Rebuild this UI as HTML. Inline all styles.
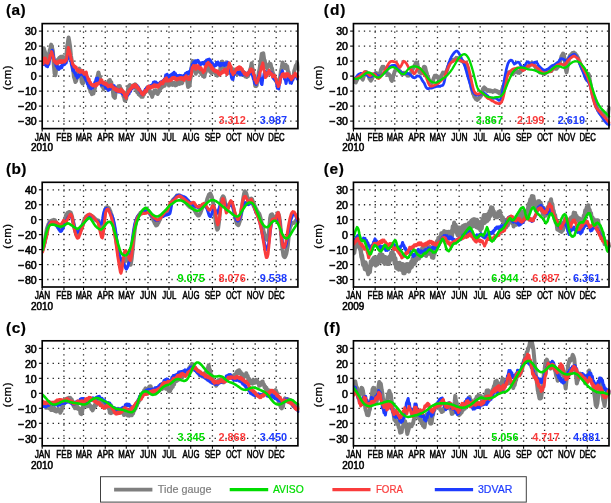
<!DOCTYPE html><html><head><meta charset="utf-8"><title>Sea level time series</title>
<style>html,body{margin:0;padding:0;background:#fff}svg{display:block}.t{font-family:"Liberation Sans",sans-serif;font-size:10.6px;fill:#000;stroke:#000;stroke-width:.55px}.p{font-family:"Liberation Sans",sans-serif;font-size:15.4px;font-weight:bold;fill:#000;stroke:#000;stroke-width:.2px}.u{font-family:"Liberation Sans",sans-serif;font-size:11.5px;fill:#000;stroke:#000;stroke-width:.25px;letter-spacing:.6px}.v{font-family:"Liberation Sans",sans-serif;font-size:11.3px;font-weight:bold}.l{font-family:"Liberation Sans",sans-serif;font-size:10.6px;stroke-width:.2px}.g{stroke:#222;stroke-width:1.3;stroke-dasharray:1.3 4.1;fill:none}.c{fill:none;stroke-linejoin:round;stroke-linecap:round}</style></head><body>
<svg width="611" height="503" viewBox="0 0 611 503">
<rect width="611" height="503" fill="#fff"/>
<g id="panel-a">
<text class="p" x="6.1" y="15.4" textLength="19.5" lengthAdjust="spacing">(a)</text>
<path class="g" d="M47.2 31.1H297.9"/>
<path class="g" d="M47.2 46.1H297.9"/>
<path class="g" d="M47.2 61.1H297.9"/>
<path class="g" d="M47.2 76.1H297.9"/>
<path class="g" d="M47.2 91.1H297.9"/>
<path class="g" d="M47.2 106.1H297.9"/>
<path class="g" d="M47.2 121.1H297.9"/>
<path class="g" d="M63.92 26.15V128.6"/>
<path class="g" d="M83.53 26.15V128.6"/>
<path class="g" d="M105.25 26.15V128.6"/>
<path class="g" d="M126.27 26.15V128.6"/>
<path class="g" d="M147.98 26.15V128.6"/>
<path class="g" d="M169 26.15V128.6"/>
<path class="g" d="M190.72 26.15V128.6"/>
<path class="g" d="M212.43 26.15V128.6"/>
<path class="g" d="M233.45 26.15V128.6"/>
<path class="g" d="M255.17 26.15V128.6"/>
<path class="g" d="M276.18 26.15V128.6"/>
<clipPath id="cp-a"><rect x="42.2" y="23.6" width="257.2" height="105"/></clipPath>
<g clip-path="url(#cp-a)">
<path class="c" stroke="#7f7f7f" stroke-width="4.0" d="M42.58 60.18 43.13 55.62 43.87 48.36 44.57 51.35 45.37 53.15 46.04 56.1 46.78 56.14 47.52 58.3 48.26 56.12 49 55.33 49.67 50.53 50.45 48.29 51.17 44.65 52.02 47.46 52.89 51.13 53.76 64.21 54.61 73.46 55.38 75.19 56.12 69.63 56.86 65.89 57.62 59.71 58.44 59.33 59.34 57.93 60.04 58.29 60.79 56.95 61.49 58.03 62.35 56.47 63.21 59.26 63.91 58.82 64.66 62.36 65.36 60.62 66.25 56.71 67.07 47.19 67.84 42.57 68.58 37.52 69.32 41.63 70.08 46.61 70.9 55.28 71.8 61.02 72.48 67.41 73.22 70.4 73.95 76.93 74.69 78.97 75.43 82.01 76.1 80.96 76.88 77.98 77.6 71.72 78.46 69.84 79.32 68.61 80.07 72.44 80.83 75.1 81.69 81.93 82.55 83.41 83.3 82.96 84.05 77.59 84.88 76.19 85.77 73.29 86.39 76 87.03 77.22 87.7 82.08 88.38 83.94 89.08 88.01 89.85 88.93 90.52 91.94 91.25 91.5 91.97 94.14 92.64 92.2 93.4 93.51 94.1 90.33 94.79 88.95 95.53 85.15 96.27 83.15 96.94 79.14 97.72 76.01 98.45 72.41 99.27 75.92 100.17 78.5 100.85 83.18 101.58 83.64 102.31 86.79 103.01 86.72 103.71 89.11 104.46 86.65 105.07 87.98 105.71 85.32 106.37 86.55 107.04 83.48 107.74 83.91 108.46 80.96 109.17 81.81 109.83 79.97 110.59 81.88 111.29 82.3 111.98 86.22 112.7 89.49 113.41 96.08 114.13 97.16 114.85 97.9 115.56 92.32 116.28 91.03 117 87.72 117.71 88.63 118.43 86.21 119.15 87.98 119.86 86.13 120.58 89.36 121.28 89.1 121.98 91.79 122.73 92.49 123.37 96 124.05 96.95 124.72 100.33 125.31 100.58 126.19 98.83 127.02 92.98 127.7 91.61 128.44 86.36 129.17 86.12 129.85 85.02 130.52 87.36 131.32 86.31 131.91 87.64 132.57 86.74 133.25 87.05 133.93 85.11 134.55 85.95 135.23 84.27 135.86 88.18 136.48 89.06 137.12 92.2 137.8 91.29 138.51 94.13 139.22 93.11 139.92 95.45 140.62 94.94 141.33 96.8 142.03 94.75 142.71 96.8 143.38 94.04 144.04 94.38 144.68 91.78 145.29 92.27 146.02 89.27 146.71 89.17 147.44 87.36 148.06 89.53 148.73 88.82 149.4 91.68 150.02 91.19 150.74 93.9 151.42 93.92 152.17 96.84 152.82 94.03 153.52 93.89 154.25 90.75 154.96 91.83 155.67 90.39 156.39 92.81 157.1 92.21 157.75 94.03 158.5 91.42 159.18 91.67 159.9 87.78 160.52 88.45 161.19 86.81 161.86 87.33 162.48 85.7 163.23 86.2 163.93 84.31 164.63 85.68 165.35 82.82 166.06 83.59 166.78 80.72 167.54 83.01 168.29 83.15 168.93 85.55 169.44 83.9 170 83.86 170.53 82.83 171.18 84.47 171.88 82.89 172.58 84.95 173.26 83.1 173.96 84.12 174.67 82.95 175.37 85.41 176.07 83.7 176.78 84.84 177.49 82.65 178.17 83.14 178.84 81.69 179.5 83.95 180.13 82.5 180.74 83.16 181.49 81.34 182.19 83.11 182.89 80.15 183.61 79.45 184.32 75.68 185.04 75.61 185.77 74.9 186.51 79.67 187.19 81.02 188.06 87.01 188.91 86.2 189.55 85.85 190.2 79.37 190.84 76.81 191.73 66.43 192.56 60.96 193.31 61.89 194.07 68.52 194.89 70.63 195.79 73.71 196.47 71.25 197.2 71.17 197.93 68.61 198.65 70.5 199.36 70.15 200.08 72.38 200.8 71.93 201.51 74.27 202.23 73.22 202.95 76.05 203.66 75.29 204.38 76.79 205.1 73.14 205.81 71.98 206.53 67.93 207.25 67.41 207.96 64.69 208.68 66.12 209.4 66.88 210.11 71.64 210.83 72.03 211.55 73.02 212.26 69.73 212.98 70.33 213.69 69.16 214.41 72.37 215.12 72.06 215.82 73.99 216.52 73.65 217.27 75.65 217.9 73.41 218.59 74.55 219.26 72.22 219.85 72.8 220.74 65.3 221.57 62.41 222.25 61.54 222.99 66.32 223.72 67.43 224.44 67.66 225.15 64.89 225.87 65.96 226.59 67.47 227.3 72.32 228.02 72.77 228.74 72.89 229.45 68.59 230.17 68.06 230.88 67.63 231.6 71.59 232.31 71.79 233.03 72.45 233.74 69.33 234.46 69.97 235.16 69.89 235.86 73.55 236.61 72.95 237.22 74.36 237.86 71.55 238.52 72.56 239.19 69.67 239.87 70.63 240.57 69.13 241.28 70.75 241.98 69.86 242.68 72.2 243.39 71.82 244.1 75.35 244.78 74.54 245.44 76.51 246.08 75.89 246.72 76.98 247.36 75.58 248.02 76.17 248.7 72.86 249.35 73.28 249.93 70.25 250.82 67.52 251.65 63.19 252.33 67.71 253.07 70.16 253.8 76.69 254.52 79.78 255.23 85.95 255.95 86.13 256.67 85.61 257.38 79.96 258.1 77.59 258.82 72.12 259.53 69.3 260.25 63.91 260.98 59.89 261.72 53.9 262.4 53.7 263.26 53.31 264.12 59.33 264.8 60.7 265.53 65.93 266.26 66.77 266.98 68.25 267.69 65.69 268.41 65.57 269.13 64.07 269.84 64.74 270.56 63.92 271.28 67.25 271.99 68.48 272.71 72.63 273.43 73.92 274.14 77.07 274.86 77.25 275.58 80.57 276.29 80.51 277.01 83.22 277.74 81.99 278.48 82.98 279.16 79.67 280.05 77.45 280.88 71.19 281.74 67.89 282.6 62.55 283.43 66.07 284.31 67.63 284.99 68.09 285.73 64.81 286.46 66.43 287.18 66.27 287.89 70.92 288.61 72.15 289.33 76.74 290.04 77.22 290.76 80.52 291.48 78.67 292.19 79.61 292.91 76.7 293.63 75.31 294.34 70.58 295.06 68.75 295.79 65.69 296.53 64.96 297.21 63.1 298.2 67.79 298.93 69.5"/>
<path class="c" stroke="#1e3cff" stroke-width="3.0" d="M42.58 62.87 43.1 64.51 43.84 62.6 44.65 64.48 45.37 63.46 46.13 66.02 46.83 64.55 47.52 66.72 48.22 64.36 48.92 64.29 49.67 59.26 50.3 58.14 50.99 53.27 51.66 53.2 52.25 50.15 53.14 55.26 53.97 58.2 54.66 62.12 55.39 62.03 56.12 66.09 56.83 65.58 57.55 68.33 58.26 67.64 58.98 69.35 59.69 66.91 60.41 68.17 61.1 65.94 61.8 67.62 62.56 64.25 63.23 65.34 63.96 63.19 64.69 64.46 65.36 61.91 66.16 62.96 66.89 59.37 67.5 59.4 68.05 54.17 68.58 52.76 69.17 51.92 69.85 56.32 70.51 57.24 71.36 64.38 72.23 66.55 72.91 70.76 73.65 69.85 74.38 72.48 75.1 72.63 75.81 75.65 76.53 74.82 77.25 77.92 77.96 75.98 78.68 76.61 79.4 73.75 80.11 74.85 80.83 72.09 81.55 73.87 82.26 71.95 82.98 75.14 83.69 74.54 84.41 77.46 85.12 77.88 85.82 80.39 86.52 80 87.27 83.77 87.88 82.49 88.52 85.94 89.18 84.76 89.85 87.96 90.55 87.05 91.27 88.64 91.98 87.03 92.64 87.87 93.4 84.87 94.1 85.56 94.79 82.38 95.51 81.93 96.22 78.58 96.94 79.95 97.66 78.17 98.37 81.66 99.09 80.63 99.81 83.58 100.52 83.14 101.24 85.13 101.96 83.54 102.67 85.03 103.39 82.72 104.08 84.89 104.78 84.46 105.54 87.9 106.2 86.5 106.91 88.84 107.63 88.2 108.33 90.37 108.99 88.02 109.63 89.64 110.27 86.58 110.91 88.1 111.57 86.13 112.23 88.06 112.88 85.62 113.49 87.61 114.24 85.75 114.94 89.2 115.64 87.8 116.33 91.2 117.03 90.32 117.79 91.71 118.44 90.17 119.15 92.08 119.87 89.59 120.58 92.13 121.29 90.52 122.01 93.53 122.72 91.88 123.37 94.54 124.13 93.41 124.83 96.37 125.52 95.56 126.24 96.71 126.95 94.55 127.67 95.2 128.35 92.87 129.04 93.94 129.82 90.33 130.52 91.39 131.28 88.43 132.07 88.74 132.83 86.01 133.56 87.8 134.28 85.87 134.97 86.52 135.62 85.63 136.37 86.58 137.05 85.39 137.77 88.18 138.38 86.96 139.02 90.01 139.68 89.1 140.35 92.48 141.05 91.71 141.77 94.48 142.48 92.17 143.14 94.17 143.89 91.66 144.57 92.46 145.29 89.2 145.9 90.35 146.54 87.95 147.2 88.9 147.87 87.21 148.55 87.97 149.25 86.28 149.96 87.42 150.66 85.59 151.36 86.86 152.07 84.67 152.77 85.26 153.45 82.19 154.12 84.29 154.78 81.85 155.42 83.39 156.03 82.19 156.76 84.65 157.45 83.41 158.18 85.68 158.79 83.87 159.43 84.66 160.09 82.32 160.76 84.04 161.44 81.82 162.14 83.5 162.85 80.79 163.55 81.96 164.26 79.34 164.99 79.25 165.7 74.92 166.35 75.94 167.14 74.19 167.86 77.63 168.5 76.31 169.22 78.27 170 75.32 170.58 76.47 171.25 74.47 171.94 75.26 172.58 73.54 173.33 74.34 174.03 72.29 174.73 74.43 175.42 73.46 176.12 76.43 176.88 75.36 177.55 77.52 178.27 75.62 179 76.68 179.67 75.31 180.43 77.09 181.13 75.56 181.82 78.42 182.54 76.17 183.25 77.23 183.97 75.18 184.66 76.37 185.36 73.59 186.12 75.29 186.79 72.52 187.51 73.72 188.24 72.06 188.91 73.74 189.67 71.33 190.37 70.54 191.06 67.82 191.76 67.68 192.46 64.25 193.21 64.32 193.84 62.02 194.5 62.93 195.17 60.7 195.79 63.12 196.54 60.89 197.23 61.67 197.93 60.23 198.65 62.56 199.36 62.33 200.08 65.06 200.8 63.75 201.51 64.24 202.23 62.43 202.95 63.49 203.66 62.52 204.38 64.37 205.1 61.9 205.81 62.12 206.53 59.93 207.25 61.49 207.96 59.58 208.68 61.07 209.4 59.04 210.11 62.46 210.83 60.75 211.55 64.07 212.26 62.79 212.98 65.27 213.69 64.47 214.41 66.24 215.12 64.88 215.84 65.49 216.55 62.58 217.27 63.7 217.99 61.96 218.7 65.07 219.42 63.62 220.14 65.85 220.85 63.35 221.57 65.26 222.27 63.5 222.97 64.62 223.72 63.61 224.34 65.5 225.01 63.05 225.68 64.65 226.3 63.48 227.05 64.72 227.75 62.11 228.45 65.39 229.18 65.48 229.92 70.85 230.6 71.31 231.46 77.56 232.31 79.22 232.99 79.36 233.73 75.15 234.46 74.57 235.18 71.18 235.89 72.27 236.61 70.36 237.33 72.59 238.04 71.69 238.76 73.54 239.44 72.59 240.11 75.09 240.91 72.49 241.49 74.81 242.12 73.5 242.79 74.82 243.47 72.96 244.13 73.63 244.78 72.62 245.42 74.72 246.07 73.13 246.71 75.5 247.36 73.92 248.02 74.28 248.7 72.66 249.37 73.92 250 71.3 250.58 73.21 251.36 72.61 252.02 75.25 252.73 76.05 253.35 78.95 254.01 79.14 254.67 83.15 255.31 82.52 256.12 84.4 256.91 81.02 257.67 80.25 258.43 76.35 259.16 75.17 259.82 72.34 260.57 80.62 261.32 83.69 261.99 84.51 262.73 78.67 263.47 77.51 264.19 73.31 264.9 74.43 265.62 71.61 266.31 73.07 267.01 71.74 267.77 73.96 268.43 71.73 269.14 73.43 269.86 71.73 270.56 73.93 271.22 72.33 271.86 75.28 272.5 74.28 273.14 78.33 273.79 77.63 274.44 79.56 275.09 78.23 275.72 81 276.54 82.32 277.33 88.24 278.08 88.08 278.77 88.8 279.41 84.13 280.02 82.82 280.87 75.08 281.74 72.7 282.42 70.67 283.15 74.38 283.88 74.53 284.6 79.15 285.31 79.76 286.03 83.42 286.73 79.99 287.43 79.74 288.18 76.82 288.8 79.63 289.47 79.22 290.14 82.89 290.76 82.52 291.51 83.29 292.21 79.85 292.91 80.01 293.63 76.49 294.34 76.72 295.06 74.17 295.86 76.77 296.65 75.66 297.21 78.95"/>
<path class="c" stroke="#fa3c3c" stroke-width="3.0" d="M42.58 62.56 43.22 63.9 43.91 58.21 44.73 57.98 45.55 58.13 46.45 63.02 47.14 61.82 47.87 63.24 48.6 60.65 49.33 60.13 50.06 55.24 50.74 54.84 51.64 51.58 52.46 54.73 53.19 56.46 53.97 61.34 54.64 60.59 55.38 62.9 56.12 61.7 56.79 63.85 57.47 61.93 58.26 63.06 58.84 61.01 59.47 62.53 60.15 60.52 60.83 62.52 61.49 60.73 62.15 62.59 62.83 60.77 63.5 61.97 64.13 60.62 64.71 62.06 65.53 59.93 66.23 60.42 66.86 57.2 67.64 52.76 68.36 47.6 69.21 50.34 70.08 53.64 70.95 58.45 71.8 60.49 72.53 64.23 73.31 64.44 73.98 66.97 74.71 65.98 75.45 67.9 76.17 67.09 76.88 70.31 77.6 69.25 78.32 71.37 79.03 70.15 79.75 72.48 80.47 70.83 81.18 71.86 81.9 70.37 82.62 72.4 83.33 71.73 84.05 74.32 84.79 72.75 85.53 73.94 86.2 71.96 86.95 75.88 87.7 77.43 88.37 80.5 89.11 79.15 89.85 82.86 90.54 82.33 91.24 84.91 92 84.52 92.67 85.91 93.39 84.62 94.12 85.9 94.79 84.44 95.55 86.13 96.25 83.59 96.94 85.25 97.66 83.31 98.37 83.8 99.09 82.58 99.81 82.74 100.52 79.77 101.24 81.08 101.96 80 102.67 83.2 103.39 82.25 104.07 84.02 104.74 82.93 105.54 84.56 106.12 83.19 106.75 85.42 107.42 84.8 108.1 86.87 108.76 85.36 109.42 86.26 110.1 85.46 110.77 86.72 111.4 84.64 111.98 86.65 112.78 86.45 113.45 88.94 114.13 87.5 114.85 89.5 115.56 88.44 116.28 90.81 116.96 89.08 117.63 91.35 118.43 89.7 119.02 91.57 119.69 90.02 120.39 91.58 121.06 88.97 121.65 91.66 122.46 90.22 123.15 92.9 123.8 91.6 124.66 96.07 125.52 96.66 126.2 98.19 126.94 94.13 127.67 94.05 128.37 91.03 129.07 91.93 129.82 89.19 130.42 89.74 131.04 87.9 131.7 88.14 132.4 85.64 133.02 87.38 133.69 84.92 134.38 86.87 135.03 84.49 135.62 86.9 136.42 85.1 137.09 87.97 137.77 86.92 138.46 89.69 139.16 88.46 139.92 91.07 140.58 91.09 141.29 93.71 142.01 92.6 142.71 94.98 143.38 92.65 144.04 93.93 144.68 90.81 145.29 92.39 146.02 89.69 146.71 91.16 147.44 87.33 148.05 88.68 148.69 86.05 149.35 87.47 150.02 86.67 150.72 88.21 151.44 86.42 152.15 87.29 152.81 85.83 153.55 87.12 154.22 84.76 154.96 86.54 155.62 84.95 156.33 86.75 157.05 85.29 157.75 87.3 158.41 84.92 159.05 86.42 159.69 83.88 160.33 84.4 160.97 82.04 161.61 83.93 162.25 82.13 162.91 83.75 163.61 80.35 164.33 81.66 165.04 78.82 165.7 79.17 166.46 77.75 167.16 81.07 167.85 79.76 168.57 81.05 169.28 79.83 170 80.57 170.72 79.1 171.43 80.22 172.15 77.71 172.87 78.63 173.58 77.3 174.3 78.94 175 77.65 175.7 79.58 176.45 78.65 177.06 79.98 177.69 78.33 178.35 79.25 179.02 77.97 179.72 79 180.45 77.5 181.16 79.13 181.82 77.56 182.58 79.44 183.28 78.33 183.97 80.33 184.69 77.39 185.4 78.58 186.12 75.71 186.83 78.32 187.55 77.06 188.26 79.54 188.99 77.96 189.72 79.55 190.41 76.62 191.28 74.45 192.13 67.52 192.77 68.13 193.43 65.56 194.07 65.78 194.94 65.68 195.79 69.3 196.62 65.58 197.5 66.39 198.18 65.66 198.92 68.64 199.65 67.38 200.37 69.69 201.08 67.63 201.8 70.19 202.52 69.87 203.23 72.7 203.95 71.02 204.67 71.05 205.38 66.31 206.1 66.78 206.82 63.55 207.53 64.46 208.25 62.39 208.97 64.73 209.68 63.92 210.4 66.26 211.1 65.27 211.8 68.84 212.55 67.61 213.16 70.09 213.81 69.54 214.47 71.28 215.12 70.64 215.77 71.91 216.44 70.51 217.09 71.91 217.7 71.06 218.42 73.89 219.1 72.94 219.85 75.14 220.52 72.78 221.25 73.58 221.97 71.79 222.64 72.72 223.4 70.22 224.1 71.22 224.79 69.4 225.53 72.63 226.27 72.38 226.94 74.46 227.72 69.3 228.45 66.97 229.27 62.87 230.17 65.08 230.85 66.38 231.58 72.07 232.31 72.22 233.01 74.69 233.71 72.33 234.46 73.19 235.07 71.18 235.71 70.61 236.37 68.62 237.04 69.3 237.74 67.46 238.46 69.35 239.17 66.79 239.83 68.56 240.59 67.31 241.29 69.21 241.98 68.67 242.67 71.56 243.37 71.54 244.13 73.87 244.79 72.74 245.5 74.69 246.23 73.2 246.93 75.63 247.59 73.36 248.23 74.38 248.86 71.89 249.5 72.48 250.15 69.49 250.82 70.89 251.47 68.91 252.08 71.43 252.83 70.01 253.53 74.39 254.23 74.99 254.95 79.99 255.66 80.35 256.38 83.17 257.1 81.26 257.81 81.06 258.53 77.63 259.25 76.46 259.96 72.06 260.68 70.59 261.41 66.45 262.15 65.92 262.83 62.86 263.72 69.11 264.55 72.24 265.38 77.52 266.26 76.26 266.94 76.02 267.68 72.04 268.41 72 269.11 70.17 269.81 73.85 270.56 72.45 271.18 74.61 271.85 73.78 272.52 76.83 273.14 74.93 273.89 76.5 274.59 75.3 275.29 78.54 276.02 78.68 276.76 82.84 277.44 82.48 278.34 86.59 279.16 85.01 279.88 82.7 280.66 77.36 281.33 77.32 282.07 74.26 282.81 74.7 283.53 73.46 284.24 77.06 284.96 75.86 285.68 76.88 286.39 73.64 287.11 74.4 287.83 73.64 288.54 76.29 289.26 74.86 289.97 77.55 290.69 76.72 291.4 79.7 292.12 76.6 292.83 77.92 293.55 75.29 294.27 76.05 294.98 73.26 295.7 75.49 296.5 74.03 297.29 76.97 297.85 76.56"/>
</g>
<rect x="42.2" y="23.6" width="255.7" height="105" fill="none" stroke="#000" stroke-width="1.65"/>
<path d="M38.9 31.1H42.2" stroke="#000" stroke-width="1.1"/>
<text class="t" x="36.7" y="35.4" text-anchor="end">30</text>
<path d="M38.9 46.1H42.2" stroke="#000" stroke-width="1.1"/>
<text class="t" x="36.7" y="50.4" text-anchor="end">20</text>
<path d="M38.9 61.1H42.2" stroke="#000" stroke-width="1.1"/>
<text class="t" x="36.7" y="65.4" text-anchor="end">10</text>
<path d="M38.9 76.1H42.2" stroke="#000" stroke-width="1.1"/>
<text class="t" x="36.7" y="80.4" text-anchor="end">0</text>
<path d="M38.9 91.1H42.2" stroke="#000" stroke-width="1.1"/>
<text class="t" x="36.7" y="95.4" text-anchor="end">−<tspan dx="0.9">10</tspan></text>
<path d="M38.9 106.1H42.2" stroke="#000" stroke-width="1.1"/>
<text class="t" x="36.7" y="110.4" text-anchor="end">−<tspan dx="0.9">20</tspan></text>
<path d="M38.9 121.1H42.2" stroke="#000" stroke-width="1.1"/>
<text class="t" x="36.7" y="125.4" text-anchor="end">−<tspan dx="0.9">30</tspan></text>
<path d="M42.2 128.6V131.6" stroke="#000" stroke-width="1.1"/>
<text class="t" x="42.5" y="141" text-anchor="middle" textLength="15.6" lengthAdjust="spacingAndGlyphs">JAN</text>
<path d="M63.92 128.6V131.6" stroke="#000" stroke-width="1.1"/>
<text class="t" x="64.22" y="141" text-anchor="middle" textLength="15.7" lengthAdjust="spacingAndGlyphs">FEB</text>
<path d="M83.53 128.6V131.6" stroke="#000" stroke-width="1.1"/>
<text class="t" x="83.83" y="141" text-anchor="middle" textLength="16.4" lengthAdjust="spacingAndGlyphs">MAR</text>
<path d="M105.25 128.6V131.6" stroke="#000" stroke-width="1.1"/>
<text class="t" x="105.55" y="141" text-anchor="middle" textLength="16.4" lengthAdjust="spacingAndGlyphs">APR</text>
<path d="M126.27 128.6V131.6" stroke="#000" stroke-width="1.1"/>
<text class="t" x="126.57" y="141" text-anchor="middle" textLength="16.4" lengthAdjust="spacingAndGlyphs">MAY</text>
<path d="M147.98 128.6V131.6" stroke="#000" stroke-width="1.1"/>
<text class="t" x="148.28" y="141" text-anchor="middle" textLength="16.4" lengthAdjust="spacingAndGlyphs">JUN</text>
<path d="M169 128.6V131.6" stroke="#000" stroke-width="1.1"/>
<text class="t" x="169.3" y="141" text-anchor="middle" textLength="13.9" lengthAdjust="spacingAndGlyphs">JUL</text>
<path d="M190.72 128.6V131.6" stroke="#000" stroke-width="1.1"/>
<text class="t" x="191.02" y="141" text-anchor="middle" textLength="16.9" lengthAdjust="spacingAndGlyphs">AUG</text>
<path d="M212.43 128.6V131.6" stroke="#000" stroke-width="1.1"/>
<text class="t" x="212.73" y="141" text-anchor="middle" textLength="16" lengthAdjust="spacingAndGlyphs">SEP</text>
<path d="M233.45 128.6V131.6" stroke="#000" stroke-width="1.1"/>
<text class="t" x="233.75" y="141" text-anchor="middle" textLength="15.5" lengthAdjust="spacingAndGlyphs">OCT</text>
<path d="M255.17 128.6V131.6" stroke="#000" stroke-width="1.1"/>
<text class="t" x="255.47" y="141" text-anchor="middle" textLength="17.2" lengthAdjust="spacingAndGlyphs">NOV</text>
<path d="M276.18 128.6V131.6" stroke="#000" stroke-width="1.1"/>
<text class="t" x="276.48" y="141" text-anchor="middle" textLength="16.4" lengthAdjust="spacingAndGlyphs">DEC</text>
<text class="t" x="42" y="151.3" text-anchor="middle" textLength="22.1" lengthAdjust="spacingAndGlyphs">2010</text>
<text class="u" transform="translate(11.2 77.4) rotate(-90)" text-anchor="middle">(cm)</text>
<text class="v" x="232.1" y="123.9" text-anchor="middle" fill="#fa3c3c" textLength="27.4" lengthAdjust="spacingAndGlyphs">3.312</text>
<text class="v" x="273.4" y="123.9" text-anchor="middle" fill="#1e3cff" textLength="27.4" lengthAdjust="spacingAndGlyphs">3.987</text>
</g>
<g id="panel-b">
<text class="p" x="6.1" y="174.1" textLength="20.4" lengthAdjust="spacing">(b)</text>
<path class="g" d="M47.2 189.78H297.9"/>
<path class="g" d="M47.2 204.74H297.9"/>
<path class="g" d="M47.2 219.69H297.9"/>
<path class="g" d="M47.2 234.65H297.9"/>
<path class="g" d="M47.2 249.61H297.9"/>
<path class="g" d="M47.2 264.56H297.9"/>
<path class="g" d="M47.2 279.52H297.9"/>
<path class="g" d="M63.92 184.85V287"/>
<path class="g" d="M83.53 184.85V287"/>
<path class="g" d="M105.25 184.85V287"/>
<path class="g" d="M126.27 184.85V287"/>
<path class="g" d="M147.98 184.85V287"/>
<path class="g" d="M169 184.85V287"/>
<path class="g" d="M190.72 184.85V287"/>
<path class="g" d="M212.43 184.85V287"/>
<path class="g" d="M233.45 184.85V287"/>
<path class="g" d="M255.17 184.85V287"/>
<path class="g" d="M276.18 184.85V287"/>
<clipPath id="cp-b"><rect x="42.2" y="182.3" width="257.2" height="104.7"/></clipPath>
<g clip-path="url(#cp-b)">
<path class="c" stroke="#7f7f7f" stroke-width="4.0" d="M42.58 249.34 43.14 247.65 43.93 244.54 44.73 241.85 45.42 237.35 46.12 233.09 46.88 228.9 47.53 226.91 48.23 224.74 48.96 223.28 49.67 221.6 50.37 221.27 51.08 220.77 51.78 220.98 52.46 220.15 53.13 220.35 53.79 219.9 54.43 220.49 55.04 220.34 55.77 221.67 56.46 222.95 57.19 224.66 57.81 224.94 58.48 226.18 59.15 226.46 59.77 227.28 60.52 227.24 61.22 227.67 61.92 226.81 62.64 225.93 63.35 223.76 64.07 221.87 64.78 219.16 65.5 217.07 66.21 214.7 66.92 213.97 67.63 212.76 68.36 212.47 69.15 211.93 69.96 212.31 70.73 212.66 71.4 214.68 72.02 216.7 72.66 219.79 73.36 222.7 74.09 226.91 74.81 229.45 75.53 232.13 76.24 233.6 76.96 234.86 77.68 234.57 78.39 234.33 79.11 233.17 79.83 232.3 80.54 230.5 81.26 229.16 81.97 226.95 82.69 225.12 83.4 222.57 84.09 220.72 84.78 218.49 85.55 217.42 86.2 216.45 86.91 216.42 87.64 215.59 88.35 215.47 89.05 214.97 89.76 215.37 90.46 215.18 91.14 215.88 91.8 215.86 92.44 216.78 93.08 216.79 93.72 217.88 94.38 217.98 95.04 218.91 95.69 219.29 96.3 220.14 97.06 220.19 97.78 220.4 98.45 220.43 99.34 223.84 100.17 227.03 101.03 230.3 101.88 230.72 102.73 227.13 103.6 221.13 104.2 217.24 104.82 212.31 105.54 209.14 106.18 207.53 106.9 207.48 107.63 207.2 108.33 207.92 108.99 208.25 109.63 209.95 110.27 211.12 110.91 213.19 111.57 215 112.23 217.77 112.88 220.48 113.49 223.96 114.24 227.91 114.94 232.65 115.64 236.68 116.36 241.44 117.07 245.42 117.79 249.75 118.5 253.23 119.22 257.48 119.93 260.12 120.65 262.86 121.36 263.82 122.08 264.87 122.8 263.97 123.51 263.14 124.23 261.7 124.95 260.75 125.66 258.78 126.38 258.2 127.1 258.68 127.81 260.73 128.53 262.05 129.26 263.88 130 264.85 130.68 264.79 131.57 259.49 132.4 252.2 133.26 243.09 134.12 234.93 134.95 227.86 135.83 223.07 136.5 220.04 137.22 218.42 137.98 216.47 138.59 215.84 139.24 214.6 139.9 213.98 140.56 212.8 141.2 212.66 141.85 211.9 142.5 211.78 143.14 210.94 143.78 210.99 144.42 210.55 145.06 211.05 145.72 211.02 146.41 211.32 147.12 210.93 147.82 211.32 148.51 211.32 149.17 212.5 149.83 213.12 150.47 214.69 151.09 215.37 151.88 217.3 152.66 218.41 153.45 220.69 154.08 221.6 154.73 223.23 155.38 224.11 156.03 225.54 156.67 225.18 157.31 224.63 157.95 223.2 158.61 222.36 159.29 220.7 159.99 219.2 160.7 217.22 161.4 216.37 162.1 214.76 162.81 214.41 163.52 213.45 164.2 213.37 164.85 212.72 165.46 212.46 166.1 211.36 166.78 211.07 167.4 210.19 168.07 210.01 168.76 208.87 169.41 208.15 170 206.23 170.78 204.73 171.44 202.5 172.15 201.32 172.76 200.12 173.4 199.61 174.06 198.84 174.73 198.53 175.41 197.37 176.11 196.83 176.82 195.65 177.52 195.86 178.22 195.46 178.93 195.86 179.63 195.54 180.31 196.29 180.97 196.58 181.61 197.75 182.25 198.28 182.89 199.49 183.53 199.72 184.17 200.95 184.81 201.27 185.47 202.4 186.15 202.78 186.85 203.96 187.56 204.55 188.26 205.66 188.96 206.1 189.67 206.93 190.38 206.86 191.06 207.76 191.72 207.58 192.36 208.2 193 208.21 193.64 209.06 194.29 209.72 194.95 211.24 195.6 212.02 196.21 213.52 196.96 214.05 197.66 215.36 198.36 215.62 199.08 215.35 199.79 213.91 200.51 212.69 201.23 210.55 201.94 208.79 202.66 206.79 203.39 206.09 204.13 205.32 204.81 205.16 205.7 203.52 206.53 201.97 207.36 198.69 208.25 196.47 208.93 194.71 209.67 193.98 210.4 193.61 211.12 195.23 211.83 197 212.55 200.13 213.28 203.68 214.01 209.03 214.69 213.38 215.58 221.01 216.41 226.42 217.27 229.64 218.13 228.34 218.99 221.88 219.85 212.78 220.68 205.43 221.57 199.1 222.27 197.6 223.02 196.33 223.72 196.96 224.61 199.84 225.44 204.73 226.27 207.56 227.16 209.43 227.83 208.06 228.55 206.25 229.31 204.15 229.93 204.25 230.6 203.64 231.26 204.39 231.88 204.43 232.63 206.1 233.33 207.88 234.03 210.92 234.75 214.19 235.46 218.52 236.18 221.51 236.9 223.99 237.61 224.78 238.33 225.13 239.05 223.39 239.76 221.32 240.48 217.43 241.2 213.34 241.91 207.62 242.63 202.74 243.35 197.66 244.06 193.87 244.78 191.29 245.5 191.92 246.21 193.3 246.93 195.9 247.64 198.03 248.36 201.14 249.07 202.18 249.79 201.71 250.5 199.12 251.22 198.46 251.94 198.87 252.65 201.03 253.37 202.45 254.09 204.54 254.8 206.06 255.52 207.95 256.24 209.05 256.95 210.64 257.67 211.59 258.39 213.16 259.1 213.55 259.82 215.44 260.54 217.99 261.25 221.48 261.97 224.27 262.69 227.64 263.4 230.1 264.12 233.17 264.83 235.39 265.55 238.1 266.26 238.99 266.99 239.58 267.72 238.58 268.41 236.86 269.28 227.31 270.13 218.19 270.75 215.13 271.4 214.65 272.07 214.32 272.77 215.56 273.49 216.77 274.21 218.33 274.94 218.05 275.67 218.2 276.36 216.99 277.23 214.73 278.08 212.87 278.72 214.6 279.38 217.44 280.02 222.08 280.89 231.21 281.74 241.63 282.57 249.47 283.45 255.64 284.13 256.88 284.87 257.18 285.6 255.72 286.33 253.55 287.07 249.6 287.75 245.69 288.61 237.33 289.47 230.39 290.15 226.98 290.89 225.4 291.62 223.57 292.34 223.24 293.05 222.88 293.77 223.04 294.48 222.15 295.19 221.75 295.92 220.48 296.78 220.38 297.66 219.59 298.28 219.84"/>
<path class="c" stroke="#1e3cff" stroke-width="3.0" d="M42.58 250.61 43.14 249.09 43.93 246.13 44.73 243.27 45.45 239.72 46.16 236.45 46.88 232.65 47.59 229.48 48.31 225.98 49.02 223.88 49.71 222.69 50.4 222.7 51.17 222.46 51.82 222.92 52.53 223.14 53.26 223.95 53.97 223.95 54.68 224.63 55.41 224.76 56.11 225.59 56.76 226.06 57.53 227.47 58.23 228.33 58.91 229.61 59.56 230.29 60.19 231.37 60.84 231.43 61.54 231.04 62.27 229.6 62.99 228.39 63.7 226.33 64.41 224.76 65.14 222.81 65.9 221.57 66.69 219.84 67.5 218.58 68.14 217.28 68.8 216.55 69.46 215.67 70.08 215.75 70.83 215.95 71.53 217.15 72.23 218.4 72.95 221.01 73.66 223.5 74.38 226.16 75.1 228.19 75.81 230.42 76.53 231.68 77.25 232.29 77.96 231.64 78.68 231.29 79.4 230.41 80.11 229.54 80.83 228.13 81.53 226.99 82.23 225.09 82.98 223.92 83.59 222.8 84.22 222.18 84.88 221.24 85.55 220.82 86.23 219.93 86.94 219.34 87.65 218.23 88.35 217.8 89.05 217.03 89.76 216.8 90.46 216.23 91.14 216.39 91.8 216.4 92.44 217.25 93.08 217.51 93.72 218.62 94.38 219.19 95.04 220.1 95.69 220.34 96.3 220.84 97.06 220.73 97.78 221.42 98.45 221.81 99.34 223.41 100.17 223.96 101.04 224.09 101.88 222.48 102.63 218.76 103.39 214.19 104.18 211.26 105.11 208.91 105.69 208.81 106.33 208.38 107.01 208.79 107.69 208.71 108.38 209.75 109.08 210.65 109.79 212.25 110.48 213.35 111.15 214.55 111.81 215.4 112.45 216.82 113.06 218.41 113.81 221.48 114.51 224.52 115.21 228.56 115.93 232.97 116.64 238.51 117.36 243.14 118.07 247.6 118.79 251.3 119.5 255.1 120.2 257.28 120.9 259.19 121.65 260.34 122.27 261.57 122.94 262.35 123.61 263.61 124.23 264.38 124.98 266.43 125.68 268.05 126.38 269.06 127.1 268.01 127.81 266.3 128.53 263.67 129.26 261.35 130 257.77 130.68 254.1 131.54 246.44 132.4 238.99 133.07 233.92 133.79 229.33 134.55 224.98 135.16 222.73 135.79 220.37 136.45 219.03 137.12 217.2 137.8 216.38 138.51 215.32 139.22 215 139.92 214.19 140.61 213.71 141.3 212.96 142 212.79 142.71 212.13 143.45 212 144.22 211.37 144.98 211.45 145.72 211.02 146.43 211.4 147.13 211.22 147.82 211.88 148.51 212.15 149.2 213.05 149.9 213.49 150.6 214.68 151.31 215.14 152.05 216.19 152.81 216.74 153.57 217.91 154.31 218.51 155.02 219.63 155.72 219.98 156.42 220.59 157.11 220.47 157.81 220.48 158.52 219.64 159.22 219.12 159.9 218.2 160.56 217.98 161.2 217.03 161.84 216.87 162.48 216.45 163.12 216.51 163.76 215.96 164.4 215.76 165.06 215.12 165.76 215.18 166.48 214.74 167.19 214.91 167.85 214.26 168.61 214.47 169.31 214.16 170 213.31 170.7 209.94 171.4 205.88 172.15 202.17 172.76 200.88 173.4 199.56 174.06 199.12 174.73 198.17 175.41 197.73 176.11 196.58 176.82 196.08 177.52 195.23 178.22 195.31 178.93 195.04 179.63 195.29 180.31 195.36 180.97 195.94 181.61 195.99 182.25 196.39 182.89 196.33 183.53 196.82 184.17 196.7 184.81 197.27 185.47 197.43 186.15 198.32 186.85 198.8 187.56 199.71 188.26 200.2 188.96 201.36 189.67 201.88 190.38 202.91 191.06 203.47 191.72 204.22 192.36 204.66 193 205.29 193.64 205.57 194.28 206.11 194.91 206.19 195.55 206.65 196.21 206.64 196.89 207.16 197.6 207.23 198.31 207.8 199.01 207.95 199.71 208.14 200.42 207.5 201.12 207.18 201.8 206.49 202.46 206.4 203.1 205.86 203.74 205.86 204.38 205.59 205.04 206.1 205.7 206.6 206.35 207.72 206.96 208.64 207.72 210.98 208.44 213.22 209.11 215.38 210 216.38 210.83 216.44 211.66 213.91 212.55 211.3 213.23 209.8 213.96 209.19 214.69 208.79 215.41 210.33 216.12 211.96 216.84 213.36 217.56 212.32 218.27 210.72 218.99 208.45 219.71 206.68 220.42 203.95 221.14 202.52 221.86 201.32 222.57 201.4 223.29 201.47 224.01 202.32 224.72 203.19 225.44 204.73 226.14 205.62 226.84 207.13 227.59 207.53 228.2 207.44 228.85 206.23 229.52 205.62 230.17 204.8 230.82 205.1 231.48 205.2 232.13 205.88 232.74 206.54 233.49 209.24 234.19 212.23 234.89 215.57 235.61 217.7 236.32 219.83 237.04 220.57 237.76 221.11 238.47 220.5 239.19 219.82 239.91 217.87 240.62 215.95 241.34 213.24 242.06 210.52 242.77 207.17 243.49 204.97 244.18 203.32 244.88 202.83 245.64 202.52 246.29 203.05 247 203.61 247.72 204.61 248.43 204.71 249.13 204.46 249.84 203.33 250.54 202.84 251.22 202.47 251.89 203.4 252.55 204.24 253.19 205.84 253.8 206.97 254.55 208.94 255.25 210.63 255.95 212.47 256.67 213.65 257.38 215.26 258.1 216.57 258.82 219.03 259.53 221.19 260.25 224.33 260.97 227.46 261.68 231.45 262.4 234.55 263.12 237.93 263.83 240.48 264.55 243.46 265.28 245.99 266.01 248.61 266.69 249.44 267.58 248.73 268.41 245.18 269.27 239.55 270.13 232.48 270.96 226.64 271.85 221.71 272.53 220.44 273.27 219.65 274 219.64 274.73 219.69 275.47 220.69 276.15 220.64 277.04 219.34 277.87 217.54 278.73 217.86 279.59 219.86 280.45 226.92 281.31 234.4 282.17 240.77 283.02 245.01 283.88 247.27 284.74 247.2 285.6 246.16 286.46 243.23 287.29 238.56 288.18 232.41 288.86 228.83 289.6 224.78 290.33 221.87 291.05 219.1 291.76 217.33 292.48 215.47 293.2 214.42 293.91 213.41 294.63 213.65 295.37 214.61 296.11 217.01 296.78 218.74 297.66 220.99 298.28 222"/>
<path class="c" stroke="#fa3c3c" stroke-width="3.0" d="M42.58 252.05 43.31 249.55 44.3 245.6 44.98 243.16 45.72 239.99 46.45 237.2 47.17 233.73 47.88 230.31 48.6 227.04 49.3 225.19 49.99 223.61 50.74 222.79 51.35 222.08 51.99 222.04 52.65 222.02 53.32 222.29 54 222.01 54.71 222.17 55.42 222.09 56.12 222.51 56.82 222.4 57.53 223.02 58.23 223.38 58.91 224.14 59.58 224.2 60.24 224.56 60.88 224.13 61.49 223.91 62.24 222.63 62.94 221.5 63.64 220.31 64.36 220.93 65.07 221.56 65.79 222.12 66.49 221.11 67.18 220.14 67.93 218.42 68.56 217.53 69.25 215.85 69.92 214.81 70.51 214.14 71.42 215.13 72.23 217.44 73.06 222.19 73.95 226.96 74.64 230.42 75.38 233.2 76.1 235.88 76.75 237.13 77.38 238.17 78.03 238.07 78.73 237.5 79.46 235.51 80.18 233.83 80.9 231.52 81.61 229.47 82.33 227.2 83.05 225.21 83.76 222.65 84.48 220.78 85.17 218.51 85.87 217.23 86.63 215.8 87.29 215.39 88 214.61 88.72 214.37 89.42 213.95 90.09 214.29 90.75 214.58 91.39 215.34 92 215.43 92.75 216.38 93.45 217.27 94.15 218.64 94.87 219.16 95.58 220.01 96.3 220.52 97.02 221.58 97.73 222.32 98.45 224.16 99.18 226.94 99.92 230.75 100.6 233.69 101.5 237.24 102.31 237.95 103.06 235.14 103.82 229.23 104.64 221.05 105.54 213.08 106.23 210.75 106.96 209.32 107.69 209.02 108.4 209.4 109.12 211.34 109.83 212.92 110.55 215.01 111.26 216.87 111.98 219.68 112.7 222.83 113.41 226.74 114.13 230.44 114.85 235.31 115.56 240.12 116.28 245.62 116.98 250.63 117.68 256.01 118.43 260.54 119.06 264.61 119.75 268.49 120.42 272.12 121.01 273.24 121.92 269.72 122.73 262.65 123.6 256.96 124.45 252.15 125.17 250.77 125.95 250.68 126.62 251.81 127.36 253.23 128.1 255.31 128.83 257.35 129.57 259.93 130.25 260.54 131.15 257.8 131.97 251.89 132.69 244.77 133.47 236.64 134.14 232.22 134.88 227.62 135.62 224.08 136.31 221.09 137.01 219.3 137.77 217.29 138.43 216.55 139.14 215.34 139.86 214.88 140.56 214.15 141.22 214.16 141.86 213.58 142.5 213.69 143.14 213.27 143.78 213.48 144.42 213.26 145.06 213.47 145.72 213.14 146.41 213.2 147.12 212.56 147.82 212.66 148.51 212.22 149.16 212.54 149.8 212.7 150.44 213.63 151.09 214.12 151.76 215.07 152.44 215.78 153.15 216.98 153.88 217.49 154.5 218.13 155.16 218.23 155.83 218.9 156.49 219.17 157.11 219.92 157.84 219.77 158.55 219.74 159.23 219.08 159.9 218.8 160.56 217.89 161.2 217.21 161.84 216.02 162.48 215.5 163.12 214.49 163.76 213.91 164.4 212.75 165.06 212.12 165.76 211.21 166.48 211.13 167.19 210.46 167.85 209.82 168.61 207.65 169.31 205.38 170 203.14 170.7 202.4 171.4 201.8 172.15 201.51 172.76 200.81 173.4 200.6 174.06 199.9 174.73 199.59 175.41 198.61 176.11 197.99 176.82 197.07 177.52 196.79 178.22 196.21 178.93 196.35 179.63 195.89 180.31 196.34 180.97 196.44 181.61 197.2 182.25 197.62 182.89 198.3 183.53 198.5 184.17 199.34 184.81 199.48 185.47 200.33 186.15 200.57 186.85 201.34 187.56 201.73 188.26 202.44 188.96 202.63 189.67 203.23 190.38 203.2 191.06 203.48 191.72 203.03 192.36 202.89 193 202.22 193.64 202.51 194.28 202.74 194.91 204.04 195.55 204.81 196.21 205.98 196.89 206.27 197.6 206.91 198.31 206.82 199.01 207.14 199.71 206.52 200.42 206.16 201.12 205.2 201.8 204.76 202.46 203.92 203.1 203.83 203.74 203.36 204.38 203.88 205.04 204.03 205.7 205.25 206.35 206.1 206.96 207.13 207.71 208.21 208.41 209.6 209.11 210.16 209.84 210.09 210.58 208.93 211.26 208.18 212.15 206.3 212.98 205.66 213.85 206.41 214.69 208.8 215.46 212.58 216.2 217.37 216.94 221.9 217.7 224.88 218.55 222.78 219.42 218.64 220.28 211.35 221.14 204.73 221.99 200.21 222.86 198.53 223.5 199.31 224.17 201.91 224.79 204.27 225.56 209.62 226.3 213.04 227.12 212.11 228.02 208.84 228.71 206.53 229.44 203.47 230.17 201.66 230.9 200.71 231.63 201.47 232.31 202.38 233.17 205.58 234.03 208.97 234.71 211.7 235.45 213.97 236.18 216.36 236.9 217.93 237.61 219.64 238.33 219.53 239.05 218.46 239.76 215.78 240.48 213.03 241.2 209.13 241.91 205.17 242.63 201.32 243.35 199 244.06 197.02 244.78 196.35 245.5 196.54 246.21 197.96 246.93 199.07 247.64 200.77 248.36 201.99 249.07 202.9 249.79 201.7 250.5 200.26 251.22 199.31 251.94 200.78 252.65 202.55 253.37 204.95 254.09 206.78 254.8 209.3 255.52 211.17 256.24 213.17 256.95 214.55 257.67 216.51 258.39 218.28 259.1 220.74 259.82 222.83 260.54 226 261.25 229.01 261.97 233 262.69 236.74 263.4 241.37 264.12 245.55 264.85 250.35 265.58 254.38 266.26 257.51 267.15 257.46 267.98 254.41 268.84 246.31 269.7 237.19 270.53 228.51 271.42 222.08 272.1 219.75 272.84 219.21 273.57 218.83 274.3 219.33 275.04 219.89 275.72 219.96 276.61 216.45 277.44 213.36 278.3 212.53 279.16 215.33 280.02 223.02 280.88 232.48 281.74 239.64 282.6 245.34 283.45 247.35 284.31 247.56 285.17 245.03 286.03 241.23 286.86 236.05 287.75 230.55 288.43 226.22 289.17 222.32 289.9 218.7 290.62 216.17 291.33 213.77 292.05 212.47 292.77 211.63 293.48 211.87 294.2 211.95 294.92 213.19 295.65 214.73 296.35 216.69 297.08 217.79 297.79 219.17 298.28 219.61"/>
<path class="c" stroke="#00dc00" stroke-width="2.6" d="M42.58 250.19 43.31 246.82 44.3 242.24 44.97 239.02 45.69 235.62 46.45 232.57 47.06 230.62 47.69 228.83 48.35 227.31 49.02 226.12 49.69 225.35 50.38 224.94 51.09 224.74 51.82 224.62 52.44 224.57 53.08 224.62 53.73 224.74 54.39 224.89 55.04 225.05 55.68 225.23 56.33 225.46 56.97 225.71 57.62 225.94 58.26 226.12 58.91 226.28 59.55 226.43 60.2 226.55 60.84 226.6 61.49 226.55 62.13 226.38 62.78 226.1 63.42 225.76 64.07 225.39 64.71 225.05 65.35 224.67 66 224.21 66.64 223.78 67.29 223.46 67.93 223.33 68.58 223.45 69.22 223.75 69.87 224.17 70.51 224.62 71.16 225.05 71.8 225.46 72.45 225.91 73.09 226.37 73.74 226.8 74.38 227.2 75.02 227.61 75.67 228.04 76.31 228.42 76.96 228.67 77.6 228.7 78.25 228.46 78.89 227.99 79.54 227.39 80.18 226.74 80.83 226.12 81.48 225.52 82.14 224.88 82.79 224.22 83.43 223.55 84.05 222.9 84.78 222.06 85.48 221.2 86.17 220.38 86.84 219.68 87.5 219.04 88.14 218.44 88.78 218.04 89.42 217.96 90.06 218.31 90.7 218.98 91.34 219.84 92 220.75 92.67 221.74 93.35 222.87 94.06 224.02 94.79 225.05 95.41 225.8 96.05 226.52 96.71 227.19 97.37 227.78 98.02 228.27 98.66 228.69 99.31 229.06 99.95 229.33 100.6 229.44 101.24 229.35 101.89 228.98 102.56 228.37 103.22 227.62 103.86 226.83 104.46 226.12 105.15 225.26 105.78 224.38 106.4 223.55 107.04 222.9 107.73 222.38 108.43 221.96 109.14 221.75 109.83 221.83 110.5 222.26 111.16 222.97 111.8 223.92 112.41 225.05 113.16 226.92 113.86 229.15 114.56 231.5 115.28 233.93 115.99 236.47 116.71 239.02 117.42 241.57 118.13 244.11 118.86 246.54 119.62 248.93 120.41 251.19 121.22 252.98 121.85 253.87 122.5 254.46 123.15 254.84 123.8 255.13 124.44 255.38 125.08 255.53 125.72 255.48 126.38 255.13 127.08 254.41 127.8 253.38 128.51 252.16 129.17 250.83 129.93 248.96 130.63 246.86 131.32 244.39 132.04 241.37 132.75 237.98 133.47 234.72 134.19 231.69 134.9 228.79 135.62 226.12 136.34 223.77 137.05 221.67 137.77 219.68 138.46 217.77 139.16 215.98 139.92 214.31 140.57 213.11 141.26 211.96 141.98 210.91 142.71 210.01 143.45 209.22 144.22 208.53 144.98 208.04 145.72 207.86 146.43 208.07 147.13 208.6 147.82 209.3 148.51 210.01 149.21 210.76 149.92 211.62 150.63 212.48 151.31 213.23 151.95 213.87 152.57 214.44 153.2 214.94 153.88 215.38 154.49 215.7 155.15 215.99 155.82 216.23 156.48 216.39 157.11 216.45 157.84 216.36 158.55 216.12 159.23 215.77 159.9 215.38 160.54 214.94 161.16 214.44 161.79 213.87 162.48 213.23 163.08 212.66 163.72 212.04 164.38 211.38 165.05 210.7 165.7 210.01 166.38 209.27 167.09 208.47 167.79 207.67 168.42 206.95 168.93 206.36 169.51 205.58 170 205.07 170.53 204.72 171.18 204.37 171.88 203.99 172.58 203.56 173.25 203.04 173.93 202.46 174.64 201.89 175.37 201.41 175.99 201.1 176.63 200.83 177.29 200.61 177.95 200.44 178.6 200.34 179.24 200.31 179.89 200.34 180.53 200.43 181.18 200.58 181.82 200.77 182.46 201.02 183.11 201.32 183.75 201.68 184.4 202.07 185.04 202.49 185.68 202.95 186.33 203.45 186.97 203.98 187.62 204.53 188.26 205.07 188.91 205.62 189.55 206.2 190.2 206.78 190.84 207.34 191.49 207.86 192.13 208.36 192.78 208.84 193.42 209.29 194.07 209.69 194.71 210.01 195.35 210.27 196 210.49 196.64 210.64 197.29 210.7 197.93 210.65 198.58 210.48 199.22 210.2 199.87 209.84 200.51 209.41 201.16 208.93 201.8 208.38 202.45 207.75 203.09 207.07 203.74 206.38 204.38 205.71 205.02 205.05 205.67 204.37 206.31 203.7 206.96 203.07 207.6 202.49 208.25 201.96 208.89 201.45 209.54 200.99 210.18 200.62 210.83 200.34 211.47 200.17 212.12 200.1 212.76 200.11 213.41 200.2 214.05 200.34 214.69 200.56 215.34 200.86 215.98 201.23 216.63 201.63 217.27 202.06 217.92 202.52 218.56 203.03 219.21 203.57 219.85 204.11 220.5 204.64 221.14 205.15 221.79 205.66 222.43 206.17 223.08 206.68 223.72 207.21 224.36 207.77 225.01 208.34 225.65 208.93 226.3 209.49 226.94 210.01 227.59 210.47 228.23 210.89 228.88 211.29 229.52 211.7 230.17 212.16 230.81 212.7 231.46 213.29 232.1 213.9 232.75 214.46 233.39 214.95 234.04 215.37 234.71 215.77 235.37 216.1 236.01 216.34 236.61 216.45 237.3 216.44 237.93 216.28 238.55 215.93 239.19 215.38 239.87 214.53 240.57 213.43 241.28 212.23 241.98 211.08 242.68 209.98 243.39 208.87 244.1 207.79 244.78 206.79 245.44 205.86 246.08 204.97 246.72 204.19 247.36 203.56 248 203.09 248.63 202.76 249.27 202.56 249.93 202.49 250.62 202.53 251.33 202.69 252.04 203.02 252.73 203.56 253.39 204.36 254.02 205.37 254.66 206.56 255.31 207.86 256 209.32 256.7 210.95 257.41 212.65 258.1 214.31 258.75 215.97 259.39 217.66 260.03 219.29 260.68 220.75 261.36 222.03 262.06 223.17 262.77 224.18 263.47 225.05 264.17 225.81 264.88 226.46 265.58 226.94 266.26 227.2 266.92 227.21 267.56 227 268.2 226.62 268.84 226.12 269.48 225.44 270.12 224.58 270.76 223.68 271.42 222.9 272.11 222.21 272.81 221.56 273.52 221.04 274.21 220.75 274.86 220.69 275.5 220.82 276.13 221.18 276.79 221.83 277.48 222.85 278.19 224.18 278.9 225.68 279.59 227.2 280.25 228.78 280.88 230.49 281.52 232.16 282.17 233.64 282.85 234.97 283.55 236.19 284.26 237.22 284.96 237.94 285.66 238.32 286.37 238.41 287.07 238.27 287.75 237.94 288.41 237.39 289.05 236.6 289.69 235.68 290.33 234.72 290.97 233.72 291.61 232.64 292.25 231.52 292.91 230.42 293.6 229.33 294.31 228.24 295.01 227.16 295.7 226.12 296.42 225.03 297.16 223.92 297.82 222.94 298.28 222.26"/>
</g>
<rect x="42.2" y="182.3" width="255.7" height="104.7" fill="none" stroke="#000" stroke-width="1.65"/>
<path d="M38.9 189.78H42.2" stroke="#000" stroke-width="1.1"/>
<text class="t" x="36.7" y="194.08" text-anchor="end">40</text>
<path d="M38.9 204.74H42.2" stroke="#000" stroke-width="1.1"/>
<text class="t" x="36.7" y="209.04" text-anchor="end">20</text>
<path d="M38.9 219.69H42.2" stroke="#000" stroke-width="1.1"/>
<text class="t" x="36.7" y="223.99" text-anchor="end">0</text>
<path d="M38.9 234.65H42.2" stroke="#000" stroke-width="1.1"/>
<text class="t" x="36.7" y="238.95" text-anchor="end">−<tspan dx="0.9">20</tspan></text>
<path d="M38.9 249.61H42.2" stroke="#000" stroke-width="1.1"/>
<text class="t" x="36.7" y="253.91" text-anchor="end">−<tspan dx="0.9">40</tspan></text>
<path d="M38.9 264.56H42.2" stroke="#000" stroke-width="1.1"/>
<text class="t" x="36.7" y="268.86" text-anchor="end">−<tspan dx="0.9">60</tspan></text>
<path d="M38.9 279.52H42.2" stroke="#000" stroke-width="1.1"/>
<text class="t" x="36.7" y="283.82" text-anchor="end">−<tspan dx="0.9">80</tspan></text>
<path d="M42.2 287V290" stroke="#000" stroke-width="1.1"/>
<text class="t" x="42.5" y="299.4" text-anchor="middle" textLength="15.6" lengthAdjust="spacingAndGlyphs">JAN</text>
<path d="M63.92 287V290" stroke="#000" stroke-width="1.1"/>
<text class="t" x="64.22" y="299.4" text-anchor="middle" textLength="15.7" lengthAdjust="spacingAndGlyphs">FEB</text>
<path d="M83.53 287V290" stroke="#000" stroke-width="1.1"/>
<text class="t" x="83.83" y="299.4" text-anchor="middle" textLength="16.4" lengthAdjust="spacingAndGlyphs">MAR</text>
<path d="M105.25 287V290" stroke="#000" stroke-width="1.1"/>
<text class="t" x="105.55" y="299.4" text-anchor="middle" textLength="16.4" lengthAdjust="spacingAndGlyphs">APR</text>
<path d="M126.27 287V290" stroke="#000" stroke-width="1.1"/>
<text class="t" x="126.57" y="299.4" text-anchor="middle" textLength="16.4" lengthAdjust="spacingAndGlyphs">MAY</text>
<path d="M147.98 287V290" stroke="#000" stroke-width="1.1"/>
<text class="t" x="148.28" y="299.4" text-anchor="middle" textLength="16.4" lengthAdjust="spacingAndGlyphs">JUN</text>
<path d="M169 287V290" stroke="#000" stroke-width="1.1"/>
<text class="t" x="169.3" y="299.4" text-anchor="middle" textLength="13.9" lengthAdjust="spacingAndGlyphs">JUL</text>
<path d="M190.72 287V290" stroke="#000" stroke-width="1.1"/>
<text class="t" x="191.02" y="299.4" text-anchor="middle" textLength="16.9" lengthAdjust="spacingAndGlyphs">AUG</text>
<path d="M212.43 287V290" stroke="#000" stroke-width="1.1"/>
<text class="t" x="212.73" y="299.4" text-anchor="middle" textLength="16" lengthAdjust="spacingAndGlyphs">SEP</text>
<path d="M233.45 287V290" stroke="#000" stroke-width="1.1"/>
<text class="t" x="233.75" y="299.4" text-anchor="middle" textLength="15.5" lengthAdjust="spacingAndGlyphs">OCT</text>
<path d="M255.17 287V290" stroke="#000" stroke-width="1.1"/>
<text class="t" x="255.47" y="299.4" text-anchor="middle" textLength="17.2" lengthAdjust="spacingAndGlyphs">NOV</text>
<path d="M276.18 287V290" stroke="#000" stroke-width="1.1"/>
<text class="t" x="276.48" y="299.4" text-anchor="middle" textLength="16.4" lengthAdjust="spacingAndGlyphs">DEC</text>
<text class="t" x="42" y="309.7" text-anchor="middle" textLength="22.1" lengthAdjust="spacingAndGlyphs">2010</text>
<text class="u" transform="translate(11.2 235.95) rotate(-90)" text-anchor="middle">(cm)</text>
<text class="v" x="191.1" y="282.32" text-anchor="middle" fill="#00dc00" textLength="27.4" lengthAdjust="spacingAndGlyphs">9.075</text>
<text class="v" x="232.1" y="282.32" text-anchor="middle" fill="#fa3c3c" textLength="27.4" lengthAdjust="spacingAndGlyphs">8.076</text>
<text class="v" x="273.4" y="282.32" text-anchor="middle" fill="#1e3cff" textLength="27.4" lengthAdjust="spacingAndGlyphs">9.538</text>
</g>
<g id="panel-c">
<text class="p" x="6.1" y="332.6" textLength="19.9" lengthAdjust="spacing">(c)</text>
<path class="g" d="M47.2 348.3H297.9"/>
<path class="g" d="M47.2 363.3H297.9"/>
<path class="g" d="M47.2 378.3H297.9"/>
<path class="g" d="M47.2 393.3H297.9"/>
<path class="g" d="M47.2 408.3H297.9"/>
<path class="g" d="M47.2 423.3H297.9"/>
<path class="g" d="M47.2 438.3H297.9"/>
<path class="g" d="M63.92 343.35V445.8"/>
<path class="g" d="M83.53 343.35V445.8"/>
<path class="g" d="M105.25 343.35V445.8"/>
<path class="g" d="M126.27 343.35V445.8"/>
<path class="g" d="M147.98 343.35V445.8"/>
<path class="g" d="M169 343.35V445.8"/>
<path class="g" d="M190.72 343.35V445.8"/>
<path class="g" d="M212.43 343.35V445.8"/>
<path class="g" d="M233.45 343.35V445.8"/>
<path class="g" d="M255.17 343.35V445.8"/>
<path class="g" d="M276.18 343.35V445.8"/>
<clipPath id="cp-c"><rect x="42.2" y="340.8" width="257.2" height="105"/></clipPath>
<g clip-path="url(#cp-c)">
<path class="c" stroke="#7f7f7f" stroke-width="4.0" d="M42.58 401.41 43.07 403.82 43.77 402.92 44.58 405.73 45.37 404.99 45.99 407.8 46.63 406.52 47.29 407.65 47.95 405.77 48.6 407.86 49.24 405.92 49.89 408.48 50.53 408 51.18 410.02 51.82 407.71 52.46 409.97 53.11 408.27 53.75 410.16 54.4 408.09 55.04 411.06 55.68 409.72 56.33 411.51 56.97 409.59 57.62 410.43 58.26 408.82 58.92 410.75 59.6 409.76 60.28 412.8 60.91 411.27 61.49 410.77 62.29 406.72 62.96 406.61 63.64 402.82 64.32 403.17 64.99 400.26 65.79 400.87 66.37 398.81 67.02 400.74 67.7 398.29 68.38 399.48 69.01 397.92 69.74 399.33 70.45 397.92 71.13 400.06 71.8 399.5 72.44 403.23 73.06 402.95 73.69 406.31 74.38 406.64 75 408.25 75.67 406.32 76.36 407.27 77.01 405.9 77.6 408.67 78.42 407.89 79.12 409.48 79.75 408.59 80.53 413.61 81.26 414.08 82.01 412.72 82.98 406.07 83.53 407.64 84.16 403.77 84.84 405.47 85.53 404.22 86.2 405.67 86.84 405.23 87.49 406.27 88.13 404.32 88.78 405.92 89.42 404.57 90.08 406.69 90.76 405.9 91.43 409.06 92.06 408.25 92.64 410.35 93.4 408.32 94.03 407.9 94.79 404.84 95.37 406.21 96 403.56 96.68 404.68 97.36 401.79 98.02 402.84 98.66 400.64 99.31 403.26 99.95 401.39 100.6 403.66 101.24 401.03 101.88 403.06 102.53 401.07 103.17 402.79 103.82 402.26 104.46 403.74 105.11 403.2 105.77 405.04 106.43 403.26 107.07 405.21 107.69 404.23 108.42 408.17 109.13 407.88 109.81 412.66 110.48 411.22 111.12 413.11 111.74 410.84 112.37 411.73 113.06 409.71 113.66 412.23 114.3 409.89 114.96 411.74 115.63 409.82 116.28 411.09 116.92 409.4 117.57 410.28 118.21 408.79 118.86 410.9 119.5 410.36 120.15 412.74 120.79 411.16 121.44 412.39 122.08 411.23 122.73 413.01 123.37 411.6 124.02 415.03 124.66 412.46 125.31 413.95 125.95 412.52 126.59 414.77 127.24 412.95 127.88 415.42 128.53 413.64 129.17 415.72 129.82 413.41 130.46 415 131.11 413.02 131.75 415.29 132.4 411.64 133.04 413.6 133.69 410.65 134.33 410.48 134.98 408.13 135.62 408.35 136.26 404.58 136.91 405.7 137.55 401.68 138.2 402.8 138.84 399.96 139.49 400.62 140.15 396.61 140.81 397.5 141.45 394.37 142.07 395.3 142.8 392.54 143.51 393.4 144.19 390.23 144.86 391.01 145.52 388.34 146.16 391.29 146.8 389.46 147.44 390.86 148.08 388.85 148.72 389.76 149.36 386.56 150.02 388.2 150.7 386.4 151.4 389.58 152.11 389.03 152.81 392.22 153.51 391.46 154.22 393.26 154.92 391.05 155.6 393.56 156.24 391.13 156.86 392.25 157.49 389.96 158.18 391.4 158.78 389.63 159.42 390.6 160.08 387.98 160.75 388.83 161.4 386.85 162.05 389 162.69 387.13 163.34 387.96 163.98 386.51 164.63 387.33 165.29 386 165.97 388.8 166.64 386.33 167.27 388.78 167.85 387.37 168.65 390.89 169.32 389.76 170 391.28 170.7 388.43 171.4 388.47 172.15 385.29 172.76 386.85 173.4 383.27 174.06 384.54 174.73 380.9 175.4 380.75 176.09 379.02 176.79 380.88 177.52 378.72 178.14 380.04 178.78 378.35 179.43 379.3 180.09 376.49 180.74 377.67 181.39 375.61 182.03 376.57 182.68 374.14 183.32 376.03 183.97 373.78 184.62 375.22 185.29 372.93 185.95 374.37 186.59 372.08 187.19 373.06 187.88 370.43 188.51 371.58 189.13 368.11 189.77 368.83 190.45 365.92 191.15 366.88 191.86 363.87 192.56 366.62 193.25 365.91 193.95 368.86 194.65 367.31 195.36 369.86 196.1 369.1 196.86 371.71 197.62 370.65 198.36 372.77 199.07 372.36 199.77 375.14 200.47 373.7 201.16 375.3 201.86 373.7 202.57 376.58 203.27 374.13 203.95 375.98 204.62 373.32 205.28 374.43 205.92 371.86 206.53 372.56 207.28 368.68 207.98 367.57 208.68 365.36 209.4 369.44 210.11 370.04 210.83 374.45 211.51 375.56 212.18 379.04 212.98 379.32 213.56 381.74 214.19 381.29 214.86 384.07 215.54 383.97 216.2 385.69 216.84 383.29 217.49 383.73 218.13 380.17 218.78 381.69 219.42 379.94 220.06 381.96 220.71 379.28 221.35 381.17 222 380 222.64 382.19 223.29 380.25 223.93 382.34 224.58 380.32 225.22 380.81 225.87 378.45 226.51 380.06 227.16 376.85 227.8 378.25 228.45 375.71 229.09 377.64 229.75 376.47 230.43 377.7 231.1 375.94 231.73 377.81 232.31 376.3 233.11 377.95 233.78 375.32 234.46 376.76 235.16 374.44 235.86 374.62 236.61 372.14 237.22 373.31 237.86 370.79 238.52 372.4 239.19 370.21 239.89 373.17 240.61 372.01 241.32 374.73 241.98 373.61 242.74 376.49 243.44 375.81 244.13 377.14 244.85 375.26 245.56 375.67 246.28 373.18 246.97 375.76 247.67 375.94 248.43 379.97 249.09 378.69 249.8 382.15 250.52 380.39 251.22 383.14 251.88 381.89 252.52 383.64 253.16 380.62 253.8 383.13 254.44 381.31 255.08 382.6 255.72 379.79 256.38 381.48 257.06 380.16 257.76 383.02 258.47 383.09 259.17 385.71 259.87 383.3 260.58 385.1 261.29 382.38 261.97 383.55 262.62 381.48 263.23 384.27 263.87 384.24 264.55 387.23 265.15 386.41 265.79 389.37 266.45 387.8 267.12 391.29 267.77 390.28 268.42 392.11 269.09 390.46 269.75 394.06 270.39 392.68 270.99 394.36 271.68 392.47 272.31 393.95 272.93 392.14 273.57 393.89 274.27 390.78 274.99 392.26 275.7 390.13 276.36 391.67 277.08 393.34 277.74 398.52 278.51 400.11 279.1 403.16 279.76 403.09 280.44 406.28 281.12 404.83 281.74 408.39 282.42 405.97 283.05 406.27 283.67 401.15 284.31 400.97 284.98 398.37 285.67 400.83 286.38 399.51 287.11 400.85 287.73 399.18 288.37 401.53 289.02 399.65 289.68 401.84 290.33 400.12 290.97 402.81 291.62 401.94 292.26 404.43 292.91 404.13 293.55 405.98 294.22 404.76 294.92 407.32 295.61 405.37 296.24 407.24 296.78 406.35 297.73 409 298.28 407.18"/>
<path class="c" stroke="#1e3cff" stroke-width="3.0" d="M42.58 404.22 43.07 406.46 43.77 404.75 44.58 406.51 45.37 405.83 45.99 407.04 46.63 405.01 47.29 405.77 47.95 404.05 48.6 405.52 49.24 403.38 49.89 404.19 50.53 402.26 51.18 404.07 51.82 402.93 52.46 404.37 53.11 403.35 53.75 404.59 54.4 403.37 55.04 404.92 55.68 403.43 56.33 404.4 56.97 403.82 57.62 405.6 58.26 403.61 58.91 405.14 59.55 403.46 60.2 404.9 60.84 402.85 61.49 403.24 62.13 402.11 62.78 403.47 63.42 401.67 64.07 403.19 64.71 401.8 65.35 403.07 66 401.52 66.64 402.53 67.29 400.28 67.93 401.98 68.58 400.07 69.22 402.49 69.87 400.71 70.51 402.97 71.16 401.74 71.8 403.87 72.45 402.37 73.09 404.03 73.74 403.54 74.38 404.14 75.02 402.05 75.67 403.42 76.31 402.11 76.96 402.54 77.6 401.14 78.25 402.53 78.89 400.99 79.54 401.76 80.18 399.39 80.83 400.28 81.47 398.62 82.12 400.25 82.76 398.48 83.41 400.24 84.05 398.57 84.69 400.88 85.34 399.69 85.98 401.77 86.63 400.38 87.27 401.33 87.92 399.99 88.56 401.64 89.21 399.86 89.85 400.73 90.5 398.98 91.14 400.66 91.79 399.1 92.43 399.79 93.08 397.84 93.72 399.33 94.36 398.48 95.01 399.36 95.65 397.9 96.3 398.76 96.94 396.99 97.59 398.59 98.23 396.44 98.88 397.98 99.52 396.39 100.17 398.64 100.81 397.99 101.46 399.25 102.1 398.42 102.75 400.71 103.39 399.75 104.03 401.36 104.68 400.5 105.32 402.83 105.97 401.94 106.61 403.66 107.25 402.8 107.9 403.99 108.54 402.54 109.19 404.61 109.83 403.22 110.48 404.74 111.12 404.73 111.77 406.74 112.41 407.06 113.06 408.81 113.7 407.51 114.35 408.82 114.99 407.94 115.64 409.96 116.28 409.61 116.92 411.13 117.57 409.06 118.21 410.18 118.86 408.91 119.5 410.78 120.15 409.95 120.79 410.66 121.44 408.18 122.08 409.52 122.73 407.38 123.37 408.27 124.02 407.14 124.66 407.07 125.31 404.85 125.95 405.57 126.59 404.25 127.24 405.56 127.88 404.07 128.53 405.38 129.17 404.3 129.82 406.08 130.46 406.02 131.11 408.21 131.75 406.95 132.4 408.48 133.04 407.44 133.69 408.05 134.33 406.23 134.98 407 135.62 404.29 136.26 405.08 136.91 402.16 137.55 402.82 138.2 399.43 138.84 399.46 139.49 396.42 140.13 397.22 140.78 395.33 141.42 396.15 142.07 394.01 142.71 394.76 143.36 393.29 144 393.82 144.65 391.88 145.29 392.88 145.93 390.57 146.58 392.19 147.22 389.96 147.87 391.27 148.51 389.39 149.16 391.25 149.8 389.43 150.45 390.94 151.09 389.31 151.74 390.57 152.38 389.02 153.03 390.63 153.67 389.17 154.32 389.73 154.96 387.82 155.6 389.5 156.25 387.55 156.89 389.09 157.54 387.17 158.18 387.57 158.82 385.7 159.47 386.5 160.11 384.61 160.76 385.56 161.4 383.78 162.05 384.65 162.69 382.93 163.34 383.01 163.98 380.52 164.63 380.77 165.29 379.63 165.97 380.14 166.64 379.04 167.27 380.84 167.85 379.2 168.63 381.83 169.29 380.29 170 381.64 170.61 380.21 171.25 380.47 171.91 377.19 172.58 377.33 173.25 375.51 173.93 376.78 174.64 375.31 175.37 376.63 175.99 374.69 176.63 375.86 177.29 374.06 177.95 374.42 178.6 372.14 179.24 373.6 179.89 371.77 180.53 373.19 181.18 371.68 181.82 372.98 182.46 371.28 183.11 372.22 183.75 370.76 184.4 371.06 185.04 369.83 185.68 372.01 186.33 370.5 186.97 372.16 187.62 369.58 188.26 370.41 188.91 368.55 189.55 369.62 190.2 367.24 190.84 368.24 191.49 367.16 192.13 368.13 192.78 367.4 193.42 369.06 194.07 368.38 194.71 370.52 195.35 368.96 196 371.4 196.64 370.26 197.29 372.93 197.93 371.94 198.58 374.15 199.22 373.18 199.87 375.44 200.51 374.43 201.16 375.92 201.8 374.86 202.45 376.1 203.09 375.14 203.74 377.15 204.38 375.9 205.02 378.34 205.67 376.79 206.31 379.18 206.96 378.08 207.6 380.26 208.25 378.77 208.89 381.05 209.54 380.12 210.18 381.9 210.83 380.94 211.47 382.89 212.12 381.2 212.76 383.42 213.41 381.8 214.05 383.3 214.69 382.41 215.34 384.5 215.98 383.08 216.63 384.07 217.27 383.18 217.92 384.32 218.56 382.58 219.21 383.14 219.85 381.29 220.5 382.73 221.15 381.49 221.82 382 222.48 380.59 223.12 382.33 223.72 380.32 224.41 380.52 225.04 378.48 225.66 378.82 226.3 376.03 226.97 377.05 227.65 375.28 228.36 375.67 229.09 374.64 229.71 375.5 230.35 374.53 231 376.46 231.66 376.35 232.31 378.89 232.96 378.19 233.6 380.01 234.25 378.37 234.89 380.23 235.54 379.42 236.18 380.46 236.83 378.74 237.47 380.23 238.12 379.56 238.76 380.83 239.4 379.98 240.05 381.54 240.69 380.44 241.34 382.31 241.98 381.62 242.63 383.98 243.27 382.97 243.92 385.05 244.56 384.85 245.21 386.52 245.85 385.72 246.5 388.37 247.14 388.04 247.79 389.53 248.43 389.13 249.07 390.95 249.72 390.98 250.36 393.23 251.01 392 251.65 393.98 252.3 393.52 252.94 394.69 253.59 393.72 254.23 395.44 254.88 394.28 255.52 395.82 256.17 393.84 256.81 395.24 257.46 394 258.1 394.84 258.74 393.91 259.39 394.86 260.03 394.3 260.68 395.68 261.32 394.65 261.97 395.86 262.61 393.97 263.26 394.59 263.9 392.85 264.55 394.37 265.19 393.74 265.84 394.86 266.48 394.07 267.13 396 267.77 394.2 268.41 396.57 269.06 395.41 269.7 397.03 270.35 395.48 270.99 396.25 271.63 394.96 272.28 396.9 272.92 395.85 273.57 397.71 274.21 396.18 274.86 398.67 275.5 397.85 276.15 398.97 276.79 398.22 277.44 399.9 278.08 399.13 278.73 400.69 279.37 399.21 280.02 400.88 280.66 400.73 281.3 402.72 281.95 400.98 282.59 402.27 283.24 401.14 283.88 401.81 284.53 400.53 285.17 401.72 285.82 399.1 286.46 400.37 287.11 398.82 287.75 400.31 288.4 400.18 289.04 402.72 289.69 400.97 290.33 402.48 290.97 401.89 291.62 403.91 292.26 403.7 292.91 406.25 293.55 405.36 294.22 407.18 294.92 406.46 295.61 408.45 296.24 407.86 296.78 409.94 297.73 410.01 298.28 411.5"/>
<path class="c" stroke="#fa3c3c" stroke-width="3.0" d="M42.58 402.83 43.07 403.68 43.77 402.17 44.58 403.56 45.37 401.99 45.99 403.75 46.63 402.07 47.29 403.06 47.95 401.54 48.6 402.98 49.24 401.38 49.89 403.8 50.53 402.4 51.18 403.62 51.82 402.33 52.46 403.31 53.11 402.09 53.75 403.41 54.4 402.49 55.04 403.48 55.68 400.91 56.33 402.11 56.97 400.05 57.62 401.44 58.26 399.7 58.91 401.41 59.55 399.42 60.2 400.61 60.84 399.5 61.49 401.27 62.13 399.93 62.78 401.43 63.42 400.19 64.07 400.96 64.71 399.99 65.35 400.48 66 399.36 66.64 400.86 67.29 398.48 67.93 400.26 68.58 399.5 69.22 401.58 69.87 400.7 70.51 402.17 71.16 400.97 71.8 402.66 72.45 401.26 73.09 403.7 73.74 402.64 74.38 403.88 75.02 402.48 75.67 403.36 76.31 401.97 76.96 402.89 77.6 401 78.25 402.5 78.89 401.38 79.54 402.62 80.18 401.06 80.83 402.06 81.47 400.71 82.12 402.04 82.76 401.13 83.41 402.6 84.05 401.2 84.69 401.64 85.34 399.14 85.98 400.31 86.63 398.67 87.27 400.4 87.92 398.36 88.56 399.19 89.21 397.33 89.85 399.23 90.5 397.47 91.14 399.17 91.79 398.66 92.43 400.11 93.08 399.21 93.72 401.16 94.36 399.89 95.01 401.6 95.65 400.5 96.3 402.74 96.94 402.5 97.59 403.63 98.23 402.24 98.88 403.9 99.52 402.93 100.17 405.57 100.81 404.68 101.46 406.29 102.1 405.33 102.75 407.48 103.39 406.65 104.03 408.42 104.68 407.02 105.32 407.51 105.97 406.02 106.61 407.11 107.25 405.1 107.9 406.44 108.54 405.2 109.19 406.41 109.83 405.19 110.48 406.79 111.12 405.77 111.77 407.95 112.41 407.81 113.06 410.12 113.7 410.17 114.35 412.53 114.99 412.16 115.64 413.85 116.28 413 116.92 414.07 117.57 412.29 118.21 413.65 118.86 412.08 119.5 413.4 120.15 411.64 120.79 412.68 121.44 410.85 122.08 411.98 122.73 409.69 123.37 410.19 124.02 408.08 124.66 409.56 125.31 407.74 125.95 409.35 126.59 408.54 127.24 410.26 127.88 409.68 128.53 410.66 129.17 409.89 129.82 411.25 130.46 409.16 131.11 409.73 131.75 407.5 132.4 408.66 133.04 406.66 133.69 407.39 134.33 405.12 134.98 405.59 135.62 403.18 136.26 403.91 136.91 401.99 137.55 402.74 138.2 400.27 138.84 400.5 139.49 398.27 140.13 399.04 140.78 398.08 141.42 399.12 142.07 396.78 142.71 397.01 143.36 394.33 144 394.98 144.65 393.78 145.29 394.42 145.93 393.42 146.58 394.33 147.22 392.84 147.87 394.17 148.51 392.04 149.16 393.18 149.8 391.5 150.45 392.94 151.09 391.29 151.74 392.73 152.38 390.73 153.03 391.8 153.67 390.23 154.32 392.31 154.96 390.34 155.6 391.99 156.25 390.1 156.89 390.84 157.54 389.18 158.18 389.81 158.82 388.21 159.47 389.26 160.11 387.42 160.76 388.12 161.4 385.44 162.05 385.87 162.69 383.5 163.34 384.84 163.98 382.53 164.63 384.36 165.29 382.47 165.97 383.77 166.64 382.37 167.27 382.89 167.85 381.21 168.63 382.02 169.29 381.44 170 383.34 170.61 381.6 171.25 381.98 171.91 380.06 172.58 380.43 173.25 378.28 173.93 380.26 174.64 378.45 175.37 379.1 175.99 377.22 176.63 377.96 177.29 375.57 177.95 376.99 178.6 375.36 179.24 376.34 179.89 374.71 180.53 376.57 181.18 373.73 181.82 374.68 182.46 373.25 183.11 375.05 183.75 374.09 184.4 375.84 185.04 375.05 185.68 376.44 186.33 374.68 186.97 374.8 187.62 372.6 188.26 373.55 188.92 371.51 189.58 372.59 190.24 370.67 190.89 371.53 191.49 369 192.18 369.4 192.81 367.69 193.43 368.46 194.07 366.69 194.74 368.28 195.43 367.05 196.13 369.6 196.86 368.93 197.48 371.01 198.12 370.52 198.77 371.8 199.43 370.87 200.08 372.53 200.73 371.87 201.37 374.05 202.02 373.3 202.66 374.41 203.31 373.35 203.95 375.17 204.6 374.65 205.24 377.02 205.89 375.72 206.53 376.99 207.17 375.57 207.82 377.66 208.46 375.74 209.11 377.86 209.75 376.84 210.4 378.84 211.04 378.18 211.69 379.54 212.33 379.46 212.98 381.76 213.62 381.79 214.27 383.22 214.91 381.02 215.56 382.88 216.2 381.75 216.84 382.7 217.49 381.35 218.13 383.08 218.78 381.55 219.42 382.34 220.07 380.64 220.73 381.72 221.38 379.55 222.02 381.14 222.64 380.34 223.37 382.09 224.08 381.14 224.77 382.14 225.44 380.5 226.09 381.26 226.7 379.35 227.34 379.46 228.02 377.32 228.62 379.09 229.26 376.94 229.92 378.48 230.59 376.71 231.24 378.17 231.88 376.77 232.53 377.77 233.17 377.3 233.82 378.23 234.46 377.76 235.11 378.48 235.75 377.1 236.4 378.02 237.04 376.3 237.69 377.52 238.33 376.91 238.98 378.39 239.62 377.28 240.27 378.42 240.91 377.45 241.55 379.63 242.2 378.32 242.84 380.54 243.49 379.47 244.13 381.56 244.78 380.98 245.42 382.34 246.07 381.13 246.71 383.05 247.36 382.82 248 384.59 248.65 384.48 249.29 387.24 249.94 387.14 250.58 390 251.22 389.28 251.87 390.44 252.51 389.82 253.16 391.99 253.8 390.89 254.44 392.88 255.09 391.99 255.73 394.48 256.38 394.11 257.02 395.67 257.68 394.84 258.34 396.6 259 396.01 259.65 397.6 260.25 396.82 260.94 397.6 261.57 395.28 262.19 395.96 262.83 394.79 263.51 396.16 264.21 394.14 264.92 394.72 265.62 392.4 266.32 393.86 267.03 392.83 267.73 394.18 268.41 392.94 269.07 394.23 269.71 391.43 270.35 392.29 270.99 390.29 271.63 391.39 272.27 390.36 272.91 391.6 273.57 391.13 274.24 393.06 274.92 392.04 275.63 394.13 276.36 393.74 276.98 396.03 277.62 394.74 278.28 396.9 278.94 396.34 279.59 398.13 280.23 397.22 280.88 399.57 281.52 399.49 282.17 401.73 282.81 400.72 283.45 401.67 284.1 399.81 284.74 400.89 285.39 400.43 286.03 401.43 286.68 400.14 287.32 401.95 287.97 401.49 288.61 402.53 289.26 400.91 289.9 403 290.55 401.77 291.19 403.93 291.84 402.38 292.48 404.79 293.13 404.63 293.8 406.34 294.46 406.06 295.1 408.7 295.7 407.85 296.45 409.81 297.19 407.84 297.83 409.67 298.28 408.88"/>
<path class="c" stroke="#00dc00" stroke-width="2.6" d="M42.58 394.79 43.07 395.27 43.77 395.96 44.58 396.76 45.37 397.59 45.99 398.28 46.63 399.03 47.29 399.8 47.95 400.55 48.6 401.24 49.24 401.89 49.89 402.53 50.53 403.13 51.18 403.64 51.82 404.03 52.46 404.29 53.11 404.44 53.75 404.51 54.4 404.51 55.04 404.46 55.68 404.35 56.33 404.16 56.97 403.92 57.62 403.66 58.26 403.39 58.91 403.11 59.55 402.8 60.2 402.47 60.84 402.16 61.49 401.88 62.13 401.61 62.78 401.35 63.42 401.11 64.07 400.92 64.71 400.81 65.35 400.79 66 400.84 66.64 400.95 67.29 401.09 67.93 401.24 68.58 401.42 69.22 401.64 69.87 401.88 70.51 402.11 71.16 402.31 71.8 402.47 72.45 402.61 73.09 402.74 73.74 402.85 74.38 402.96 75.02 403.06 75.67 403.14 76.31 403.21 76.96 403.29 77.6 403.39 78.25 403.51 78.89 403.64 79.54 403.78 80.18 403.91 80.83 404.03 81.47 404.15 82.12 404.29 82.76 404.41 83.41 404.47 84.05 404.46 84.69 404.37 85.34 404.21 85.98 404 86.63 403.72 87.27 403.39 87.92 402.96 88.56 402.45 89.21 401.88 89.85 401.32 90.5 400.81 91.14 400.33 91.79 399.85 92.43 399.39 93.08 398.99 93.72 398.66 94.36 398.41 95.01 398.21 95.65 398.08 96.3 398.01 96.94 398.02 97.59 398.11 98.23 398.29 98.88 398.53 99.52 398.81 100.17 399.09 100.81 399.4 101.46 399.74 102.1 400.11 102.75 400.47 103.39 400.81 104.03 401.11 104.68 401.39 105.32 401.67 105.97 401.97 106.61 402.31 107.25 402.69 107.9 403.1 108.54 403.54 109.19 403.99 109.83 404.46 110.48 404.96 111.12 405.5 111.77 406.05 112.41 406.57 113.06 407.04 113.7 407.46 114.35 407.84 114.99 408.19 115.64 408.5 116.28 408.76 116.92 408.96 117.57 409.1 118.21 409.21 118.86 409.3 119.5 409.4 120.15 409.49 120.79 409.56 121.44 409.62 122.08 409.71 122.73 409.83 123.37 410 124.02 410.22 124.66 410.45 125.31 410.68 125.95 410.91 126.59 411.14 127.24 411.39 127.88 411.63 128.53 411.83 129.17 411.98 129.83 412.09 130.49 412.19 131.15 412.23 131.8 412.18 132.4 411.98 133.1 411.52 133.76 410.88 134.38 410.09 134.98 409.19 135.73 407.82 136.42 406.24 137.12 404.46 137.84 402.36 138.55 400.07 139.27 398.02 139.96 396.35 140.66 394.91 141.42 393.72 142.07 392.98 142.77 392.38 143.5 391.91 144.21 391.57 144.91 391.38 145.62 391.33 146.33 391.4 147.01 391.57 147.67 391.88 148.31 392.34 148.95 392.84 149.59 393.29 150.23 393.73 150.87 394.17 151.51 394.56 152.17 394.79 152.85 394.85 153.55 394.78 154.26 394.6 154.96 394.36 155.66 394.05 156.37 393.65 157.07 393.18 157.75 392.64 158.41 392.01 159.05 391.3 159.69 390.56 160.33 389.85 160.97 389.17 161.61 388.49 162.25 387.85 162.91 387.27 163.59 386.76 164.29 386.3 165 385.9 165.7 385.55 166.43 385.27 167.18 385.05 167.89 384.87 168.5 384.69 169.26 384.45 170 384.05 170.56 383.62 171.21 383.07 171.89 382.47 172.58 381.9 173.25 381.33 173.93 380.73 174.64 380.18 175.37 379.75 175.99 379.49 176.63 379.29 177.29 379.15 177.95 379.09 178.6 379.11 179.24 379.26 179.89 379.53 180.53 379.85 181.18 380.17 181.82 380.4 182.47 380.58 183.14 380.76 183.8 380.89 184.44 380.92 185.04 380.83 185.73 380.55 186.36 380.12 186.98 379.5 187.62 378.68 188.3 377.59 189 376.26 189.71 374.8 190.41 373.31 191.11 371.71 191.82 369.98 192.53 368.3 193.21 366.86 193.87 365.68 194.51 364.67 195.15 363.85 195.79 363.21 196.43 362.77 197.06 362.52 197.7 362.46 198.36 362.56 199.04 362.88 199.75 363.39 200.46 364.03 201.16 364.71 201.86 365.44 202.57 366.25 203.27 367.1 203.95 367.93 204.59 368.75 205.21 369.57 205.84 370.38 206.53 371.16 207.13 371.76 207.77 372.34 208.43 372.9 209.1 373.44 209.75 373.95 210.4 374.45 211.04 374.94 211.69 375.39 212.33 375.79 212.98 376.1 213.62 376.31 214.27 376.44 214.91 376.5 215.56 376.53 216.2 376.53 216.84 376.48 217.49 376.36 218.13 376.22 218.78 376.12 219.42 376.1 220.06 376.16 220.71 376.26 221.35 376.42 222 376.64 222.64 376.96 223.29 377.4 223.93 377.97 224.58 378.59 225.22 379.2 225.87 379.75 226.51 380.24 227.16 380.71 227.8 381.15 228.45 381.55 229.09 381.9 229.73 382.17 230.38 382.38 231.02 382.55 231.67 382.74 232.31 382.98 232.96 383.27 233.6 383.6 234.25 383.94 234.89 384.31 235.54 384.69 236.18 385.09 236.83 385.52 237.47 385.96 238.12 386.4 238.76 386.84 239.4 387.29 240.05 387.76 240.69 388.22 241.34 388.64 241.98 388.99 242.63 389.27 243.27 389.51 243.92 389.69 244.56 389.81 245.21 389.85 245.85 389.79 246.5 389.65 247.14 389.45 247.79 389.22 248.43 388.99 249.07 388.74 249.72 388.44 250.36 388.14 251.01 387.88 251.65 387.7 252.3 387.6 252.94 387.55 253.59 387.55 254.23 387.6 254.88 387.7 255.52 387.87 256.17 388.11 256.81 388.4 257.46 388.7 258.1 388.99 258.74 389.28 259.39 389.58 260.03 389.89 260.68 390.2 261.32 390.5 261.97 390.78 262.61 391.04 263.26 391.31 263.9 391.62 264.55 392 265.19 392.45 265.84 392.95 266.48 393.5 267.13 394.11 267.77 394.79 268.41 395.56 269.06 396.43 269.7 397.34 270.35 398.25 270.99 399.09 271.63 399.89 272.28 400.69 272.92 401.45 273.57 402.14 274.21 402.74 274.86 403.24 275.5 403.67 276.15 404.02 276.79 404.28 277.44 404.46 278.08 404.53 278.73 404.5 279.37 404.4 280.02 404.23 280.66 404.03 281.3 403.77 281.95 403.43 282.59 403.06 283.24 402.67 283.88 402.31 284.53 401.95 285.19 401.58 285.85 401.22 286.49 400.89 287.11 400.6 287.84 400.3 288.55 400.04 289.23 399.84 289.9 399.74 290.56 399.72 291.2 399.77 291.84 399.91 292.48 400.17 293.11 400.58 293.73 401.13 294.37 401.73 295.06 402.31 295.71 402.77 296.46 403.27 297.19 403.75 297.83 404.17 298.28 404.46"/>
</g>
<rect x="42.2" y="340.8" width="255.7" height="105" fill="none" stroke="#000" stroke-width="1.65"/>
<path d="M38.9 348.3H42.2" stroke="#000" stroke-width="1.1"/>
<text class="t" x="36.7" y="352.6" text-anchor="end">30</text>
<path d="M38.9 363.3H42.2" stroke="#000" stroke-width="1.1"/>
<text class="t" x="36.7" y="367.6" text-anchor="end">20</text>
<path d="M38.9 378.3H42.2" stroke="#000" stroke-width="1.1"/>
<text class="t" x="36.7" y="382.6" text-anchor="end">10</text>
<path d="M38.9 393.3H42.2" stroke="#000" stroke-width="1.1"/>
<text class="t" x="36.7" y="397.6" text-anchor="end">0</text>
<path d="M38.9 408.3H42.2" stroke="#000" stroke-width="1.1"/>
<text class="t" x="36.7" y="412.6" text-anchor="end">−<tspan dx="0.9">10</tspan></text>
<path d="M38.9 423.3H42.2" stroke="#000" stroke-width="1.1"/>
<text class="t" x="36.7" y="427.6" text-anchor="end">−<tspan dx="0.9">20</tspan></text>
<path d="M38.9 438.3H42.2" stroke="#000" stroke-width="1.1"/>
<text class="t" x="36.7" y="442.6" text-anchor="end">−<tspan dx="0.9">30</tspan></text>
<path d="M42.2 445.8V448.8" stroke="#000" stroke-width="1.1"/>
<text class="t" x="42.5" y="458.2" text-anchor="middle" textLength="15.6" lengthAdjust="spacingAndGlyphs">JAN</text>
<path d="M63.92 445.8V448.8" stroke="#000" stroke-width="1.1"/>
<text class="t" x="64.22" y="458.2" text-anchor="middle" textLength="15.7" lengthAdjust="spacingAndGlyphs">FEB</text>
<path d="M83.53 445.8V448.8" stroke="#000" stroke-width="1.1"/>
<text class="t" x="83.83" y="458.2" text-anchor="middle" textLength="16.4" lengthAdjust="spacingAndGlyphs">MAR</text>
<path d="M105.25 445.8V448.8" stroke="#000" stroke-width="1.1"/>
<text class="t" x="105.55" y="458.2" text-anchor="middle" textLength="16.4" lengthAdjust="spacingAndGlyphs">APR</text>
<path d="M126.27 445.8V448.8" stroke="#000" stroke-width="1.1"/>
<text class="t" x="126.57" y="458.2" text-anchor="middle" textLength="16.4" lengthAdjust="spacingAndGlyphs">MAY</text>
<path d="M147.98 445.8V448.8" stroke="#000" stroke-width="1.1"/>
<text class="t" x="148.28" y="458.2" text-anchor="middle" textLength="16.4" lengthAdjust="spacingAndGlyphs">JUN</text>
<path d="M169 445.8V448.8" stroke="#000" stroke-width="1.1"/>
<text class="t" x="169.3" y="458.2" text-anchor="middle" textLength="13.9" lengthAdjust="spacingAndGlyphs">JUL</text>
<path d="M190.72 445.8V448.8" stroke="#000" stroke-width="1.1"/>
<text class="t" x="191.02" y="458.2" text-anchor="middle" textLength="16.9" lengthAdjust="spacingAndGlyphs">AUG</text>
<path d="M212.43 445.8V448.8" stroke="#000" stroke-width="1.1"/>
<text class="t" x="212.73" y="458.2" text-anchor="middle" textLength="16" lengthAdjust="spacingAndGlyphs">SEP</text>
<path d="M233.45 445.8V448.8" stroke="#000" stroke-width="1.1"/>
<text class="t" x="233.75" y="458.2" text-anchor="middle" textLength="15.5" lengthAdjust="spacingAndGlyphs">OCT</text>
<path d="M255.17 445.8V448.8" stroke="#000" stroke-width="1.1"/>
<text class="t" x="255.47" y="458.2" text-anchor="middle" textLength="17.2" lengthAdjust="spacingAndGlyphs">NOV</text>
<path d="M276.18 445.8V448.8" stroke="#000" stroke-width="1.1"/>
<text class="t" x="276.48" y="458.2" text-anchor="middle" textLength="16.4" lengthAdjust="spacingAndGlyphs">DEC</text>
<text class="t" x="42" y="468.5" text-anchor="middle" textLength="22.1" lengthAdjust="spacingAndGlyphs">2010</text>
<text class="u" transform="translate(11.2 394.6) rotate(-90)" text-anchor="middle">(cm)</text>
<text class="v" x="191.1" y="441.1" text-anchor="middle" fill="#00dc00" textLength="27.4" lengthAdjust="spacingAndGlyphs">3.345</text>
<text class="v" x="232.1" y="441.1" text-anchor="middle" fill="#fa3c3c" textLength="27.4" lengthAdjust="spacingAndGlyphs">2.868</text>
<text class="v" x="273.4" y="441.1" text-anchor="middle" fill="#1e3cff" textLength="27.4" lengthAdjust="spacingAndGlyphs">3.450</text>
</g>
<g id="panel-d">
<text class="p" x="323.85" y="15.4" textLength="21.5" lengthAdjust="spacing">(d)</text>
<path class="g" d="M358.45 31.1H609"/>
<path class="g" d="M358.45 46.1H609"/>
<path class="g" d="M358.45 61.1H609"/>
<path class="g" d="M358.45 76.1H609"/>
<path class="g" d="M358.45 91.1H609"/>
<path class="g" d="M358.45 106.1H609"/>
<path class="g" d="M358.45 121.1H609"/>
<path class="g" d="M375.15 26.15V128.6"/>
<path class="g" d="M394.76 26.15V128.6"/>
<path class="g" d="M416.46 26.15V128.6"/>
<path class="g" d="M437.47 26.15V128.6"/>
<path class="g" d="M459.17 26.15V128.6"/>
<path class="g" d="M480.17 26.15V128.6"/>
<path class="g" d="M501.88 26.15V128.6"/>
<path class="g" d="M523.58 26.15V128.6"/>
<path class="g" d="M544.59 26.15V128.6"/>
<path class="g" d="M566.29 26.15V128.6"/>
<path class="g" d="M587.3 26.15V128.6"/>
<clipPath id="cp-d"><rect x="353.45" y="23.6" width="257.05" height="105"/></clipPath>
<g clip-path="url(#cp-d)">
<path class="c" stroke="#7f7f7f" stroke-width="4.0" d="M353.58 78.97 354.14 80.69 354.93 81.6 355.73 82.48 356.42 80.86 357.12 79.71 357.88 77.6 358.55 77.16 359.27 75.51 360 75.54 360.67 75.36 361.41 77.2 362.08 78.6 362.82 79.58 363.48 77.15 364.19 74.99 364.91 72.22 365.61 71.92 366.27 71.92 366.91 73.65 367.55 73.95 368.19 75.54 368.83 76.46 369.47 78.69 370.11 79.37 370.77 80.63 371.45 79.54 372.15 78.6 372.86 76.3 373.56 75.48 374.26 74.35 374.97 74.04 375.68 72.95 376.36 73.24 377.01 73.45 377.64 75.22 378.28 75.15 378.93 75.87 379.62 74.37 380.33 72.63 381.04 69.49 381.73 68.33 382.39 66.89 383.02 67.2 383.66 66.91 384.31 68.07 385 68.61 385.7 70.6 386.41 71.76 387.1 73.64 387.77 74.09 388.43 74.98 389.07 74.49 389.68 75.4 390.43 76.73 391.13 79.88 391.83 80.79 392.53 79.86 393.23 76.09 393.98 73.95 394.59 71.78 395.22 70.6 395.88 68.87 396.55 68.69 397.23 68.01 397.94 69.45 398.65 69.95 399.35 71.27 400.05 71.18 400.76 72.37 401.46 72.92 402.14 74.45 402.8 73.86 403.44 73.98 404.08 72.73 404.72 73.11 405.36 72.8 406 74.13 406.64 74.43 407.3 75.6 407.97 75.06 408.65 75.52 409.36 74.27 410.09 74.16 410.71 72.89 411.35 72.02 412 69.92 412.66 69.4 413.31 67.7 413.96 67.29 414.62 65.24 415.28 64.22 415.92 62.51 416.54 62.65 417.27 63.45 417.98 67.34 418.66 69.79 419.33 72.07 419.99 72.19 420.63 73.05 421.27 72.64 421.91 73.36 422.57 71.42 423.23 69.65 423.88 66.89 424.49 66.71 425.21 67.47 425.89 70.66 426.64 72.8 427.29 75.32 428 76.74 428.72 79.36 429.43 80.53 430.13 82.51 430.84 82.6 431.54 83.05 432.22 81.94 432.88 81.08 433.52 78.83 434.16 77.47 434.8 75.84 435.44 76.08 436.08 75.59 436.72 76.77 437.38 76.57 438.06 78.14 438.76 78.34 439.47 79.47 440.17 78.29 440.87 77.61 441.58 75.13 442.29 74.09 442.97 72.55 443.63 72.87 444.27 72.66 444.91 73.79 445.55 73 446.19 72.9 446.82 70.68 447.46 68.92 448.12 66.57 448.8 65.62 449.51 63.23 450.22 62.74 450.92 60.65 451.62 60.89 452.33 60.01 453.03 60.68 453.71 59.74 454.37 59.86 455.01 59.09 455.65 59.03 456.29 57.96 456.93 58.39 457.57 58.03 458.21 59.38 458.87 59.21 459.55 60.17 460.25 59.9 460.96 60.73 461.66 60.44 462.36 61.49 463.07 61.61 463.77 62.85 464.45 63.08 465.11 64.82 465.75 65.32 466.39 67.28 467.03 68.4 467.67 70.61 468.31 72.36 468.95 75.21 469.61 77.59 470.29 81.49 470.99 84.51 471.7 88.57 472.4 90.81 473.1 93.66 473.81 94.84 474.52 97.12 475.2 97.72 475.85 99.09 476.46 99.14 477.1 99.88 477.78 98.74 478.39 98.84 479.05 97.8 479.73 97.72 480.39 96.36 481 95.86 481.69 93.54 482.32 91.9 482.94 88.91 483.58 88.26 484.25 87.44 484.93 88.44 485.64 88.67 486.37 89.98 486.99 90.13 487.63 90.91 488.29 90.17 488.95 90.62 489.6 90.33 490.24 91.24 490.89 90.69 491.53 91.29 492.18 90.96 492.82 91.85 493.46 91.12 494.11 91.2 494.75 90.39 495.4 91.2 496.04 90.82 496.69 91.57 497.36 91.26 498.02 92.45 498.66 92.36 499.26 93.18 499.95 92.5 500.6 93.16 501.22 91.63 501.84 90.6 502.65 88 503.44 86.61 504.21 84.17 504.93 82.25 505.62 78.29 506.36 75.94 506.96 73.98 507.58 73.83 508.23 72.68 508.93 72.99 509.53 72.2 510.17 72.86 510.84 72.21 511.5 73.52 512.16 73.46 512.8 74.24 513.45 72.89 514.09 72.69 514.74 71.31 515.38 71.69 516.02 70.76 516.67 71.63 517.31 71.36 517.96 72.74 518.6 72.31 519.25 72.77 519.89 71.81 520.54 71.99 521.18 70.56 521.83 70.24 522.47 68.98 523.12 69.21 523.76 68.8 524.41 69.06 525.05 68.06 525.69 67.98 526.34 66.96 526.98 67.18 527.63 66.29 528.27 66.82 528.92 65.52 529.56 65.74 530.21 64.74 530.85 64.65 531.5 63.13 532.14 63.58 532.79 63.53 533.43 64.75 534.08 64.62 534.72 66.09 535.36 66.54 536.01 68.49 536.65 68.53 537.3 69.58 537.94 69.34 538.59 71.12 539.23 71.43 539.88 72.51 540.52 71.94 541.17 72.66 541.81 72.15 542.46 73.1 543.1 72.97 543.75 73.61 544.39 72.91 545.03 73.41 545.68 72.18 546.32 72.35 546.97 70.86 547.61 71.04 548.25 70.43 548.9 70.63 549.54 69.9 550.19 70.78 550.83 70.22 551.48 70.98 552.12 69.7 552.77 68.99 553.41 67.84 554.06 68.2 554.72 68.16 555.4 68.75 556.07 68.14 556.7 68.6 557.28 67.41 558.08 66.97 558.75 64.66 559.43 63.68 560.15 60.84 560.86 58.96 561.58 56.03 562.32 54.96 563.06 53.48 563.73 54.44 564.53 58.72 565.23 64.7 565.83 69.49 566.52 72.31 567.16 69.01 567.89 64.16 568.67 59.06 569.28 57.41 569.93 55.54 570.59 55.4 571.25 54.32 571.89 54.39 572.53 52.94 573.17 53 573.83 52.5 574.51 53.43 575.21 53.47 575.92 55 576.62 55.24 577.32 56.78 578.03 57.82 578.73 60.12 579.41 61.27 580.07 63.61 580.71 64.65 581.35 66.75 581.99 67.99 582.65 69.68 583.31 70.19 583.96 72.05 584.57 72.86 585.33 76.3 586.05 78.23 586.72 79.78 587.58 75.81 588.44 73.92 589.11 75.61 589.83 80.66 590.59 84.34 591.2 87.97 591.84 90.46 592.5 94.13 593.17 96.37 593.85 99.32 594.55 100.99 595.26 103.91 595.96 105.08 596.65 107.48 597.34 108.09 598.04 110.02 598.75 110.36 599.49 111.31 600.25 111.19 601.02 112.16 601.76 111.71 602.47 112.95 603.17 113.18 603.86 114.48 604.55 114.45 605.27 115.98 606 115.89 606.71 116.83 607.35 115.6 608.13 113.72 608.81 109.91 609.28 108.15"/>
<path class="c" stroke="#1e3cff" stroke-width="2.7" d="M353.58 79.11 354.07 78.94 354.77 78.11 355.58 77.72 356.37 76.79 356.99 76.15 357.63 75.08 358.29 74.62 358.95 74.08 359.6 73.95 360.24 73.44 360.89 73.55 361.53 73.34 362.18 73.71 362.82 73.75 363.46 74.03 364.11 73.9 364.75 74.4 365.4 74.27 366.04 74.79 366.68 74.7 367.33 75.29 367.97 75.69 368.62 76.57 369.26 76.6 369.92 76.89 370.58 76.63 371.24 76.68 371.89 76.16 372.49 76 373.18 75.14 373.81 74.74 374.43 73.89 375.07 73.94 375.75 73.95 376.45 74.83 377.16 75.24 377.86 75.86 378.56 75.83 379.27 76.15 379.97 75.82 380.65 75.85 381.29 75.2 381.91 74.95 382.54 74.25 383.23 73.98 383.83 73.06 384.47 72.7 385.13 71.8 385.8 71.41 386.45 70.54 387.1 70.06 387.74 69.04 388.39 68.32 389.03 67.33 389.68 67.02 390.33 66.23 390.99 66.12 391.64 65.57 392.28 65.7 392.9 65.39 393.63 65.54 394.33 65.25 395.02 65.58 395.69 65.81 396.33 66.9 396.95 67.56 397.58 68.65 398.27 69.41 398.87 70.4 399.52 70.73 400.18 71.55 400.84 71.76 401.5 72.55 402.14 72.99 402.79 73.51 403.43 73.33 404.08 73.48 404.72 73.35 405.36 73.6 406.01 73.37 406.65 73.59 407.3 73.29 407.94 73.56 408.59 73.56 409.23 74.1 409.88 74.39 410.52 75.18 411.17 75.54 411.81 76.38 412.46 76.92 413.1 77.53 413.75 77.52 414.39 77.86 415.03 77.49 415.68 77.38 416.32 76.52 416.97 76.28 417.61 75.82 418.25 76.14 418.9 76.03 419.54 76.45 420.19 76.7 420.83 77.85 421.48 78.83 422.12 80.26 422.77 80.98 423.41 82.13 424.06 82.73 424.7 84.37 425.35 85.69 425.99 87.24 426.64 87.96 427.28 88.73 427.92 88.77 428.57 88.89 429.21 88.25 429.86 88.18 430.5 87.84 431.15 88.23 431.79 87.99 432.44 88.02 433.08 87.47 433.73 87.45 434.37 87 435.02 87.01 435.66 86.64 436.31 86.63 436.95 86.04 437.59 86.28 438.24 86.08 438.88 86.52 439.53 86.39 440.17 86.42 440.83 85.85 441.51 85.76 442.19 85.36 442.82 85.31 443.4 84.36 444.18 82.27 444.84 79.1 445.55 76.16 446.16 73.2 446.79 70.71 447.45 67.59 448.12 65.35 448.8 63 449.51 61.22 450.22 59.2 450.92 57.84 451.62 56.29 452.33 55.42 453.03 54.24 453.71 53.5 454.37 52.46 455.01 52.03 455.65 51.27 456.29 51.16 456.93 50.87 457.57 51.5 458.21 52.06 458.87 53.28 459.55 54.26 460.25 55.89 460.96 57.09 461.66 58.81 462.36 60.03 463.07 61.65 463.77 62.97 464.45 65.01 465.11 66.89 465.75 69.34 466.39 71.38 467.03 73.95 467.67 75.98 468.31 78.31 468.95 80.23 469.61 82.61 470.29 84.48 470.99 87.05 471.7 88.91 472.4 90.96 473.1 92.12 473.81 93.21 474.52 93.57 475.2 94.45 475.85 94.79 476.46 95.22 477.1 94.85 477.78 95.07 478.39 94.66 479.05 94.7 479.73 94.08 480.39 94.26 481 93.92 481.69 94.07 482.32 93.23 482.94 92.99 483.58 92.62 484.25 93.17 484.93 93.41 485.64 94.32 486.37 94.67 486.99 95.47 487.63 95.72 488.29 96.54 488.95 96.86 489.6 97.62 490.24 97.56 490.89 97.88 491.53 97.83 492.18 98.29 492.82 98.2 493.46 98.38 494.11 98.15 494.75 98.15 495.4 97.89 496.04 98.31 496.7 98.39 497.38 99.26 498.05 99.68 498.68 100.37 499.26 100.29 500.06 100.25 500.73 98.92 501.41 97.31 502.13 93.52 502.84 89.24 503.56 84.5 504.28 80.43 504.99 75.95 505.71 72.42 506.43 68.95 507.14 66.49 507.86 63.84 508.58 62.35 509.29 61.1 510.01 60.55 510.73 60.07 511.44 60.38 512.16 60.58 512.88 61.91 513.59 63.09 514.31 64.1 515 63.65 515.69 63.28 516.45 62.51 517.11 62.5 517.82 62.02 518.55 62.38 519.25 62.58 519.9 63.88 520.51 65.18 521.15 66.53 521.83 66.85 522.44 67.1 523.09 66.59 523.76 66.65 524.42 65.78 525.05 65.37 525.78 63.85 526.48 62.95 527.17 61.92 527.84 61.83 528.48 61.79 529.1 62.94 529.73 63.7 530.42 64.49 531.03 64.03 531.68 63.73 532.35 62.87 533.01 62.96 533.64 62.71 534.37 62.71 535.08 62 535.77 61.98 536.44 61.9 537.09 62.92 537.7 63.77 538.34 65.43 539.02 66.08 539.62 66.74 540.26 67.14 540.92 68.12 541.59 68.4 542.24 69.09 542.88 69.39 543.53 70.08 544.17 70.16 544.82 70.34 545.46 69.99 546.11 69.8 546.75 69.43 547.4 69.38 548.04 68.79 548.69 68.59 549.33 67.74 549.98 67.49 550.62 66.68 551.27 66.26 551.91 65.54 552.55 65.58 553.2 65.26 553.84 65.28 554.49 64.54 555.13 64.34 555.79 63.58 556.45 63.46 557.12 62.7 557.76 62.62 558.36 61.85 559.04 61.26 559.67 59.91 560.29 59.35 560.93 58.53 561.61 58.65 562.32 58.72 563.03 59.17 563.73 59.28 564.43 60.03 565.14 60.26 565.84 60.92 566.52 60.71 567.18 60.63 567.82 59.54 568.46 58.6 569.1 57.34 569.74 56.9 570.38 56.18 571.02 56.14 571.68 55.41 572.36 55.22 573.06 54.48 573.77 54.47 574.47 54.26 575.17 55 575.88 55.53 576.58 56.74 577.26 57.46 577.92 59.01 578.56 60.48 579.2 62.69 579.84 64.13 580.48 65.88 581.12 67.01 581.76 68.69 582.42 70.23 583.09 72.14 583.77 73.87 584.48 76.11 585.21 77.47 585.84 78.68 586.5 79.34 587.17 80.77 587.83 81.45 588.44 82.53 589.13 83.5 589.76 85.17 590.38 86.61 591.02 88.73 591.7 90.81 592.4 94.05 593.11 96.9 593.81 99.79 594.51 101.95 595.22 104.5 595.92 106.25 596.6 108.22 597.26 109.44 597.9 111.09 598.54 112.04 599.18 113.31 599.82 113.95 600.46 115.07 601.1 115.67 601.76 116.83 602.44 117.64 603.14 119.02 603.85 119.93 604.55 121.17 605.27 121.7 606 122.65 606.71 123.29 607.35 124.08 608.13 124.32 608.81 124.97 609.28 124.72"/>
<path class="c" stroke="#fa3c3c" stroke-width="2.7" d="M353.58 79.04 354.07 79.11 354.77 78.62 355.58 78.6 356.37 78.04 356.99 77.88 357.63 77.13 358.29 76.93 358.95 76.25 359.6 75.92 360.26 75.33 360.94 75 361.61 74.34 362.24 74.17 362.82 73.33 363.59 72.76 364.25 71.76 364.97 71.83 365.63 71.75 366.34 72.66 367.06 73.13 367.76 74.06 368.43 74.25 369.09 75.04 369.73 75.39 370.34 75.87 371.07 75.18 371.76 74.51 372.49 73.72 373.1 73.9 373.74 73.79 374.4 74.35 375.07 74.32 375.75 75.3 376.45 76.38 377.16 77.96 377.86 78.32 378.56 78.64 379.27 78.05 379.97 77.67 380.65 76.72 381.31 76.09 381.95 74.81 382.59 74.32 383.23 73.45 383.87 72.7 384.51 71.22 385.15 70.28 385.81 68.8 386.49 67.68 387.19 66.08 387.9 65.04 388.6 63.7 389.3 62.87 390.01 61.76 390.72 61.64 391.4 61.24 392.06 61.34 392.7 61.2 393.34 61.57 393.98 61.53 394.62 61.92 395.25 61.89 395.89 62.33 396.55 62.62 397.25 63.68 397.98 64.83 398.69 66.41 399.35 67.1 400.12 67.33 400.81 66.21 401.5 65.22 402.19 63.65 402.88 62.3 403.64 61.11 404.3 61.42 405.01 61.67 405.74 62.77 406.44 63.4 407.1 64.75 407.74 65.82 408.38 67.32 409.02 68.1 409.66 68.94 410.3 69.27 410.94 69.91 411.6 70.06 412.28 71.09 412.98 72.19 413.69 73.61 414.39 73.67 415.09 73.24 415.8 71.68 416.5 70.38 417.18 69.16 417.82 68.8 418.44 68.14 419.07 68.28 419.76 68.07 420.36 68.89 421 69.49 421.66 70.76 422.33 71.58 422.98 72.85 423.64 73.68 424.3 74.96 424.96 75.6 425.61 76.63 426.21 77.36 426.9 79.26 427.53 80.86 428.15 82.77 428.79 83.91 429.46 85.29 430.14 85.81 430.85 86.29 431.58 86.1 432.2 86.25 432.84 85.9 433.49 85.79 434.15 85.28 434.8 85.2 435.45 84.59 436.11 84.42 436.76 83.95 437.4 84.07 438.02 83.51 438.74 83.05 439.43 82.24 440.12 81.73 440.82 80.81 441.56 80.51 442.33 79.52 443.09 79.12 443.83 77.98 444.54 77.05 445.24 74.97 445.93 73.17 446.62 71.15 447.31 69.65 448 67.61 448.7 66.17 449.41 64.54 450.15 63.7 450.91 62.57 451.68 62.32 452.42 61.6 453.13 61.47 453.83 60.82 454.52 60.57 455.21 59.89 455.91 59.92 456.62 59.38 457.33 59.37 458.01 58.99 458.66 59.56 459.27 59.72 459.91 60.5 460.59 60.47 461.2 60.89 461.85 60.96 462.52 61.68 463.18 61.73 463.81 62.03 464.55 61.87 465.27 62.22 465.96 62.12 466.6 62.82 467.36 63.83 468.06 66.08 468.75 68.2 469.47 71.56 470.18 74.61 470.9 78.18 471.62 81.22 472.33 84.91 473.05 87.72 473.75 90.24 474.45 91.71 475.2 93.01 475.8 93.16 476.42 93.82 477.08 93.9 477.78 94.22 478.39 93.8 479.05 93.83 479.73 93.29 480.39 93.13 481 92.67 481.69 92.92 482.32 93.04 482.94 93.87 483.58 94.19 484.25 94.94 484.93 95.43 485.64 96.41 486.37 96.9 486.99 97.82 487.63 98.14 488.29 98.67 488.95 98.64 489.6 99.05 490.24 99.4 490.89 100.12 491.53 100.3 492.18 100.91 492.82 100.98 493.46 101.47 494.11 101.74 494.75 102.49 495.4 102.64 496.04 103.06 496.7 102.83 497.38 103.3 498.05 103.29 498.68 103.68 499.26 103.4 500.06 103.67 500.73 102.97 501.41 102.31 502.13 100.62 502.84 98.97 503.56 96.2 504.28 92.73 504.99 88.17 505.71 84.42 506.4 80.65 507.1 77.49 507.86 74.64 508.52 73.41 509.23 72.15 509.95 71.63 510.65 70.7 511.29 70.3 511.91 69.52 512.54 69.41 513.23 68.97 513.83 68.99 514.47 68.5 515.13 68.69 515.8 68.31 516.45 68.33 517.1 67.84 517.74 67.95 518.39 67.8 519.03 68.31 519.68 68.35 520.33 68.8 520.99 68.83 521.64 69.4 522.28 69.89 522.9 70.71 523.63 70.38 524.34 70.04 525.02 69 525.69 68.58 526.33 67.57 526.95 66.92 527.58 65.97 528.27 66.06 528.87 65.86 529.52 65.94 530.18 65.32 530.84 65.13 531.5 64.63 532.14 65.01 532.79 64.85 533.43 65.35 534.08 65.3 534.72 65.89 535.36 65.9 536.01 66.67 536.65 67.22 537.3 68.1 537.94 68.24 538.59 68.84 539.23 69.18 539.88 70.37 540.52 70.84 541.17 71.75 541.81 72 542.46 72.52 543.1 72.57 543.75 73.04 544.39 72.86 545.03 73.19 545.68 72.72 546.32 72.64 546.97 72.25 547.61 72.29 548.25 71.92 548.9 72.08 549.54 71.8 550.19 71.95 550.83 71.49 551.48 71.15 552.12 70.12 552.77 69.55 553.41 68.68 554.06 68.47 554.7 67.65 555.35 67.18 555.99 66.03 556.64 65.68 557.28 64.91 557.92 64.94 558.57 64.48 559.21 64.39 559.86 63.97 560.5 64.05 561.15 63.87 561.79 64.34 562.44 64.3 563.08 65.05 563.73 65.02 564.37 65.02 565.02 64.24 565.66 63.69 566.31 62.68 566.95 61.98 567.59 60.72 568.24 60.14 568.88 59.33 569.53 59.16 570.17 58.4 570.82 58.04 571.46 57.34 572.11 57.13 572.75 56.41 573.4 56.31 574.05 55.95 574.71 56.45 575.36 56.62 576 57.25 576.62 57.44 577.35 58.18 578.05 58.63 578.74 59.9 579.41 60.72 580.07 62.32 580.71 63.21 581.35 64.57 581.99 65.53 582.63 67.27 583.27 68.55 583.91 70.27 584.57 71.37 585.25 72.84 585.95 73.6 586.66 75.17 587.36 76.41 588.06 78.8 588.77 80.92 589.48 83.75 590.16 86.21 590.82 89.11 591.46 91.76 592.1 94.79 592.74 97.2 593.38 99.68 594.01 101.74 594.65 104.08 595.31 105.61 595.99 107.22 596.7 108.15 597.41 109.33 598.11 109.98 598.8 111.1 599.49 111.46 600.19 112.27 600.9 113.03 601.64 114.26 602.4 114.91 603.17 115.88 603.91 116.43 604.63 117.45 605.33 118.05 606.02 119.04 606.7 119.45 607.42 120.64 608.16 121.21 608.82 122.19 609.28 122.69"/>
<path class="c" stroke="#00dc00" stroke-width="2.3000000000000003" d="M353.58 78.3 354.07 78.46 354.77 78.69 355.58 78.89 356.37 78.94 356.99 78.85 357.63 78.69 358.29 78.46 358.95 78.18 359.6 77.87 360.24 77.52 360.89 77.11 361.53 76.66 362.18 76.19 362.82 75.72 363.46 75.2 364.11 74.63 364.75 74.05 365.4 73.54 366.04 73.14 366.68 72.85 367.33 72.63 367.97 72.49 368.62 72.45 369.26 72.5 369.91 72.68 370.55 72.97 371.2 73.35 371.84 73.77 372.49 74.21 373.13 74.7 373.78 75.27 374.42 75.86 375.07 76.38 375.71 76.79 376.35 77.09 377 77.32 377.64 77.47 378.29 77.52 378.93 77.44 379.58 77.21 380.22 76.84 380.87 76.38 381.51 75.85 382.16 75.29 382.8 74.68 383.45 73.99 384.09 73.26 384.74 72.53 385.38 71.85 386.02 71.2 386.67 70.55 387.31 69.93 387.96 69.35 388.6 68.84 389.25 68.38 389.89 67.95 390.54 67.58 391.18 67.29 391.83 67.12 392.47 67.07 393.12 67.12 393.76 67.26 394.41 67.48 395.05 67.77 395.69 68.15 396.34 68.63 396.98 69.18 397.63 69.76 398.27 70.35 398.92 71 399.56 71.75 400.21 72.48 400.85 73.12 401.5 73.57 402.15 73.83 402.82 73.96 403.48 73.96 404.12 73.83 404.72 73.57 405.41 72.98 406.04 72.13 406.66 71.2 407.3 70.35 407.97 69.58 408.65 68.82 409.36 68.12 410.09 67.55 410.71 67.2 411.35 66.94 412 66.73 412.66 66.58 413.31 66.48 413.96 66.42 414.6 66.41 415.25 66.45 415.89 66.54 416.54 66.69 417.18 66.88 417.83 67.12 418.47 67.41 419.12 67.77 419.76 68.2 420.4 68.72 421.05 69.31 421.69 69.97 422.34 70.68 422.98 71.42 423.63 72.21 424.27 73.06 424.92 73.95 425.56 74.84 426.21 75.72 426.85 76.61 427.5 77.54 428.14 78.45 428.79 79.3 429.43 80.02 430.07 80.62 430.72 81.12 431.36 81.54 432.01 81.88 432.65 82.17 433.3 82.4 433.94 82.56 434.59 82.65 435.23 82.67 435.88 82.6 436.52 82.43 437.17 82.17 437.81 81.83 438.46 81.46 439.1 81.09 439.74 80.7 440.39 80.28 441.03 79.83 441.68 79.38 442.32 78.94 442.97 78.53 443.61 78.13 444.26 77.73 444.9 77.29 445.55 76.79 446.19 76.23 446.84 75.63 447.48 74.99 448.13 74.3 448.77 73.57 449.41 72.8 450.06 71.98 450.7 71.12 451.35 70.22 451.99 69.27 452.63 68.26 453.28 67.2 453.92 66.1 454.57 64.99 455.21 63.9 455.86 62.79 456.5 61.65 457.15 60.52 457.79 59.47 458.44 58.53 459.09 57.71 459.75 56.98 460.4 56.34 461.04 55.78 461.66 55.31 462.39 54.82 463.09 54.46 463.78 54.25 464.45 54.23 465.11 54.39 465.75 54.73 466.39 55.24 467.03 55.95 467.67 56.83 468.31 57.89 468.95 59.16 469.61 60.68 470.29 62.51 470.99 64.6 471.7 66.88 472.4 69.27 473.1 71.86 473.81 74.65 474.52 77.43 475.2 80.02 475.85 82.45 476.46 84.79 477.1 86.89 477.78 88.61 478.39 89.61 479.05 90.34 479.73 90.88 480.39 91.34 481 91.83 481.69 92.44 482.32 92.97 482.94 93.47 483.58 93.98 484.25 94.54 484.93 95.12 485.64 95.67 486.37 96.13 486.99 96.42 487.63 96.67 488.29 96.88 488.95 97.05 489.6 97.21 490.24 97.35 490.89 97.47 491.53 97.56 492.18 97.62 492.82 97.64 493.46 97.61 494.11 97.53 494.75 97.42 495.4 97.31 496.04 97.21 496.69 97.14 497.35 97.1 498 97.04 498.64 96.95 499.26 96.78 499.99 96.5 500.7 96.16 501.39 95.7 502.06 95.06 502.72 94.22 503.36 93.21 504 92.05 504.64 90.76 505.28 89.3 505.91 87.67 506.55 85.97 507.21 84.31 507.89 82.67 508.6 81.02 509.31 79.4 510.01 77.87 510.7 76.4 511.39 74.98 512.09 73.67 512.8 72.5 513.54 71.5 514.31 70.64 515.07 69.91 515.81 69.27 516.51 68.74 517.19 68.33 517.88 68.01 518.6 67.77 519.22 67.63 519.86 67.55 520.52 67.51 521.18 67.52 521.83 67.55 522.47 67.62 523.12 67.73 523.76 67.87 524.41 68.03 525.05 68.2 525.69 68.4 526.34 68.63 526.98 68.87 527.63 69.09 528.27 69.27 528.92 69.39 529.56 69.48 530.21 69.54 530.85 69.61 531.5 69.7 532.14 69.8 532.79 69.9 533.43 70.02 534.08 70.16 534.72 70.35 535.36 70.6 536.01 70.9 536.65 71.22 537.3 71.55 537.94 71.85 538.59 72.14 539.23 72.42 539.88 72.7 540.52 72.94 541.17 73.14 541.81 73.31 542.46 73.45 543.1 73.55 543.75 73.59 544.39 73.57 545.03 73.47 545.68 73.3 546.32 73.08 546.97 72.81 547.61 72.5 548.25 72.15 548.9 71.75 549.54 71.31 550.19 70.84 550.83 70.35 551.48 69.81 552.12 69.21 552.77 68.61 553.41 68.04 554.06 67.55 554.7 67.13 555.35 66.75 555.99 66.43 556.64 66.19 557.28 66.05 557.92 66.03 558.57 66.13 559.21 66.3 559.86 66.5 560.5 66.69 561.15 66.91 561.79 67.19 562.44 67.47 563.08 67.69 563.73 67.77 564.37 67.72 565.02 67.58 565.66 67.35 566.31 67.05 566.95 66.69 567.59 66.23 568.24 65.67 568.88 65.05 569.53 64.44 570.17 63.9 570.82 63.4 571.46 62.91 572.11 62.46 572.75 62.06 573.4 61.75 574.05 61.53 574.71 61.38 575.36 61.3 576 61.28 576.62 61.32 577.35 61.45 578.05 61.67 578.74 61.99 579.41 62.4 580.07 62.92 580.71 63.56 581.35 64.25 581.99 64.98 582.63 65.69 583.27 66.42 583.91 67.23 584.57 68.2 585.25 69.34 585.95 70.62 586.66 72.03 587.36 73.57 588.06 75.27 588.77 77.13 589.48 79.08 590.16 81.09 590.82 83.19 591.46 85.39 592.1 87.59 592.74 89.69 593.38 91.67 594.01 93.59 594.65 95.43 595.31 97.21 595.99 98.95 596.7 100.63 597.41 102.22 598.11 103.65 598.8 104.9 599.49 106 600.19 107 600.9 107.95 601.64 108.84 602.4 109.65 603.17 110.42 603.91 111.17 604.63 111.9 605.33 112.61 606.02 113.3 606.7 113.97 607.42 114.69 608.16 115.44 608.82 116.09 609.28 116.55"/>
</g>
<rect x="353.45" y="23.6" width="255.55" height="105" fill="none" stroke="#000" stroke-width="1.65"/>
<path d="M350.15 31.1H353.45" stroke="#000" stroke-width="1.1"/>
<text class="t" x="347.95" y="35.4" text-anchor="end">30</text>
<path d="M350.15 46.1H353.45" stroke="#000" stroke-width="1.1"/>
<text class="t" x="347.95" y="50.4" text-anchor="end">20</text>
<path d="M350.15 61.1H353.45" stroke="#000" stroke-width="1.1"/>
<text class="t" x="347.95" y="65.4" text-anchor="end">10</text>
<path d="M350.15 76.1H353.45" stroke="#000" stroke-width="1.1"/>
<text class="t" x="347.95" y="80.4" text-anchor="end">0</text>
<path d="M350.15 91.1H353.45" stroke="#000" stroke-width="1.1"/>
<text class="t" x="347.95" y="95.4" text-anchor="end">−<tspan dx="0.9">10</tspan></text>
<path d="M350.15 106.1H353.45" stroke="#000" stroke-width="1.1"/>
<text class="t" x="347.95" y="110.4" text-anchor="end">−<tspan dx="0.9">20</tspan></text>
<path d="M350.15 121.1H353.45" stroke="#000" stroke-width="1.1"/>
<text class="t" x="347.95" y="125.4" text-anchor="end">−<tspan dx="0.9">30</tspan></text>
<path d="M353.45 128.6V131.6" stroke="#000" stroke-width="1.1"/>
<text class="t" x="353.75" y="141" text-anchor="middle" textLength="15.6" lengthAdjust="spacingAndGlyphs">JAN</text>
<path d="M375.15 128.6V131.6" stroke="#000" stroke-width="1.1"/>
<text class="t" x="375.45" y="141" text-anchor="middle" textLength="15.7" lengthAdjust="spacingAndGlyphs">FEB</text>
<path d="M394.76 128.6V131.6" stroke="#000" stroke-width="1.1"/>
<text class="t" x="395.06" y="141" text-anchor="middle" textLength="16.4" lengthAdjust="spacingAndGlyphs">MAR</text>
<path d="M416.46 128.6V131.6" stroke="#000" stroke-width="1.1"/>
<text class="t" x="416.76" y="141" text-anchor="middle" textLength="16.4" lengthAdjust="spacingAndGlyphs">APR</text>
<path d="M437.47 128.6V131.6" stroke="#000" stroke-width="1.1"/>
<text class="t" x="437.77" y="141" text-anchor="middle" textLength="16.4" lengthAdjust="spacingAndGlyphs">MAY</text>
<path d="M459.17 128.6V131.6" stroke="#000" stroke-width="1.1"/>
<text class="t" x="459.47" y="141" text-anchor="middle" textLength="16.4" lengthAdjust="spacingAndGlyphs">JUN</text>
<path d="M480.17 128.6V131.6" stroke="#000" stroke-width="1.1"/>
<text class="t" x="480.47" y="141" text-anchor="middle" textLength="13.9" lengthAdjust="spacingAndGlyphs">JUL</text>
<path d="M501.88 128.6V131.6" stroke="#000" stroke-width="1.1"/>
<text class="t" x="502.18" y="141" text-anchor="middle" textLength="16.9" lengthAdjust="spacingAndGlyphs">AUG</text>
<path d="M523.58 128.6V131.6" stroke="#000" stroke-width="1.1"/>
<text class="t" x="523.88" y="141" text-anchor="middle" textLength="16" lengthAdjust="spacingAndGlyphs">SEP</text>
<path d="M544.59 128.6V131.6" stroke="#000" stroke-width="1.1"/>
<text class="t" x="544.89" y="141" text-anchor="middle" textLength="15.5" lengthAdjust="spacingAndGlyphs">OCT</text>
<path d="M566.29 128.6V131.6" stroke="#000" stroke-width="1.1"/>
<text class="t" x="566.59" y="141" text-anchor="middle" textLength="17.2" lengthAdjust="spacingAndGlyphs">NOV</text>
<path d="M587.3 128.6V131.6" stroke="#000" stroke-width="1.1"/>
<text class="t" x="587.6" y="141" text-anchor="middle" textLength="16.4" lengthAdjust="spacingAndGlyphs">DEC</text>
<text class="t" x="353.25" y="151.3" text-anchor="middle" textLength="22.1" lengthAdjust="spacingAndGlyphs">2010</text>
<text class="u" transform="translate(322.45 77.4) rotate(-90)" text-anchor="middle">(cm)</text>
<text class="v" x="489.35" y="123.9" text-anchor="middle" fill="#00dc00" textLength="27.4" lengthAdjust="spacingAndGlyphs">3.867</text>
<text class="v" x="530.65" y="123.9" text-anchor="middle" fill="#fa3c3c" textLength="27.4" lengthAdjust="spacingAndGlyphs">2.199</text>
<text class="v" x="571.35" y="123.9" text-anchor="middle" fill="#1e3cff" textLength="27.4" lengthAdjust="spacingAndGlyphs">2.619</text>
</g>
<g id="panel-e">
<text class="p" x="323.85" y="174.1" textLength="20" lengthAdjust="spacing">(e)</text>
<path class="g" d="M358.45 189.78H609"/>
<path class="g" d="M358.45 204.74H609"/>
<path class="g" d="M358.45 219.69H609"/>
<path class="g" d="M358.45 234.65H609"/>
<path class="g" d="M358.45 249.61H609"/>
<path class="g" d="M358.45 264.56H609"/>
<path class="g" d="M358.45 279.52H609"/>
<path class="g" d="M375.15 184.85V287"/>
<path class="g" d="M394.76 184.85V287"/>
<path class="g" d="M416.46 184.85V287"/>
<path class="g" d="M437.47 184.85V287"/>
<path class="g" d="M459.17 184.85V287"/>
<path class="g" d="M480.17 184.85V287"/>
<path class="g" d="M501.88 184.85V287"/>
<path class="g" d="M523.58 184.85V287"/>
<path class="g" d="M544.59 184.85V287"/>
<path class="g" d="M566.29 184.85V287"/>
<path class="g" d="M587.3 184.85V287"/>
<clipPath id="cp-e"><rect x="353.45" y="182.3" width="257.05" height="104.7"/></clipPath>
<g clip-path="url(#cp-e)">
<path class="c" stroke="#7f7f7f" stroke-width="4.0" d="M357.02 237.18 357.88 239.99 358.74 238.81 359.59 244.54 360.45 246.58 361.31 253.41 362.17 255.7 363.03 261.53 363.89 261.61 364.75 265.64 365.61 262.45 366.47 266.48 367.33 267.02 368.19 270.73 369.05 268.39 369.91 268.66 370.77 261.16 371.6 261.82 372.49 259.2 373.17 260.59 373.91 257.46 374.64 260.54 375.36 257.48 376.07 261.93 376.79 258.4 377.5 260.82 378.22 256.42 378.93 259.46 379.65 254.15 380.36 257.52 381.08 253.96 381.8 257.87 382.51 254.69 383.23 258.67 383.95 256.71 384.66 260.41 385.38 256.93 386.1 259.28 386.81 257.63 387.53 260.38 388.25 257.91 388.96 260.58 389.68 256.17 390.4 256.8 391.11 252.89 391.83 254.1 392.55 251.28 393.26 255.66 393.98 254.64 394.69 260.15 395.41 258.21 396.12 264.54 396.84 262.59 397.55 265.22 398.27 263.18 398.99 266.16 399.7 262.8 400.42 265.8 401.14 263.86 401.85 266.82 402.57 263.93 403.29 269.64 404 266.83 404.72 269.84 405.44 264.57 406.15 267.7 406.87 264 407.59 267.41 408.3 264.23 409.02 268.13 409.74 264.03 410.45 264.67 411.17 261.64 411.88 263.38 412.6 258.09 413.31 261.1 414.03 257.47 414.74 260.3 415.46 255 416.18 257.18 416.89 251.4 417.61 255.46 418.33 252.26 419.04 255.11 419.76 251.35 420.48 253.19 421.19 249.37 421.91 251.02 422.63 247.45 423.34 251.48 424.06 246.44 424.78 251.42 425.49 247.51 426.21 252.47 426.93 248.11 427.64 250.53 428.36 247.25 429.07 248.89 429.79 246.96 430.5 250.52 431.22 248.72 431.93 253.93 432.65 251.95 433.37 254.41 434.08 249.45 434.8 249.84 435.52 244.43 436.23 246.34 436.95 241.1 437.67 243.09 438.38 237.65 439.1 240.61 439.82 236.75 440.53 238.28 441.25 233.27 441.97 236.89 442.68 232.66 443.4 236.01 444.12 231.05 444.83 235.05 445.55 231.9 446.26 235.51 446.98 231.85 447.69 235.01 448.41 231.71 449.12 235.06 449.84 233.09 450.56 234.59 451.27 231.01 451.99 233.06 452.71 226.25 453.42 228.11 454.14 222.55 454.86 227.13 455.57 224.57 456.29 228.98 457.01 226.81 457.72 231.99 458.44 227.77 459.16 231.29 459.87 227.57 460.59 229.97 461.31 227.66 462.02 230.36 462.74 226.07 463.45 228.38 464.17 225.37 464.88 227.85 465.6 224.87 466.31 228.13 467.03 225.19 467.75 228.06 468.46 223.29 469.18 225.86 469.9 222.25 470.61 224.38 471.33 220.47 472.05 223.38 472.76 219.6 473.48 222.25 474.2 219.12 474.91 222.67 475.63 219.59 476.31 223.63 476.98 219.73 477.78 224.28 478.37 221.9 479.04 224.99 479.74 222.1 480.41 226.91 481 223.82 481.8 224.71 482.47 219.1 483.15 218.5 483.87 215.01 484.58 219.43 485.3 214.93 486.02 218.25 486.73 215.27 487.45 217.37 488.17 213.68 488.88 215.77 489.6 211 490.31 212.57 491.03 207.31 491.74 210.32 492.46 207.69 493.17 210.81"/>
<path class="c" stroke="#7f7f7f" stroke-width="4.0" d="M503.56 224.67 504.28 222.74 504.99 226.52 505.71 223.48 506.43 227.27 507.14 222.64 507.86 225.36 508.58 220.8 509.29 222.11 510.01 220.03 510.73 221.71 511.44 220.1 512.16 223.25 512.88 220.88 513.59 226.54 514.31 222.58 515.02 224.79 515.74 222.02 516.45 224.83 517.17 219.89 517.88 222.13 518.6 217.93 519.32 220.24 520.03 215.43 520.75 218.47 521.47 214.52 522.18 217.22 522.9 214.28 523.62 217.44 524.33 215.56 525.05 218.47 525.77 215.88 526.48 217.67 527.2 213.9 527.93 212.68 528.67 206.76 529.35 207.53 530.25 202.39 531.07 204.86 531.82 198.92 532.57 200.31 533.39 199.35 534.29 205.88 534.97 205.27 535.71 210.8 536.44 206.78 537.16 209.22 537.87 204.22 538.59 207.61 539.31 204.15 540.02 208.28 540.74 205.63 541.45 210.45 542.17 210.08 542.88 214.31 543.6 211.32 544.31 215.19 545.03 213.75 545.75 215.67 546.46 213.28 547.18 214.38 547.91 209.87 548.65 210.02 549.33 205.46 550.2 206.33 551.05 202.23 551.67 206.81 552.31 206.99 552.98 212.85 553.68 213.57 554.41 218.18 555.13 218 555.85 222.99 556.56 223.63 557.28 229.47 558 227.4 558.71 230.1 559.43 227.11 560.15 231.18 560.86 228.79 561.58 231.88 562.3 227.07 563.01 230.18 563.73 225.62 564.45 226.38 565.16 221.32 565.88 224.33 566.59 221.57 567.31 226.13 568.02 222.88 568.74 226.76"/>
<path class="c" stroke="#7f7f7f" stroke-width="4.0" d="M353.58 253.45 354.33 252.89 355.3 245.74 356.16 246.88 357.02 240.68 357.88 243.49 358.74 242.31 359.59 248.04 360.45 250.08 361.31 256.91 362.17 259.2 363.03 265.03 363.89 265.11 364.75 269.14 365.61 265.95 366.47 269.98 367.33 270.52 368.19 274.23 369.05 271.89 369.91 272.16 370.77 264.66 371.6 265.32 372.49 262.7 373.17 264.09 373.91 260.96 374.64 264.04 375.36 260.98 376.07 265.43 376.79 261.9 377.5 264.32 378.22 259.92 378.93 262.96 379.65 257.65 380.36 261.02 381.08 257.46 381.8 261.37 382.51 258.19 383.23 262.17 383.95 260.21 384.66 263.91 385.38 260.43 386.1 262.78 386.81 261.13 387.53 263.88 388.25 261.41 388.96 264.08 389.68 259.67 390.4 260.3 391.11 256.39 391.83 257.6 392.55 254.78 393.26 259.16 393.98 258.14 394.69 263.65 395.41 261.71 396.12 268.04 396.84 266.09 397.55 268.72 398.27 266.68 398.99 269.66 399.7 266.3 400.42 269.3 401.14 267.36 401.85 270.32 402.57 267.43 403.29 273.14 404 270.33 404.72 273.34 405.44 268.07 406.15 271.2 406.87 267.5 407.59 270.91 408.3 267.73 409.02 271.63 409.74 267.53 410.45 268.17 411.17 265.14 411.88 266.88 412.6 261.59 413.31 264.6 414.03 260.97 414.74 263.8 415.46 258.5 416.18 260.68 416.89 254.9 417.61 258.96 418.33 255.76 419.04 258.61 419.76 254.85 420.48 256.69 421.19 252.87 421.91 254.52 422.63 250.95 423.34 254.98 424.06 249.94 424.78 254.92 425.49 251.01 426.21 255.97 426.93 251.61 427.64 254.03 428.36 250.75 429.07 252.39 429.79 250.46 430.5 254.02 431.22 252.22 431.93 257.43 432.65 255.45 433.37 257.91 434.08 252.95 434.8 253.34 435.52 247.93 436.23 249.84 436.95 244.6 437.67 246.59 438.38 241.15 439.1 244.11 439.82 240.25 440.53 241.78 441.25 236.77 441.97 240.39 442.68 236.16 443.4 239.51 444.12 234.55 444.83 238.55 445.55 235.4 446.26 239.01 446.98 235.35 447.69 238.51 448.41 235.21 449.12 238.56 449.84 236.59 450.56 238.09 451.27 234.51 451.99 236.56 452.71 229.75 453.42 231.61 454.14 226.05 454.86 230.63 455.57 228.07 456.29 232.48 457.01 230.31 457.72 235.49 458.44 231.27 459.16 234.79 459.87 231.07 460.59 233.47 461.31 231.16 462.02 233.86 462.74 229.57 463.45 231.88 464.17 228.87 464.88 231.35 465.6 228.37 466.31 231.63 467.03 228.69 467.75 231.56 468.46 226.79 469.18 229.36 469.9 225.75 470.61 227.88 471.33 223.97 472.05 226.88 472.76 223.1 473.48 225.75 474.2 222.62 474.91 226.17 475.63 223.09 476.31 227.13 476.98 223.23 477.78 227.78 478.37 225.4 479.04 228.49 479.74 225.6 480.41 230.41 481 227.32 481.8 228.21 482.47 222.6 483.15 222 483.87 218.51 484.58 222.93 485.3 218.43 486.02 221.75 486.73 218.77 487.45 220.87 488.17 217.18 488.88 219.27 489.6 214.5 490.31 216.07 491.03 210.81 491.74 213.82 492.46 211.19 493.17 214.31 493.89 211.52 494.61 216.77 495.32 213.67 496.04 217.39 496.77 214.59 497.51 217.12 498.19 211.95 499.09 215.59 499.91 211.05 500.63 216.1 501.41 215.76 502.08 220.62 502.82 217.4 503.56 221.67 504.28 219.74 504.99 223.52 505.71 220.48 506.43 224.27 507.14 219.64 507.86 222.36 508.58 217.8 509.29 219.11 510.01 217.03 510.73 218.71 511.44 217.1 512.16 220.25 512.88 217.88 513.59 223.54 514.31 219.58 515.02 221.79 515.74 219.02 516.45 221.83 517.17 216.89 517.88 219.13 518.6 214.93 519.32 217.24 520.03 212.43 520.75 215.47 521.47 211.52 522.18 214.22 522.9 211.28 523.62 214.44 524.33 212.56 525.05 215.47 525.77 212.88 526.48 214.67 527.2 210.9 527.93 209.68 528.67 203.76 529.35 204.53 530.25 199.39 531.07 201.86 531.82 195.92 532.57 197.31 533.39 196.35 534.29 202.88 534.97 202.27 535.71 207.8 536.44 203.78 537.16 206.22 537.87 201.22 538.59 204.61 539.31 201.15 540.02 205.28 540.74 202.63 541.45 207.45 542.17 207.08 542.88 211.31 543.6 208.32 544.31 212.19 545.03 210.75 545.75 212.67 546.46 210.28 547.18 211.38 547.91 206.87 548.65 207.02 549.33 202.46 550.2 203.33 551.05 199.23 551.67 203.81 552.31 203.99 552.98 209.85 553.68 210.57 554.41 215.18 555.13 215 555.85 219.99 556.56 220.63 557.28 226.47 558 224.4 558.71 227.1 559.43 224.11 560.15 228.18 560.86 225.79 561.58 228.88 562.3 224.07 563.01 227.18 563.73 222.62 564.45 223.38 565.16 218.32 565.88 221.33 566.59 218.57 567.31 223.13 568.02 219.88 568.74 223.76 569.45 219.5 570.17 221.24 570.89 217.51 571.6 219.26 572.32 216.63 573.04 217 573.75 212.61 574.47 214.02 575.19 212.99 575.9 217.62 576.62 215.79 577.34 219.98 578.05 217.95 578.77 221.46 579.49 218.34 580.2 224.47 580.92 221.41 581.64 222.72 582.35 219.1 583.07 220.78 583.78 215.51 584.5 215.56 585.21 210.2 585.94 212.13 586.67 207.34 587.36 208.55 588.23 205.18 589.08 209.77 589.7 209.67 590.35 214.89 591.02 213.11 591.72 218.25 592.45 217.3 593.17 221.71 593.88 219.23 594.6 223.91 595.31 220.81 596.03 223.3 596.74 220.31 597.46 221.7 598.18 220.47 598.89 225.42 599.61 225.76 600.33 230.67 601.04 229.7 601.76 234.62 602.48 232.8 603.19 238.49 603.91 237.81 604.59 244.25 605.26 241.26 606.06 244.66 606.69 241.42 607.43 246.7 608.17 243.21 608.82 246.42 609.28 244.03"/>
<path class="c" stroke="#1e3cff" stroke-width="3.0" d="M353.58 241.37 354.14 242.29 354.93 239.16 355.73 239.5 356.45 236.94 357.16 237.57 357.88 235.32 358.59 237.43 359.31 237.04 360.02 240.16 360.74 239.06 361.45 240.46 362.17 239.19 362.89 240.56 363.6 238.08 364.32 239.25 365.04 238.44 365.75 241.16 366.47 240.4 367.19 243.01 367.9 242.84 368.62 245.88 369.34 245.64 370.05 248.69 370.77 247.2 371.49 247.92 372.2 245.05 372.92 245.27 373.64 241.93 374.35 241.05 375.07 238.81 375.78 241.44 376.5 240.78 377.21 243.8 377.93 243.69 378.64 245.97 379.36 245.19 380.08 247.54 380.79 246.43 381.51 248.78 382.23 246.66 382.94 247.67 383.66 246.15 384.38 248.69 385.09 248.41 385.81 250.43 386.53 248.94 387.24 250.39 387.96 248.99 388.68 249.59 389.39 246.07 390.11 246.62 390.83 244.55 391.54 245.91 392.26 244.08 392.97 246.01 393.69 244.3 394.4 246.57 395.12 245.32 395.83 247.01 396.55 245.97 397.27 248.53 397.98 247.01 398.7 249.25 399.43 247.01 400.17 248.33 400.85 245.96 401.71 245.96 402.57 242.42 403.25 244.75 403.99 245.35 404.72 248.79 405.44 247.83 406.15 251.04 406.87 250.91 407.59 252.51 408.3 250.04 409.02 251.28 409.74 250.48 410.45 252.61 411.17 251.84 411.88 254.52 412.6 254.31 413.31 256.48 414.03 255.06 414.74 255.47 415.46 253.67 416.18 254 416.89 250.99 417.61 251.9 418.33 249.4 419.04 251.38 419.76 251.01 420.48 252.58 421.19 250.89 421.91 252.3 422.63 251.74 423.34 252.75 424.06 250.81 424.78 250.97 425.49 249.66 426.21 250.53 426.93 249.49 427.64 250.52 428.36 247.93 429.07 249.67 429.79 248.72 430.5 250.01 431.22 248.46 431.93 249.57 432.65 246.81 433.37 247.85 434.08 246.93 434.8 248.76 435.52 247.29 436.23 247.61 436.95 245.81 437.67 246.6 438.38 243.64 439.1 244.65 439.82 242.02 440.53 241.42 441.25 238.79 441.97 239.35 442.68 237.01 443.4 237.08 444.12 235.6 444.83 236.77 445.55 235.48 446.26 236.75 446.98 235.8 447.69 238.63 448.41 238.03 449.12 238.96 449.84 236.77 450.56 238.17 451.27 237.15 451.99 239.33 452.71 238.54 453.42 240.99 454.14 239.4 454.86 240.73 455.57 240.04 456.29 241.36 457.01 239.89 457.72 241.48 458.44 238.98 459.16 240.06 459.87 238.02 460.59 239.69 461.31 237.66 462.02 237.87 462.74 235.38 463.45 236.59 464.17 234.44 464.88 236.38 465.6 234.35 466.31 235.27 467.03 233.9 467.75 234.3 468.46 232.58 469.18 232.46 469.9 230.9 470.61 233.36 471.33 233.06 472.05 235.6 472.76 235.11 473.48 237.24 474.2 235.67 474.91 238.06 475.63 235.79 476.31 236.73 476.98 234.81 477.78 236.66 478.37 234.97 479.04 236.31 479.74 234.55 480.41 234.98 481 233.67 481.8 235.87 482.47 234.81 483.15 236.97 483.87 236.18 484.58 238 485.3 236.4 486.02 237.13 486.73 234.89 487.45 234.83 488.17 232.47 488.88 233.31 489.6 232.33 490.31 233.97 491.03 232.51 491.74 233.56 492.46 231.85 493.17 232.88 493.89 230.28 494.61 230.54 495.32 228.33 496.04 228.97 496.76 227.07 497.47 227.71 498.19 226.93 498.91 228.94 499.62 227.16 500.34 228.12 501.06 225.77 501.77 227.25 502.49 225.7 503.21 228.01 503.92 226.55 504.64 226.85 505.36 223.69 506.07 224.33 506.79 220.77 507.5 221.49 508.22 218.21 508.93 219.05 509.65 217.06 510.36 219.06 511.08 218.61 511.8 221.06 512.51 220.82 513.23 222.09 513.95 220.19 514.66 221.61 515.38 220.12 516.1 222.5 516.81 220.89 517.53 223.21 518.25 223.38 518.96 225.27 519.68 223.54 520.4 224.71 521.11 222.24 521.83 223.2 522.55 221.31 523.26 222.42 523.98 219.47 524.69 220.04 525.41 217.26 526.12 218.46 526.84 216.38 527.55 217.68 528.27 216.41 528.99 218.99 529.7 218.53 530.42 220.33 531.14 219.07 531.85 221.49 532.57 219.79 533.29 220.71 534 217.76 534.72 217.72 535.44 215.07 536.15 214.55 536.87 211.35 537.59 210.66 538.3 207.2 539.02 208.01 539.74 206.09 540.45 206.77 541.17 205.44 541.88 207.72 542.6 207.16 543.31 209.55 544.03 208.45 544.74 211.46 545.46 210.75 546.18 213.23 546.89 211.6 547.61 213.36 548.33 211.41 549.04 211.13 549.76 209.5 550.48 211.73 551.19 211.07 551.91 212.77 552.63 212.74 553.34 216.17 554.06 215.73 554.78 218.61 555.49 218.38 556.21 221.31 556.93 221.64 557.64 224.92 558.36 224.84 559.07 226.72 559.79 225.43 560.5 226.75 561.22 225.23 561.93 226.38 562.65 223.55 563.37 224.14 564.08 221.26 564.8 222.96 565.52 222.53 566.23 226.03 566.95 225.79 567.67 230.56 568.38 232.19 569.1 234.52 569.82 232.03 570.53 231.12 571.25 229.14 571.97 230.1 572.68 228.08 573.4 228.79 574.12 227.06 574.83 229.93 575.55 229.24 576.26 231.8 576.98 230.92 577.69 232.44 578.41 231.15 579.12 232.32 579.84 231.43 580.56 233.75 581.27 232.11 581.99 232.3 582.71 229.06 583.42 228.91 584.14 226.07 584.86 226.43 585.57 223.85 586.29 225.04 587.01 223.18 587.72 225.77 588.44 224.93 589.16 227.49 589.87 228.31 590.59 230.93 591.31 229.47 592.02 230.3 592.74 228.07 593.45 228.31 594.17 225.82 594.88 227.9 595.6 225.99 596.31 228.53 597.03 228.23 597.75 231.3 598.46 230.8 599.18 233 599.9 233.54 600.61 236.26 601.33 235.7 602.05 238.76 602.76 238.55 603.48 240.84 604.2 240.19 604.91 243.26 605.63 241.43 606.37 243.78 607.11 242.25 607.78 244.31 608.66 244.62 609.28 246.27"/>
<path class="c" stroke="#fa3c3c" stroke-width="3.0" d="M353.58 243.5 354.14 243.93 354.93 241.19 355.73 241.82 356.45 239.05 357.16 239.58 357.88 238.07 358.59 240.77 359.31 240.94 360.02 243.81 360.74 243.62 361.45 245.33 362.17 244.44 362.89 247.21 363.6 246.58 364.32 249.25 365.04 247.53 365.75 248.95 366.47 248.23 367.2 252.18 367.94 254.33 368.62 257.67 369.48 255.24 370.34 253.47 371.02 250.22 371.76 249.23 372.49 245.84 373.21 246.3 373.92 243.46 374.64 244.34 375.36 243.28 376.07 245.28 376.79 243.64 377.5 245.02 378.22 242.41 378.93 243.67 379.65 241.58 380.36 242.79 381.08 240.91 381.8 242.87 382.51 239.92 383.23 241.01 383.95 239.97 384.66 241.89 385.38 241.66 386.1 243.47 386.81 243.56 387.53 246.33 388.25 244.99 388.96 245.73 389.68 243.51 390.4 244.83 391.11 243.59 391.83 246.43 392.55 246.3 393.26 248.82 393.98 248.28 394.69 249.48 395.41 247.69 396.12 249.2 396.84 248.26 397.55 251.26 398.27 251.03 398.99 253.17 399.7 253.15 400.42 255.28 401.14 255.4 401.85 257.98 402.57 256.98 403.29 257.04 404 254.68 404.72 255.9 405.44 253.28 406.15 254.2 406.87 252.25 407.59 253.12 408.3 250.37 409.02 249.67 409.74 247.17 410.45 248.71 411.17 247.37 411.88 248.47 412.6 246.54 413.31 247.53 414.03 245.03 414.74 245.81 415.46 244.67 416.18 245.78 416.89 244.19 417.61 245 418.33 242.94 419.04 244.63 419.76 242.79 420.48 244.65 421.19 242.88 421.91 245.3 422.63 244.53 423.34 245.91 424.06 244.05 424.78 244.34 425.49 243.3 426.21 245.01 426.93 242.84 427.64 244.43 428.36 241.73 429.07 243.4 429.79 241.15 430.5 242.27 431.22 241.39 431.93 243.87 432.65 242.17 433.37 244.32 434.08 242.83 434.8 244.87 435.52 243.43 436.23 245.08 436.95 243.83 437.67 244.71 438.38 242.45 439.1 243.71 439.82 241.56 440.53 242.25 441.25 239.7 441.97 239.8 442.68 237.79 443.4 238.64 444.12 237.26 444.83 238.85 445.55 238.23 446.26 241.22 446.98 240.92 447.69 243.22 448.41 241.94 449.12 244.33 449.84 244.31 450.56 245.92 451.27 242.86 451.99 243.86 452.71 242.38 453.42 242.77 454.14 241.37 454.86 242.07 455.57 240.64 456.29 241.07 457.01 239.66 457.72 240.46 458.44 238.91 459.16 239.73 459.87 237.72 460.59 238.75 461.31 237.39 462.02 238.96 462.74 236.75 463.45 238.06 464.17 236.31 464.88 237.18 465.6 235.77 466.31 237.48 467.03 236.17 467.75 236.74 468.46 234.59 469.18 235 469.9 233.62 470.61 236.02 471.33 234.71 472.05 236.92 472.76 236.99 473.48 239.25 474.2 238.82 474.91 241.1 475.63 240 476.31 242.11 476.98 239.74 477.78 240.71 478.37 239.19 479.04 241.09 479.74 240.22 480.41 241.97 481 240.4 481.8 241.36 482.47 241.09 483.15 243.4 483.87 243.64 484.58 246.05 485.3 243.9 486.02 243.12 486.73 240.01 487.45 239.61 488.17 237.78 488.88 239.52 489.6 237.65 490.31 239.57 491.03 237.97 491.74 240.37 492.46 238.7 493.17 239.25 493.89 237.05 494.61 238.57 495.32 235.92 496.04 237.04 496.76 234.99 497.47 235.7 498.19 234.49 498.91 235.3 499.62 232.63 500.34 232.76 501.06 230.86 501.77 231.58 502.49 230.37 503.21 231.47 503.92 230.37 504.64 230.44 505.36 226.68 506.07 226.09 506.79 222.71 507.5 222.23 508.22 217.99 508.93 218.82 509.65 217.38 510.36 218.73 511.08 216.02 511.8 217.14 512.51 216.67 513.23 218.91 513.95 218.39 514.66 220.76 515.38 219.7 516.1 220.87 516.81 218.79 517.53 219.65 518.25 218.41 518.96 220.23 519.68 218.6 520.4 221.36 521.11 220.68 521.83 222.22 522.55 220.66 523.26 221.19 523.98 218.68 524.69 219.36 525.41 216.64 526.12 218.02 526.84 216.56 527.55 218.77 528.27 218.61 528.99 220.03 529.7 218.36 530.42 220.26 531.14 218.91 531.85 220.86 532.57 220.02 533.29 220.72 534 217.51 534.72 217.27 535.44 214.94 536.15 214.09 536.87 211.05 537.59 210.72 538.3 208.8 539.02 209.51 539.74 207.69 540.45 208.94 541.17 207.96 541.88 210.94 542.6 209.99 543.31 212.57 544.03 211.42 544.74 213.27 545.46 212.27 546.18 212.57 546.89 209.53 547.61 209.95 548.34 206.39 549.08 206.44 549.76 203.87 550.65 206.42 551.48 206.34 552.33 211.18 553.2 212.68 553.82 216.13 554.46 215.79 555.13 219.12 555.83 218.76 556.56 221.07 557.28 221.01 558 223.55 558.71 222.89 559.43 226.1 560.15 226.5 560.86 228.58 561.58 225.68 562.3 226.12 563.01 223.45 563.73 223.35 564.45 220.99 565.16 219.79 565.88 217.67 566.59 219.25 567.31 219.09 568.02 221.37 568.74 221.87 569.45 225.84 570.17 226.21 570.89 226.88 571.6 222.92 572.32 222.89 573.04 220.19 573.75 221.73 574.47 220.02 575.19 222.47 575.9 222.62 576.62 226.07 577.34 227.09 578.05 229.86 578.77 228.86 579.49 229.52 580.2 227.31 580.92 227.6 581.64 224.85 582.35 225.89 583.07 224 583.78 223.93 584.5 221.69 585.21 222.7 585.93 221.38 586.64 222.97 587.36 221.37 588.08 223.75 588.79 224.99 589.51 227.41 590.23 226.6 590.94 226.48 591.66 225.08 592.38 225.27 593.09 223.61 593.81 224.93 594.53 224.52 595.24 227.04 595.96 226.71 596.68 230.05 597.39 229.23 598.11 232.5 598.83 232.13 599.54 235.39 600.26 235.68 600.97 238.56 601.69 237.76 602.4 240.94 603.12 240.27 603.83 242.2 604.55 241.23 605.25 243.42 605.95 241.74 606.7 242.86 607.38 242.06 608.12 244.55 608.81 244.18 609.28 246.12"/>
<path class="c" stroke="#00dc00" stroke-width="2.6" d="M353.58 236.86 354.33 234.64 355.3 231.41 356.17 229.25 357.02 227.16 357.78 228.11 358.52 229.63 359.26 233.37 360.02 236.46 360.84 239.32 361.74 240.68 362.42 241.14 363.16 240.34 363.89 240.44 364.61 241.36 365.32 243.6 366.04 245.35 366.76 247.45 367.47 248.97 368.19 251.01 368.91 252.42 369.62 254.27 370.34 254.25 371.06 253.5 371.77 251.41 372.49 249.98 373.21 247.83 373.92 246.41 374.64 245.17 375.36 245.68 376.07 245.77 376.79 246.98 377.5 247.84 378.22 249.42 378.93 249.93 379.65 251.05 380.36 250.87 381.08 251.29 381.8 250.39 382.51 249.54 383.23 247.68 383.95 246.59 384.66 244.96 385.38 245.24 386.1 245.75 386.81 247.7 387.53 248.53 388.25 249.07 388.96 248.39 389.68 248.04 390.4 247.2 391.11 246.78 391.83 245.55 392.56 244.33 393.3 242.4 393.98 241.44 394.88 240.16 395.69 240.65 396.42 242.72 397.2 246.04 397.87 247.34 398.61 248.87 399.35 249.26 400.07 250.37 400.78 250.55 401.5 251.62 402.21 252.33 402.93 253.84 403.64 254.62 404.36 255.86 405.07 256.2 405.79 256.99 406.51 257.05 407.22 258.12 407.94 257.8 408.66 257.41 409.37 255.79 410.09 254.85 410.81 253.57 411.52 252.8 412.24 251.66 412.96 251.35 413.67 249.89 414.39 249.9 415.11 250.35 415.82 252.03 416.54 253.1 417.26 254.29 417.97 254.65 418.69 255.49 419.4 255.63 420.12 256.47 420.83 256.51 421.55 256.7 422.26 255.61 422.98 254.93 423.7 253.64 424.41 253.45 425.13 252.89 425.85 253.32 426.56 252.39 427.28 251.8 428 250.45 428.71 250.03 429.43 249.34 430.15 249.74 430.86 249.84 431.58 250.94 432.3 251.21 433.01 252.5 433.73 252.46 434.45 252.54 435.16 252.08 435.88 251.8 436.59 250.19 437.31 249.2 438.02 247.18 438.74 246.15 439.45 244.41 440.17 243.37 440.89 241.46 441.6 240.17 442.32 238.76 443.04 239.47 443.75 240.48 444.47 242.65 445.19 244.42 445.9 247.34 446.62 248.84 447.34 250.34 448.05 250.62 448.77 251.19 449.49 250.13 450.2 249.19 450.92 247.93 451.64 247.09 452.35 245.38 453.07 244.51 453.78 243.45 454.5 243.58 455.21 243.26 455.93 243.47 456.64 242.54 457.36 242.36 458.08 241.29 458.79 240.95 459.51 240.1 460.23 239.84 460.94 238.6 461.66 238.03 462.38 236.36 463.09 235.8 463.81 234.45 464.53 233.61 465.24 232.31 465.96 231.81 466.68 230.41 467.39 229.83 468.11 228.5 468.83 228.4 469.54 227.35 470.26 227.83 470.97 228.56 471.69 230.1 472.4 230.98 473.12 233.06 473.83 234.59 474.55 236.47 475.27 236.88 475.98 237.95 476.7 237.8 477.42 237.88 478.13 236.59 478.85 236.23 479.57 235.29 480.28 235.01 481 234.12 481.72 234.66 482.43 235.16 483.15 235.81 483.88 234.67 484.62 233.54 485.3 231.73 486.19 229.38 487.02 227.12 487.87 229.3 488.74 232.03 489.36 235.12 490 237.82 490.67 240.44 491.37 240.88 492.1 241.51 492.82 240.69 493.54 240.55 494.25 239.15 494.97 238.32 495.69 236.78 496.4 236.17 497.12 234.66 497.83 233.82 498.55 232.12 499.26 231.28 499.98 230.2 500.69 230.3 501.41 229.43 502.13 229.26 502.84 228.29 503.56 227.89 504.28 226.42 504.99 225.38 505.71 223.84 506.43 223.16 507.14 221.67 507.86 221.14 508.58 219.75 509.29 218.9 510.01 218.07 510.73 218.77 511.44 219.54 512.16 220.37 512.88 219.85 513.59 219.93 514.31 218.86 515.02 218.33 515.74 216.43 516.45 215.6 517.17 214.13 517.88 213.27 518.6 211.87 519.32 211.07 520.03 209.41 520.75 208.77 521.48 207.81 522.22 207.77 522.9 207.17 523.8 208.31 524.62 209.82 525.37 213.55 526.12 216.33 526.97 218.74 527.84 219.01 528.69 217.49 529.56 214.31 530.2 213.01 530.86 210.65 531.5 209.51 532.36 207.69 533.21 207.39 533.83 207.5 534.48 208.87 535.15 209.84 535.85 211.26 536.58 211.95 537.3 213.15 538.02 213.72 538.73 214.64 539.45 215.08 540.17 216.07 540.88 216.58 541.6 217.56 542.31 217.71 543.03 218.59 543.74 219.37 544.47 221.18 545.2 222.47 545.89 223.25 546.78 222.2 547.61 220.96 548.47 217.96 549.33 215.69 550.18 213.76 551.05 213.59 551.67 213.59 552.31 215.24 552.98 216.23 553.68 218.49 554.41 220.19 555.13 222.21 555.85 223.02 556.56 224.84 557.28 225.31 558 225.75 558.71 224.35 559.43 223.9 560.15 222.14 560.86 220.7 561.58 218.46 562.31 217.15 563.05 215.51 563.73 215.23 564.63 214.22 565.45 214.82 566.2 216.36 566.95 219.89 567.8 223.63 568.67 228.35 569.52 231.5 570.39 234.51 571.01 235.36 571.65 236.38 572.32 236.11 573.02 236.61 573.75 235.96 574.47 235.5 575.19 233.27 575.9 231.35 576.62 228.68 577.34 227.1 578.05 224.95 578.77 223.9 579.49 222.93 580.2 222.74 580.92 222.26 581.64 222.48 582.35 222.25 583.07 222.53 583.78 221.07 584.5 219.89 585.21 218.17 585.94 217.28 586.67 215.47 587.36 214.74 588.26 213.22 589.08 213.23 589.84 213.34 590.59 215.39 591.44 218.49 592.31 222.3 593.15 224.04 594.02 225.68 594.64 225.16 595.29 224.79 595.96 223.55 596.66 223.3 597.39 222.6 598.11 223.28 598.83 223.61 599.54 224.66 600.26 225.35 600.97 227.13 601.69 228.43 602.4 230.65 603.13 232.53 603.86 235.85 604.55 238.65 605.45 243.52 606.27 247.22 607.04 250.51 607.78 251.52 608.62 249.35 609.28 245.87"/>
</g>
<rect x="353.45" y="182.3" width="255.55" height="104.7" fill="none" stroke="#000" stroke-width="1.65"/>
<path d="M350.15 189.78H353.45" stroke="#000" stroke-width="1.1"/>
<text class="t" x="347.95" y="194.08" text-anchor="end">30</text>
<path d="M350.15 204.74H353.45" stroke="#000" stroke-width="1.1"/>
<text class="t" x="347.95" y="209.04" text-anchor="end">20</text>
<path d="M350.15 219.69H353.45" stroke="#000" stroke-width="1.1"/>
<text class="t" x="347.95" y="223.99" text-anchor="end">10</text>
<path d="M350.15 234.65H353.45" stroke="#000" stroke-width="1.1"/>
<text class="t" x="347.95" y="238.95" text-anchor="end">0</text>
<path d="M350.15 249.61H353.45" stroke="#000" stroke-width="1.1"/>
<text class="t" x="347.95" y="253.91" text-anchor="end">−<tspan dx="0.9">10</tspan></text>
<path d="M350.15 264.56H353.45" stroke="#000" stroke-width="1.1"/>
<text class="t" x="347.95" y="268.86" text-anchor="end">−<tspan dx="0.9">20</tspan></text>
<path d="M350.15 279.52H353.45" stroke="#000" stroke-width="1.1"/>
<text class="t" x="347.95" y="283.82" text-anchor="end">−<tspan dx="0.9">30</tspan></text>
<path d="M353.45 287V290" stroke="#000" stroke-width="1.1"/>
<text class="t" x="353.75" y="299.4" text-anchor="middle" textLength="15.6" lengthAdjust="spacingAndGlyphs">JAN</text>
<path d="M375.15 287V290" stroke="#000" stroke-width="1.1"/>
<text class="t" x="375.45" y="299.4" text-anchor="middle" textLength="15.7" lengthAdjust="spacingAndGlyphs">FEB</text>
<path d="M394.76 287V290" stroke="#000" stroke-width="1.1"/>
<text class="t" x="395.06" y="299.4" text-anchor="middle" textLength="16.4" lengthAdjust="spacingAndGlyphs">MAR</text>
<path d="M416.46 287V290" stroke="#000" stroke-width="1.1"/>
<text class="t" x="416.76" y="299.4" text-anchor="middle" textLength="16.4" lengthAdjust="spacingAndGlyphs">APR</text>
<path d="M437.47 287V290" stroke="#000" stroke-width="1.1"/>
<text class="t" x="437.77" y="299.4" text-anchor="middle" textLength="16.4" lengthAdjust="spacingAndGlyphs">MAY</text>
<path d="M459.17 287V290" stroke="#000" stroke-width="1.1"/>
<text class="t" x="459.47" y="299.4" text-anchor="middle" textLength="16.4" lengthAdjust="spacingAndGlyphs">JUN</text>
<path d="M480.17 287V290" stroke="#000" stroke-width="1.1"/>
<text class="t" x="480.47" y="299.4" text-anchor="middle" textLength="13.9" lengthAdjust="spacingAndGlyphs">JUL</text>
<path d="M501.88 287V290" stroke="#000" stroke-width="1.1"/>
<text class="t" x="502.18" y="299.4" text-anchor="middle" textLength="16.9" lengthAdjust="spacingAndGlyphs">AUG</text>
<path d="M523.58 287V290" stroke="#000" stroke-width="1.1"/>
<text class="t" x="523.88" y="299.4" text-anchor="middle" textLength="16" lengthAdjust="spacingAndGlyphs">SEP</text>
<path d="M544.59 287V290" stroke="#000" stroke-width="1.1"/>
<text class="t" x="544.89" y="299.4" text-anchor="middle" textLength="15.5" lengthAdjust="spacingAndGlyphs">OCT</text>
<path d="M566.29 287V290" stroke="#000" stroke-width="1.1"/>
<text class="t" x="566.59" y="299.4" text-anchor="middle" textLength="17.2" lengthAdjust="spacingAndGlyphs">NOV</text>
<path d="M587.3 287V290" stroke="#000" stroke-width="1.1"/>
<text class="t" x="587.6" y="299.4" text-anchor="middle" textLength="16.4" lengthAdjust="spacingAndGlyphs">DEC</text>
<text class="t" x="353.25" y="309.7" text-anchor="middle" textLength="22.1" lengthAdjust="spacingAndGlyphs">2009</text>
<text class="u" transform="translate(322.45 235.95) rotate(-90)" text-anchor="middle">(cm)</text>
<text class="v" x="504.85" y="282.32" text-anchor="middle" fill="#00dc00" textLength="27.4" lengthAdjust="spacingAndGlyphs">6.944</text>
<text class="v" x="545.85" y="282.32" text-anchor="middle" fill="#fa3c3c" textLength="27.4" lengthAdjust="spacingAndGlyphs">6.987</text>
<text class="v" x="586.65" y="282.32" text-anchor="middle" fill="#1e3cff" textLength="27.4" lengthAdjust="spacingAndGlyphs">6.361</text>
</g>
<g id="panel-f">
<text class="p" x="323.85" y="332.6" textLength="16.5" lengthAdjust="spacing">(f)</text>
<path class="g" d="M358.45 348.3H609"/>
<path class="g" d="M358.45 363.3H609"/>
<path class="g" d="M358.45 378.3H609"/>
<path class="g" d="M358.45 393.3H609"/>
<path class="g" d="M358.45 408.3H609"/>
<path class="g" d="M358.45 423.3H609"/>
<path class="g" d="M358.45 438.3H609"/>
<path class="g" d="M375.15 343.35V445.8"/>
<path class="g" d="M394.76 343.35V445.8"/>
<path class="g" d="M416.46 343.35V445.8"/>
<path class="g" d="M437.47 343.35V445.8"/>
<path class="g" d="M459.17 343.35V445.8"/>
<path class="g" d="M480.17 343.35V445.8"/>
<path class="g" d="M501.88 343.35V445.8"/>
<path class="g" d="M523.58 343.35V445.8"/>
<path class="g" d="M544.59 343.35V445.8"/>
<path class="g" d="M566.29 343.35V445.8"/>
<path class="g" d="M587.3 343.35V445.8"/>
<clipPath id="cp-f"><rect x="353.45" y="340.8" width="257.05" height="105"/></clipPath>
<g clip-path="url(#cp-f)">
<path class="c" stroke="#7f7f7f" stroke-width="4.0" d="M353.58 386.14 354.33 384.74 355.3 381.51 356.16 386.21 357.02 387.8 357.87 393.08 358.74 394.2 359.38 395.41 360.05 392.43 360.67 392.04 361.43 387.73 362.17 388.16 363.02 390.91 363.89 398.7 364.72 403.26 365.61 409.95 366.29 411.61 367.03 414.93 367.76 414.02 368.49 415.21 369.23 411.21 369.91 409.23 370.8 401.82 371.63 397.13 372.49 389.35 373.35 387.74 374.21 388.87 375.07 394.93 375.93 397.46 376.79 401.35 377.66 393.14 378.5 386.25 379.25 381.91 380.01 383.05 380.84 383.93 381.73 389.95 382.35 392.96 382.99 398.81 383.66 400.53 384.36 403.59 385.09 403.09 385.81 404.4 386.53 401.02 387.24 399.25 387.96 394.63 388.68 393.42 389.39 390.88 390.11 393.72 390.83 394.61 391.54 401.01 392.26 404.33 392.97 411.74 393.69 414.42 394.4 420.06 395.12 419.3 395.83 421.82 396.55 421.08 397.27 424.02 397.98 423 398.7 427.1 399.42 428.62 400.13 432.63 400.85 431.49 401.57 432.09 402.28 427.39 403 426.67 403.72 422.29 404.43 422.6 405.15 421.17 405.87 426.16 406.58 428.98 407.3 433.99 408.02 431.33 408.73 428.93 409.45 424.21 410.17 424.68 410.88 424.97 411.6 426.21 412.31 423.81 413.03 423.77 413.74 419.75 414.46 419.11 415.17 413.84 415.89 414.69 416.61 413.64 417.32 416.23 418.04 415.82 418.76 418.29 419.47 417.99 420.19 420.38 420.91 419.93 421.62 423.44 422.34 422.42 423.06 425.71 423.77 426.25 424.49 427.13 425.21 422.94 425.92 419.52 426.64 414.44 427.36 416.05 428.07 415.65 428.79 418.89 429.5 418.9 430.22 423.49 430.93 423.72 431.65 423.15 432.36 416.5 433.08 415 433.8 410.53 434.51 409.83 435.23 406.31 435.95 406.06 436.66 404.57 437.38 406.1 438.1 405.26 438.81 407.27 439.53 406.9 440.25 409.87 440.96 409.75 441.68 412.05 442.4 409.81 443.11 411.17 443.83 408.66 444.55 409.42 445.26 406.64 445.98 406.89 446.69 404.07 447.41 405.52 448.12 403.44 448.84 406.87 449.55 406.68 450.27 409.2 451 409.74 451.74 413.89 452.42 413.8 453.35 412.47 454.14 405.55 454.69 401.44 455.21 395.88 455.9 400.33 456.72 402.88 457.39 408.21 458.13 411.02 458.87 415.21 459.59 414.21 460.3 414.1 461.02 411.14 461.74 412.4 462.45 408.83 463.17 409.96 463.88 407.69 464.6 408.86 465.31 406.46 466.03 407.49 466.74 405.31 467.46 405.38 468.18 402.08 468.89 400.32 469.61 396.94 470.33 399.73 471.04 400.21 471.76 403.33 472.48 402.79 473.19 405.71 473.91 403.37 474.63 403.69 475.34 399.4 476.06 398.93 476.75 396.93 477.45 397.61 478.21 395.5 478.88 396.34 479.61 395.5 480.33 396.8 481 396.08 481.76 399.76 482.46 400.84 483.15 404.29 483.87 400.87 484.58 399.15 485.3 394.99 486.02 394.47 486.73 390.47 487.45 391.13 488.17 390.47 488.88 394.17 489.6 394.54 490.31 395.66 491.03 392.84 491.74 392.91 492.46 389.7 493.17 389.67 493.89 386.12 494.61 385.42 495.32 381.5 496.04 381.32 496.76 380.73 497.47 384.23 498.19 384.45 498.91 386.56 499.62 385.46 500.34 386.23 501.06 382.74 501.77 382.54 502.49 378.62 503.21 381.08 503.92 380.67 504.64 382.79 505.36 381.24 506.07 383.43 506.79 382.18 507.5 383.64 508.22 381.17 508.93 382.06 509.65 380.87 510.36 383.11 511.08 382.16 511.8 385.34 512.51 385.09 513.23 388.06 513.95 385.53 514.66 385.03 515.38 381.29 516.1 380.08 516.81 376 517.53 376.01 518.25 373.41 518.96 374.83 519.68 373.04 520.4 373.97 521.11 371.64 521.83 370.8 522.55 366.53 523.26 364.98 523.98 360.17 524.69 359.33 525.41 355.33 526.12 355.34 526.85 351.87 527.58 351.42 528.27 348.42 529.16 346.54 529.99 341.99 530.85 342.63 531.71 341.11 532.57 345.2 533.43 349.65 534.29 358.9 535.15 367.29 536.01 376.59 536.87 382.62 537.73 389.97 538.59 393.88 539.45 398.45 540.31 398.47 541.16 397.97 542.02 391.24 542.88 385.02 543.74 374.8 544.57 369.79 545.46 362.27 546.14 361.93 546.88 359.57 547.61 361.84 548.33 362.19 549.04 367.45 549.76 367.79 550.48 368.51 551.19 364.2 551.91 363.48 552.63 362.24 553.34 364.99 554.06 366.44 554.78 370.03 555.49 371.84 556.21 376.23 556.93 376.41 557.64 380.7 558.36 379.35 559.09 379.92 559.82 374.4 560.5 373.64 561.39 368.16 562.22 366.79 563.08 369.1 563.94 376.75 564.8 382.37 565.66 388.44 566.52 380.07 567.38 372.68 568.21 364.65 569.1 361.69 569.78 359.14 570.52 360.77 571.25 358.79 571.98 357.77 572.72 354.86 573.4 356.11 574.29 359.12 575.12 368.21 575.96 375.63 576.83 383.59 577.45 381.04 578.1 379.92 578.77 375.55 579.47 376.39 580.2 373.62 580.92 375.58 581.64 374.64 582.35 377.1 583.07 376.13 583.78 379.5 584.5 380.36 585.21 383.13 585.94 380.67 586.67 381.03 587.36 377.52 588.23 374.67 589.08 370.42 589.7 373.3 590.35 375.03 591.02 378.86 591.74 379.09 592.48 382.89 593.17 383.48 594.05 392.38 594.88 397.99 595.74 405.26 596.6 406.57 597.43 403.32 598.32 394.93 599.01 391.26 599.75 383.62 600.47 383.15 601.12 383.06 601.75 390.21 602.4 393.64 603.12 399.51 603.86 402.25 604.55 405.98 605.36 399.59 606.27 395.32 607 392.18 607.88 393.42 608.71 390.42 609.28 392.05"/>
<path class="c" stroke="#1e3cff" stroke-width="3.0" d="M353.58 386.73 354.33 389.39 355.3 387.35 356.16 391.81 357.02 392.38 357.87 398.15 358.74 397.43 359.36 401.71 360 400.01 360.67 402.62 361.37 399.67 362.1 402.03 362.82 397.64 363.54 400.24 364.25 396.67 364.97 397.97 365.69 396.27 366.4 401.91 367.12 400.07 367.83 403.47 368.55 402.62 369.26 405.2 369.98 402.38 370.69 401.83 371.41 397.57 372.13 400.77 372.84 398.31 373.56 401.34 374.28 398.8 374.99 399.86 375.71 396.5 376.45 398.89 377.19 394.46 377.86 397.41 378.64 390.6 379.36 391.61 380.18 392.65 381.08 400.28 381.76 401.61 382.5 408.32 383.23 408.52 383.95 412.85 384.66 412.34 385.38 415.06 386.1 410.06 386.81 410.04 387.53 406.78 388.25 408.03 388.96 403.93 389.68 406.37 390.4 404.66 391.11 408.38 391.83 408.33 392.55 411.89 393.26 411.22 393.98 416.14 394.69 414.75 395.41 417.37 396.12 414.31 396.84 416.04 397.55 415.09 398.27 418.12 398.99 417.56 399.7 420.87 400.42 420.7 401.14 422.34 401.85 419.98 402.57 421.25 403.3 416.45 404.04 418 404.72 411.58 405.61 409.51 406.44 403 407.29 401.14 408.16 398.49 408.78 403.27 409.42 403.16 410.09 408.9 410.79 408.82 411.52 413.77 412.24 411.66 413 413.78 413.75 408.87 414.39 410.25 414.95 403.88 415.46 404.29 416.25 404.41 417.18 411.54 417.86 409.79 418.6 415.01 419.33 412.87 420.05 415.9 420.76 413.98 421.48 416.37 422.2 413.96 422.91 416.91 423.63 415.34 424.35 419.73 425.06 418.44 425.78 421.06 426.5 417.42 427.21 417.66 427.93 413.11 428.64 413.87 429.36 409.78 430.07 412.77 430.79 411.19 431.5 416.19 432.22 414.19 432.94 414.5 433.65 410.19 434.37 410.42 435.09 405.49 435.8 407.34 436.52 403.77 437.24 404.86 437.95 401.77 438.67 402.14 439.39 399.64 440.1 401.41 440.82 398.45 441.54 400.08 442.25 397.99 442.97 401.8 443.69 402.29 444.4 406.64 445.12 405.93 445.83 409.8 446.55 405.25 447.26 408.61 447.98 405.31 448.69 406.01 449.41 402.75 450.13 405.96 450.84 405.72 451.56 408.34 452.28 406.11 452.99 409.23 453.71 406.17 454.43 409.23 455.14 408.5 455.86 412.84 456.58 411.01 457.29 414.52 458.01 410.78 458.73 413.52 459.44 408.88 460.16 409.51 460.88 405.72 461.59 407.66 462.31 404.98 463.02 406.23 463.74 403.2 464.45 405.7 465.17 401.43 465.88 403.67 466.6 399.35 467.32 400.91 468.03 397.86 468.75 401.31 469.47 398.79 470.18 404.11 470.9 401.74 471.62 407.18 472.33 405.71 473.05 409.15 473.75 406.15 474.45 409.01 475.2 406.22 475.8 407.99 476.42 404.23 477.08 405.97 477.78 402.64 478.4 407.49 479.07 405.27 479.76 407.42 480.41 404.23 481 405.49 481.8 402.36 482.47 405.04 483.15 401.43 483.87 404.41 484.58 401.94 485.3 404.17 486.02 400.35 486.73 404.4 487.45 401.53 488.17 402.34 488.88 398.58 489.6 400.35 490.31 397 491.03 399.37 491.74 395.43 492.46 397.02 493.17 390.98 493.89 393.26 494.61 390.54 495.32 391.81 496.04 390.08 496.76 392.59 497.47 389.55 498.19 392.18 498.91 389.03 499.62 390.16 500.34 386.86 501.06 389.76 501.77 388.07 502.49 391.22 503.21 386.75 503.92 389.28 504.64 385.4 505.36 385.98 506.07 381.53 506.79 381.45 507.5 375.8 508.22 374.73 508.93 370.56 509.65 372.19 510.36 370.68 511.08 374.66 511.8 372.57 512.51 377.63 513.23 375.48 513.95 377.94 514.66 375.35 515.38 376.17 516.1 373.55 516.81 375.04 517.53 370.18 518.25 372.6 518.96 370.68 519.68 374.16 520.4 369.91 521.11 371.29 521.83 366.23 522.55 366.41 523.26 362.27 523.98 362.94 524.69 359.32 525.41 361.33 526.12 357.99 526.84 360.6 527.55 358.35 528.27 363.29 528.99 361.16 529.7 364.62 530.42 363.99 531.14 367.44 531.85 366.64 532.57 370.14 533.29 370.88 534 375.71 534.72 374.92 535.44 377.86 536.15 376.17 536.87 379.18 537.59 377.86 538.3 380.12 539.02 378.9 539.74 382.3 540.45 379.06 541.17 382.76 541.9 379.68 542.63 382.02 543.31 377.75 544.2 379.25 545.03 372.87 545.88 373.82 546.75 367.16 547.37 367.82 548.02 364.03 548.69 366.41 549.39 364.19 550.11 366.95 550.83 362.8 551.55 364.89 552.26 361.27 552.98 364.66 553.7 363.01 554.41 367.64 555.13 366.54 555.85 370.15 556.56 368.66 557.28 374.44 558 374.37 558.71 377.66 559.43 376.47 560.15 380.23 560.86 378.1 561.58 382.02 562.3 380.09 563.01 383.01 563.73 380.14 564.45 382.32 565.16 378.71 565.88 379.02 566.59 375.48 567.31 375.79 568.02 372.2 568.74 374.54 569.45 370.37 570.17 373.07 570.89 368.14 571.6 369.61 572.32 366.68 573.04 369.87 573.75 365.96 574.47 367.8 575.19 365.59 575.9 369.17 576.62 368.57 577.34 372.62 578.05 373.38 578.77 376.66 579.49 374.35 580.2 376.33 580.92 373.96 581.64 376.35 582.35 373.43 583.07 376.03 583.78 374.69 584.5 377.16 585.21 375.66 585.93 379.35 586.64 375.85 587.36 378.11 588.08 374.59 588.79 375.59 589.51 372.34 590.23 375.77 590.94 373.44 591.66 377.85 592.38 376.33 593.09 381.7 593.81 381.11 594.53 384.2 595.24 383.99 595.96 387.25 596.68 383.53 597.39 385.41 598.11 381.17 598.83 383.26 599.54 378.11 600.26 380.97 600.97 378.09 601.69 381.31 602.4 380.01 603.12 384.59 603.83 385.06 604.55 389.54 605.25 387.98 605.95 390.97 606.7 389.44 607.38 393.2 608.12 390.77 608.81 393.48 609.28 391.49"/>
<path class="c" stroke="#fa3c3c" stroke-width="3.0" d="M353.58 394.25 354.33 394.92 355.3 390.21 356.16 393.47 357.02 392.48 357.87 397.07 358.74 398.25 359.36 403.35 360 402.49 360.67 406.04 361.37 402.44 362.1 404.77 362.82 399.73 363.54 401.21 364.25 397.05 364.97 400.02 365.69 397.92 366.4 404.5 367.12 403.57 367.83 406.7 368.55 403.59 369.26 406.08 369.98 403.37 370.69 404.43 371.41 401.51 372.13 403.96 372.84 401.26 373.56 404.33 374.28 401.31 374.99 400.96 375.71 397.83 376.45 399.32 377.19 396.43 377.86 398.85 378.64 392.56 379.36 392.74 380.18 394.06 381.08 400.46 381.76 400.71 382.5 404.86 383.23 404.13 383.95 407.38 384.66 402.65 385.38 405.79 386.1 404.03 386.81 409.99 387.53 407.19 388.25 408.92 388.96 403.23 389.68 405.49 390.4 402.97 391.11 407.08 391.83 406.55 392.55 411.63 393.26 411.67 393.98 414.57 394.69 412.33 395.41 413.16 396.12 410.29 396.84 413.74 397.55 412.1 398.27 415.43 398.99 414.93 399.7 418.15 400.42 415.87 401.14 417.11 401.85 412.86 402.57 414.77 403.29 410.73 404 411.81 404.72 407.85 405.44 411.5 406.15 410.34 406.87 413.59 407.59 410.25 408.3 409.71 409.02 406.57 409.74 409.39 410.45 409.61 411.17 413.15 411.88 412 412.6 416.64 413.31 413.54 414.03 413.25 414.74 407.21 415.46 409.87 416.18 407.26 416.89 412.81 417.61 410.95 418.33 413.16 419.04 410.02 419.76 411.98 420.48 409.73 421.19 412.83 421.91 411.18 422.63 413.49 423.34 409.68 424.06 409.71 424.78 405.97 425.49 406.67 426.21 404.82 426.93 406.09 427.64 403.2 428.36 404.93 429.07 404.37 429.79 408.85 430.5 408.57 431.22 411.22 431.93 409.76 432.65 412.28 433.37 408.66 434.08 410.27 434.8 405.26 435.52 407.74 436.23 404.85 436.95 406.36 437.67 403.89 438.38 406.26 439.1 404.35 439.82 405.72 440.53 402.15 441.25 404.96 441.97 400.61 442.68 402.86 443.4 399.37 444.12 404.1 444.83 402.79 445.55 407.06 446.26 405.14 446.98 407.7 447.69 405.56 448.41 407.13 449.12 402.97 449.84 404.99 450.56 403.09 451.27 406.5 451.99 405.32 452.71 408.83 453.42 406.62 454.14 407.64 454.86 405.58 455.57 408.69 456.29 407.41 457.01 410.22 457.72 408.86 458.44 412.49 459.16 408.72 459.87 410.27 460.59 405.48 461.31 406.26 462.02 403.38 462.74 404.5 463.45 403.44 464.17 406.29 464.88 403.88 465.6 404.91 466.31 401.31 467.03 403.22 467.75 400.75 468.46 402.95 469.18 402.05 469.9 406.66 470.61 403.92 471.33 406.33 472.05 402.22 472.76 404.69 473.48 401.15 474.2 404.74 474.91 402.45 475.63 405.41 476.31 401 476.98 403.96 477.78 402.84 478.37 404.46 479.04 402.6 479.74 404.23 480.41 402.43 481 405 481.8 401.79 482.47 404.14 483.15 401.09 483.87 402.86 484.58 399.67 485.3 399.97 486.02 396.54 486.73 399.16 487.45 396.06 488.17 398.31 488.88 395.93 489.6 399.44 490.31 395.66 491.03 395.9 491.74 391.96 492.46 393.26 493.17 390.31 493.89 391.98 494.61 388.53 495.32 391.5 496.04 387.75 496.76 390.24 497.47 386.4 498.19 387.43 498.91 385.62 499.62 390.88 500.34 389.17 501.06 390.33 501.77 386.59 502.49 388.2 503.21 385.02 503.92 389.15 504.64 385.5 505.36 387.12 506.07 382.65 506.79 384.11 507.5 378.05 508.22 377.88 508.93 374.34 509.65 377.54 510.36 378.16 511.08 382.59 511.8 381.7 512.51 384.08 513.23 381.48 513.95 382.4 514.66 378.6 515.38 379.41 516.1 374.35 516.81 376.35 517.53 372.53 518.25 376.32 518.96 373.81 519.68 375.78 520.4 372.33 521.11 372.61 521.83 368.79 522.55 368.77 523.26 363.07 523.98 364.55 524.69 359.17 525.41 362.08 526.12 357.53 526.84 358.79 527.55 354.31 528.27 356.38 528.99 355.19 529.7 360.55 530.42 359.87 531.14 366.07 531.85 367.79 532.57 374.24 533.29 372.94 534 377.51 534.72 375.76 535.44 379.25 536.15 377.25 536.87 382.7 537.59 380.53 538.3 385.93 539.02 384.14 539.74 387.8 540.45 387.62 541.17 391.43 541.9 388.19 542.63 390.26 543.31 386.69 544.2 385.68 545.03 377 545.88 374.8 546.75 368.15 547.37 368.11 548.02 363.34 548.69 366.47 549.39 364.32 550.11 367.79 550.83 365.65 551.55 368.39 552.26 364.23 552.98 367.52 553.7 365.04 554.41 368.96 555.13 367.06 555.85 370.98 556.56 369.62 557.28 372.96 558 368.61 558.71 370.97 559.43 366.11 560.15 368.07 560.86 363.83 561.58 365.02 562.3 365.29 563.01 371.24 563.73 371.08 564.45 375.75 565.16 375.28 565.88 379.68 566.59 378.45 567.31 379.07 568.02 375.04 568.74 376.38 569.45 373.43 570.17 374.17 570.89 370.72 571.6 372.53 572.32 368.45 573.04 369.79 573.75 366.22 574.47 367.49 575.19 367.23 575.9 370.34 576.62 369.27 577.34 374.29 578.05 372.67 578.77 377.43 579.49 373.78 580.2 376.62 580.92 374.47 581.64 377.94 582.35 375.7 583.07 379.31 583.78 377.49 584.5 380.97 585.21 378.31 585.93 382.05 586.64 380.91 587.36 382.93 588.08 380.09 588.79 381.43 589.51 377.44 590.23 380.53 590.94 379.31 591.66 383.96 592.38 382.91 593.09 386.66 593.81 384.96 594.53 388.52 595.24 386.58 595.96 390 596.68 386.09 597.39 388.13 598.11 384.92 598.83 388.95 599.54 387.62 600.26 389.95 600.97 387.76 601.69 391.58 602.4 390.26 603.12 395.88 603.83 393.57 604.55 397.77 605.25 395.43 605.95 397.44 606.7 393.73 607.38 395.25 608.12 390.93 608.81 393.92 609.28 391.18"/>
<path class="c" stroke="#00dc00" stroke-width="2.6" d="M353.58 387.7 354.07 388.36 354.77 389.3 355.58 390.41 356.37 391.57 356.99 392.55 357.63 393.61 358.29 394.72 358.95 395.84 359.6 396.94 360.24 398.06 360.89 399.21 361.53 400.35 362.18 401.4 362.82 402.31 363.46 403.06 364.11 403.7 364.75 404.24 365.4 404.7 366.04 405.11 366.68 405.46 367.33 405.74 367.97 405.96 368.62 406.1 369.26 406.18 369.91 406.17 370.55 406.07 371.2 405.91 371.84 405.72 372.49 405.54 373.13 405.35 373.78 405.12 374.42 404.88 375.07 404.65 375.71 404.46 376.35 404.31 377 404.18 377.64 404.07 378.29 403.96 378.93 403.82 379.58 403.67 380.22 403.5 380.87 403.33 381.51 403.15 382.16 402.96 382.8 402.75 383.45 402.52 384.09 402.29 384.74 402.07 385.38 401.88 386.02 401.7 386.67 401.51 387.31 401.35 387.96 401.25 388.6 401.24 389.25 401.31 389.89 401.44 390.54 401.64 391.18 401.93 391.83 402.31 392.47 402.81 393.12 403.43 393.76 404.11 394.41 404.83 395.05 405.54 395.69 406.24 396.34 406.96 396.98 407.69 397.63 408.44 398.27 409.19 398.92 409.97 399.56 410.78 400.21 411.59 400.85 412.37 401.5 413.06 402.14 413.68 402.79 414.25 403.43 414.76 404.08 415.23 404.72 415.64 405.36 416.01 406.01 416.34 406.65 416.62 407.3 416.82 407.94 416.93 408.59 416.92 409.23 416.81 409.88 416.63 410.52 416.44 411.17 416.28 411.81 416.15 412.46 416.03 413.1 415.91 413.75 415.78 414.39 415.64 415.03 415.49 415.68 415.33 416.32 415.17 416.97 414.98 417.61 414.78 418.25 414.55 418.9 414.31 419.54 414.04 420.19 413.77 420.83 413.49 421.48 413.21 422.12 412.93 422.77 412.64 423.41 412.33 424.06 411.98 424.7 411.6 425.35 411.2 425.99 410.77 426.64 410.31 427.28 409.83 427.92 409.3 428.57 408.72 429.21 408.12 429.86 407.55 430.5 407.04 431.15 406.59 431.79 406.18 432.44 405.79 433.08 405.44 433.73 405.11 434.37 404.8 435.02 404.51 435.66 404.24 436.31 404.01 436.95 403.82 437.59 403.67 438.24 403.57 438.88 403.49 439.53 403.43 440.17 403.39 440.82 403.36 441.46 403.36 442.11 403.37 442.75 403.38 443.4 403.39 444.04 403.38 444.69 403.36 445.33 403.34 445.98 403.35 446.62 403.39 447.26 403.47 447.91 403.59 448.55 403.73 449.2 403.88 449.84 404.03 450.49 404.18 451.13 404.34 451.78 404.5 452.42 404.69 453.07 404.89 453.71 405.12 454.36 405.39 455 405.66 455.65 405.93 456.29 406.18 456.93 406.42 457.58 406.66 458.22 406.88 458.87 407.09 459.51 407.26 460.16 407.4 460.8 407.53 461.45 407.63 462.09 407.68 462.74 407.69 463.38 407.64 464.03 407.55 464.67 407.41 465.32 407.24 465.96 407.04 466.6 406.8 467.25 406.53 467.89 406.23 468.54 405.9 469.18 405.54 469.82 405.16 470.47 404.75 471.11 404.31 471.76 403.86 472.4 403.39 473.05 402.89 473.69 402.37 474.34 401.83 474.98 401.31 475.63 400.81 476.29 400.34 476.97 399.87 477.64 399.42 478.27 399.01 478.85 398.66 479.61 398.15 480.24 397.76 481 397.59 481.58 397.65 482.21 397.84 482.88 398.08 483.56 398.3 484.22 398.45 484.87 398.51 485.51 398.53 486.16 398.52 486.8 398.49 487.45 398.45 488.09 398.4 488.74 398.34 489.38 398.26 490.03 398.15 490.67 398.02 491.31 397.86 491.96 397.69 492.6 397.48 493.25 397.23 493.89 396.94 494.54 396.57 495.18 396.13 495.83 395.65 496.47 395.2 497.12 394.79 497.76 394.44 498.41 394.12 499.05 393.83 499.7 393.55 500.34 393.29 500.98 393.05 501.63 392.83 502.27 392.62 502.92 392.42 503.56 392.21 504.21 392.03 504.85 391.9 505.5 391.74 506.14 391.51 506.79 391.14 507.43 390.63 508.08 390.02 508.72 389.31 509.37 388.54 510.01 387.7 510.65 386.79 511.3 385.78 511.94 384.72 512.59 383.64 513.23 382.55 513.87 381.46 514.52 380.36 515.16 379.23 515.81 378.1 516.45 376.96 517.1 375.81 517.74 374.63 518.39 373.46 519.03 372.3 519.68 371.16 520.32 370.03 520.97 368.91 521.61 367.81 522.26 366.76 522.9 365.79 523.54 364.87 524.19 363.99 524.83 363.18 525.48 362.48 526.12 361.92 526.77 361.5 527.41 361.19 528.06 361.01 528.7 360.96 529.35 361.06 529.99 361.33 530.64 361.76 531.28 362.32 531.93 362.96 532.57 363.64 533.21 364.41 533.86 365.28 534.5 366.21 535.15 367.11 535.79 367.93 536.44 368.68 537.08 369.4 537.73 370.07 538.37 370.67 539.02 371.16 539.66 371.56 540.31 371.9 540.95 372.14 541.6 372.26 542.24 372.23 542.88 372.02 543.53 371.65 544.17 371.17 544.82 370.63 545.46 370.08 546.11 369.48 546.75 368.79 547.4 368.08 548.04 367.41 548.69 366.86 549.33 366.4 549.98 365.99 550.62 365.66 551.27 365.44 551.91 365.36 552.55 365.45 553.2 365.68 553.84 366.02 554.49 366.43 555.13 366.86 555.78 367.34 556.42 367.89 557.07 368.49 557.71 369.08 558.36 369.65 559 370.19 559.65 370.74 560.29 371.27 560.94 371.77 561.58 372.23 562.22 372.65 562.87 373.04 563.51 373.4 564.16 373.7 564.8 373.95 565.44 374.14 566.09 374.27 566.73 374.35 567.38 374.38 568.02 374.38 568.67 374.32 569.31 374.19 569.96 374.03 570.6 373.87 571.25 373.74 571.89 373.61 572.54 373.46 573.18 373.33 573.83 373.27 574.47 373.31 575.11 373.46 575.76 373.68 576.4 373.98 577.05 374.35 577.69 374.81 578.34 375.37 578.98 376.04 579.63 376.77 580.27 377.52 580.92 378.25 581.56 378.97 582.21 379.69 582.85 380.43 583.5 381.17 584.14 381.9 584.78 382.64 585.43 383.4 586.07 384.15 586.72 384.87 587.36 385.55 588.01 386.17 588.65 386.76 589.3 387.32 589.94 387.85 590.59 388.35 591.23 388.83 591.88 389.29 592.52 389.72 593.17 390.12 593.81 390.5 594.45 390.86 595.1 391.19 595.74 391.49 596.39 391.77 597.03 392 597.68 392.19 598.32 392.35 598.97 392.47 599.61 392.57 600.26 392.64 600.9 392.66 601.55 392.63 602.19 392.59 602.84 392.58 603.48 392.64 604.13 392.8 604.8 393.03 605.46 393.28 606.1 393.53 606.7 393.72 607.45 393.88 608.19 394 608.83 394.09 609.28 394.15"/>
</g>
<rect x="353.45" y="340.8" width="255.55" height="105" fill="none" stroke="#000" stroke-width="1.65"/>
<path d="M350.15 348.3H353.45" stroke="#000" stroke-width="1.1"/>
<text class="t" x="347.95" y="352.6" text-anchor="end">30</text>
<path d="M350.15 363.3H353.45" stroke="#000" stroke-width="1.1"/>
<text class="t" x="347.95" y="367.6" text-anchor="end">20</text>
<path d="M350.15 378.3H353.45" stroke="#000" stroke-width="1.1"/>
<text class="t" x="347.95" y="382.6" text-anchor="end">10</text>
<path d="M350.15 393.3H353.45" stroke="#000" stroke-width="1.1"/>
<text class="t" x="347.95" y="397.6" text-anchor="end">0</text>
<path d="M350.15 408.3H353.45" stroke="#000" stroke-width="1.1"/>
<text class="t" x="347.95" y="412.6" text-anchor="end">−<tspan dx="0.9">10</tspan></text>
<path d="M350.15 423.3H353.45" stroke="#000" stroke-width="1.1"/>
<text class="t" x="347.95" y="427.6" text-anchor="end">−<tspan dx="0.9">20</tspan></text>
<path d="M350.15 438.3H353.45" stroke="#000" stroke-width="1.1"/>
<text class="t" x="347.95" y="442.6" text-anchor="end">−<tspan dx="0.9">30</tspan></text>
<path d="M353.45 445.8V448.8" stroke="#000" stroke-width="1.1"/>
<text class="t" x="353.75" y="458.2" text-anchor="middle" textLength="15.6" lengthAdjust="spacingAndGlyphs">JAN</text>
<path d="M375.15 445.8V448.8" stroke="#000" stroke-width="1.1"/>
<text class="t" x="375.45" y="458.2" text-anchor="middle" textLength="15.7" lengthAdjust="spacingAndGlyphs">FEB</text>
<path d="M394.76 445.8V448.8" stroke="#000" stroke-width="1.1"/>
<text class="t" x="395.06" y="458.2" text-anchor="middle" textLength="16.4" lengthAdjust="spacingAndGlyphs">MAR</text>
<path d="M416.46 445.8V448.8" stroke="#000" stroke-width="1.1"/>
<text class="t" x="416.76" y="458.2" text-anchor="middle" textLength="16.4" lengthAdjust="spacingAndGlyphs">APR</text>
<path d="M437.47 445.8V448.8" stroke="#000" stroke-width="1.1"/>
<text class="t" x="437.77" y="458.2" text-anchor="middle" textLength="16.4" lengthAdjust="spacingAndGlyphs">MAY</text>
<path d="M459.17 445.8V448.8" stroke="#000" stroke-width="1.1"/>
<text class="t" x="459.47" y="458.2" text-anchor="middle" textLength="16.4" lengthAdjust="spacingAndGlyphs">JUN</text>
<path d="M480.17 445.8V448.8" stroke="#000" stroke-width="1.1"/>
<text class="t" x="480.47" y="458.2" text-anchor="middle" textLength="13.9" lengthAdjust="spacingAndGlyphs">JUL</text>
<path d="M501.88 445.8V448.8" stroke="#000" stroke-width="1.1"/>
<text class="t" x="502.18" y="458.2" text-anchor="middle" textLength="16.9" lengthAdjust="spacingAndGlyphs">AUG</text>
<path d="M523.58 445.8V448.8" stroke="#000" stroke-width="1.1"/>
<text class="t" x="523.88" y="458.2" text-anchor="middle" textLength="16" lengthAdjust="spacingAndGlyphs">SEP</text>
<path d="M544.59 445.8V448.8" stroke="#000" stroke-width="1.1"/>
<text class="t" x="544.89" y="458.2" text-anchor="middle" textLength="15.5" lengthAdjust="spacingAndGlyphs">OCT</text>
<path d="M566.29 445.8V448.8" stroke="#000" stroke-width="1.1"/>
<text class="t" x="566.59" y="458.2" text-anchor="middle" textLength="17.2" lengthAdjust="spacingAndGlyphs">NOV</text>
<path d="M587.3 445.8V448.8" stroke="#000" stroke-width="1.1"/>
<text class="t" x="587.6" y="458.2" text-anchor="middle" textLength="16.4" lengthAdjust="spacingAndGlyphs">DEC</text>
<text class="t" x="353.25" y="468.5" text-anchor="middle" textLength="22.1" lengthAdjust="spacingAndGlyphs">2010</text>
<text class="u" transform="translate(322.45 394.6) rotate(-90)" text-anchor="middle">(cm)</text>
<text class="v" x="504.85" y="441.1" text-anchor="middle" fill="#00dc00" textLength="27.4" lengthAdjust="spacingAndGlyphs">5.056</text>
<text class="v" x="545.85" y="441.1" text-anchor="middle" fill="#fa3c3c" textLength="27.4" lengthAdjust="spacingAndGlyphs">4.717</text>
<text class="v" x="586.65" y="441.1" text-anchor="middle" fill="#1e3cff" textLength="27.4" lengthAdjust="spacingAndGlyphs">4.881</text>
</g>
<g id="legend"><rect x="100.5" y="476.7" width="425.8" height="25.4" fill="#fff" stroke="#404040" stroke-width="1"/>
<path d="M114.1 489.6H152.4" stroke="#7f7f7f" stroke-width="3.7"/>
<text class="l" x="157.8" y="493.2" fill="#7f7f7f" stroke="#7f7f7f" textLength="53.8" lengthAdjust="spacingAndGlyphs">Tide gauge</text>
<path d="M229.7 489.6H268.2" stroke="#00dc00" stroke-width="3.1"/>
<text class="l" x="272.9" y="493.2" fill="#00dc00" stroke="#00dc00" textLength="30.8" lengthAdjust="spacingAndGlyphs">AVISO</text>
<path d="M332.4 489.6H370.5" stroke="#fa3c3c" stroke-width="3.1"/>
<text class="l" x="375.9" y="493.2" fill="#fa3c3c" stroke="#fa3c3c" textLength="27" lengthAdjust="spacingAndGlyphs">FORA</text>
<path d="M434.8 489.6H473.1" stroke="#1e3cff" stroke-width="3.1"/>
<text class="l" x="478" y="493.2" fill="#1e3cff" stroke="#1e3cff" textLength="34.4" lengthAdjust="spacingAndGlyphs">3DVAR</text>
</g>
</svg></body></html>
